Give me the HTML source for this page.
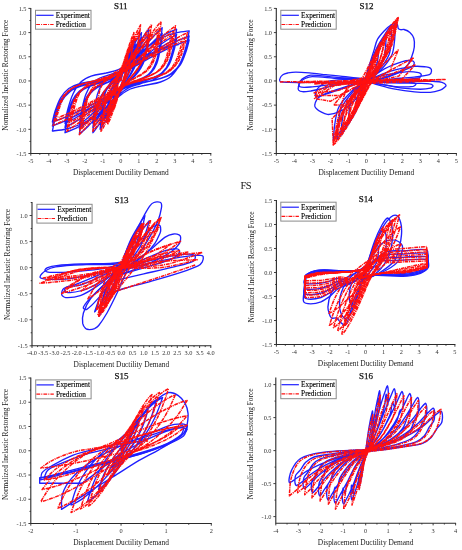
<!DOCTYPE html>
<html lang="en">
<head>
<meta charset="utf-8">
<title>Hysteresis loops: experiment vs prediction (S11-S16)</title>
<style>
html,body{margin:0;padding:0;background:#fff}
body{width:462px;height:550px;overflow:hidden}
svg{display:block;font-family:"Liberation Serif",serif}
.ax{fill:none;stroke:#2b2b2b;stroke-width:1.1}
.tk{fill:none;stroke:#2b2b2b;stroke-width:0.9}
.tl{font-size:6.3px;fill:#333}
.at{font-size:7.4px;fill:#222}
.ti{font-size:9px;fill:#111;stroke:#111;stroke-width:0.25}
.lt{font-size:7.3px;fill:#000;stroke:#000;stroke-width:0.12}
.fs{font-size:10.4px;fill:#111;letter-spacing:-0.4px}
.lg{fill:#fff;stroke:#8a8a8a;stroke-width:1}
.le{stroke-width:1.2 !important;stroke-linecap:butt !important}
.e{fill:none;stroke:#1f1fff;stroke-width:1.35;stroke-linejoin:round;stroke-linecap:round}
.p{fill:none;stroke:#ff1010;stroke-width:1.5;stroke-linejoin:round;stroke-dasharray:3.8 0.8 1.1 0.8}
.p.le{stroke-dasharray:3.8 1.1 1 1.1}
</style>
</head>
<body>
<svg width="462" height="550" viewBox="0 0 462 550">
<rect width="462" height="550" fill="#fff"/>
<g>
<path class="e" d="M120.8 81.0C121.5 78.3 123.3 70.2 124.8 65.0C126.0 61.4 128.2 56.1 128.9 54.3C128.8 55.2 128.6 57.9 128.4 59.7C128.2 61.6 127.9 63.6 127.6 65.5C127.3 67.3 126.9 69.1 126.5 70.8C126.0 72.6 125.4 74.4 124.8 76.2C124.4 77.6 123.8 79.0 123.2 80.4C122.7 81.8 122.1 83.1 121.6 84.4C121.0 85.9 120.5 87.4 120.0 88.9C119.3 90.7 118.7 92.5 118.0 94.3C117.3 96.2 116.7 98.2 115.9 100.1C115.3 101.7 114.7 103.3 114.0 104.9C113.6 105.8 112.9 107.1 112.7 107.6C112.8 106.7 113.0 104.2 113.2 102.5C113.4 100.6 113.7 98.8 114.0 96.9C114.3 95.2 114.7 93.5 115.1 91.9C115.6 90.2 116.2 88.5 116.8 86.8C117.2 85.5 117.8 84.1 118.4 82.8C118.9 81.5 119.5 80.3 120.0 79.0C120.6 77.6 121.1 76.1 121.6 74.7C122.3 73.0 122.9 71.3 123.6 69.6C124.3 67.8 124.9 65.9 125.7 64.1C126.3 62.6 126.9 61.0 127.6 59.5C128.0 58.7 128.7 57.4 128.9 57.0C128.8 57.8 128.6 60.2 128.4 61.8C128.2 63.6 127.9 65.3 127.6 67.1C127.3 68.7 126.9 70.3 126.5 71.9C126.0 73.5 125.4 75.1 124.8 76.6C124.4 77.9 123.8 79.2 123.2 80.5C122.7 81.7 122.1 82.9 121.6 84.1C121.0 85.4 120.5 86.8 120.0 88.1C119.3 89.7 118.7 91.3 118.0 92.9C117.3 94.7 116.7 96.4 115.9 98.2C115.3 99.6 114.7 101.1 114.0 102.5C113.6 103.3 112.9 104.5 112.7 104.9C112.8 104.1 113.0 101.8 113.2 100.3C113.4 98.6 113.7 96.9 114.0 95.3C114.3 93.7 114.7 92.2 115.1 90.7C115.6 89.2 116.2 87.6 116.8 86.1C117.2 84.9 117.8 83.7 118.4 82.5C118.9 81.3 119.5 80.2 120.0 79.0C120.6 77.8 121.1 76.4 121.6 75.2C122.3 73.6 122.9 72.1 123.6 70.6C124.3 68.9 124.9 67.2 125.7 65.5C126.3 64.2 126.9 62.8 127.6 61.4C128.0 60.6 128.7 59.5 128.9 59.1C128.8 59.9 128.6 62.1 128.4 63.5C128.2 65.1 127.9 66.7 127.6 68.3C127.3 69.8 126.9 71.2 126.5 72.7C126.0 74.1 125.4 75.6 124.8 77.0C124.4 78.2 123.8 79.4 123.2 80.5C122.7 81.6 122.1 82.7 121.6 83.8C121.0 85.0 120.5 86.3 120.0 87.5C119.3 89.0 118.7 90.4 118.0 91.9C117.3 93.5 116.7 95.1 115.9 96.7C115.3 98.0 114.7 99.3 114.0 100.6C113.6 101.3 112.9 102.4 112.7 102.8C112.8 101.7 113.1 98.6 113.4 96.5C113.7 94.2 114.0 91.8 114.5 89.5C114.9 87.4 115.4 85.3 116.1 83.3C116.7 81.1 117.5 79.0 118.3 77.0C119.0 75.3 119.8 73.6 120.6 71.9C121.3 70.3 122.1 68.8 122.8 67.2C123.6 65.4 124.3 63.6 125.1 61.9C126.0 59.8 126.9 57.7 127.8 55.6C128.8 53.3 129.7 50.9 130.7 48.6C131.6 46.7 132.4 44.8 133.4 43.0C133.9 41.9 134.9 40.4 135.2 39.8C135.1 41.2 134.7 45.3 134.3 48.1C133.9 51.1 133.5 54.1 132.9 57.1C132.3 59.9 131.7 62.6 130.9 65.3C130.1 68.1 129.1 70.8 128.0 73.5C127.1 75.8 126.1 77.9 125.1 80.1C124.2 82.2 123.1 84.2 122.2 86.3C121.2 88.6 120.3 91.0 119.4 93.3C118.2 96.0 117.0 98.8 115.9 101.5C114.6 104.5 113.5 107.6 112.2 110.6C111.1 113.0 109.9 115.5 108.7 118.0C108.0 119.4 106.8 121.4 106.4 122.1C106.5 120.8 106.9 116.8 107.3 114.3C107.7 111.4 108.1 108.5 108.7 105.7C109.3 103.0 109.9 100.4 110.7 97.8C111.5 95.2 112.5 92.6 113.6 90.0C114.5 87.9 115.5 85.9 116.5 83.8C117.4 81.8 118.4 79.9 119.4 77.9C120.4 75.7 121.3 73.5 122.2 71.3C123.4 68.7 124.6 66.1 125.7 63.5C127.0 60.6 128.1 57.7 129.4 54.9C130.5 52.5 131.7 50.2 132.9 47.9C133.6 46.5 134.8 44.6 135.2 43.9C135.1 45.2 134.7 48.9 134.3 51.3C133.9 54.1 133.5 56.8 132.9 59.5C132.3 62.0 131.7 64.5 130.9 66.9C130.0 69.4 129.0 71.9 128.0 74.3C127.1 76.3 126.1 78.2 125.1 80.2C124.2 82.1 123.2 83.9 122.2 85.8C121.2 87.8 120.3 90.0 119.4 92.1C118.2 94.5 117.0 97.0 115.9 99.5C114.6 102.2 113.5 104.9 112.2 107.6C111.1 109.8 109.9 112.1 108.7 114.3C108.0 115.5 106.8 117.3 106.4 118.0C106.5 116.8 106.9 113.2 107.3 110.9C107.7 108.3 108.1 105.7 108.7 103.1C109.3 100.7 109.9 98.3 110.7 96.0C111.6 93.6 112.6 91.3 113.6 89.0C114.5 87.0 115.5 85.2 116.5 83.3C117.4 81.5 118.4 79.8 119.4 78.0C120.4 76.0 121.3 74.0 122.2 72.0C123.4 69.6 124.6 67.3 125.7 64.9C127.0 62.3 128.1 59.7 129.4 57.1C130.5 55.0 131.7 52.9 132.9 50.8C133.6 49.6 134.8 47.8 135.2 47.2C135.1 48.4 134.7 51.7 134.3 54.0C133.9 56.5 133.5 59.0 132.9 61.4C132.3 63.7 131.7 65.9 130.9 68.1C130.0 70.4 129.0 72.7 128.0 74.9C127.1 76.7 126.1 78.5 125.1 80.3C124.2 82.0 123.2 83.6 122.2 85.3C121.2 87.2 120.3 89.2 119.4 91.1C118.2 93.3 117.0 95.6 115.9 97.8C114.6 100.3 113.5 102.8 112.2 105.2C111.1 107.3 109.9 109.3 108.7 111.3C108.0 112.5 106.8 114.1 106.4 114.7C106.6 113.3 107.0 109.2 107.5 106.5C107.9 103.4 108.5 100.4 109.2 97.4C109.9 94.7 110.7 91.9 111.7 89.2C112.7 86.4 113.9 83.7 115.2 81.0C116.2 78.8 117.5 76.6 118.7 74.4C119.8 72.4 121.1 70.4 122.2 68.3C123.4 66.0 124.5 63.6 125.7 61.3C127.1 58.6 128.5 55.8 129.9 53.1C131.4 50.1 132.9 47.0 134.5 44.1C135.8 41.6 137.2 39.1 138.7 36.7C139.6 35.3 141.0 33.3 141.5 32.6C141.3 34.2 140.8 39.0 140.3 42.3C139.7 45.8 139.0 49.4 138.2 52.9C137.4 56.2 136.4 59.4 135.3 62.6C134.1 65.9 132.7 69.1 131.2 72.2C129.9 74.9 128.4 77.4 127.0 80.0C125.7 82.4 124.2 84.8 122.9 87.2C121.4 89.9 120.1 92.7 118.7 95.5C117.1 98.7 115.4 101.9 113.8 105.1C112.0 108.7 110.3 112.3 108.4 115.8C106.8 118.7 105.2 121.6 103.4 124.5C102.4 126.1 100.7 128.5 100.1 129.3C100.3 127.8 100.8 123.2 101.3 120.1C101.9 116.7 102.6 113.3 103.4 110.0C104.2 106.9 105.2 103.8 106.3 100.8C107.5 97.7 108.9 94.6 110.4 91.6C111.7 89.1 113.2 86.7 114.6 84.3C115.9 82.0 117.4 79.7 118.7 77.4C120.2 74.8 121.5 72.2 122.9 69.6C124.5 66.5 126.2 63.5 127.8 60.4C129.6 57.0 131.3 53.6 133.2 50.3C134.8 47.5 136.4 44.7 138.2 42.0C139.2 40.4 140.9 38.2 141.5 37.4C141.3 38.9 140.8 43.2 140.3 46.1C139.7 49.3 139.0 52.6 138.2 55.7C137.4 58.6 136.4 61.6 135.3 64.4C134.1 67.4 132.6 70.3 131.2 73.1C129.9 75.5 128.4 77.8 127.0 80.1C125.7 82.3 124.2 84.4 122.9 86.6C121.4 89.0 120.1 91.5 118.7 94.0C117.1 96.9 115.4 99.8 113.8 102.7C112.0 105.9 110.3 109.1 108.4 112.3C106.8 114.9 105.1 117.6 103.4 120.1C102.4 121.6 100.7 123.8 100.1 124.5C100.3 123.1 100.8 118.9 101.3 116.2C101.9 113.1 102.6 110.0 103.4 107.0C104.2 104.2 105.2 101.4 106.3 98.7C107.5 95.8 109.0 93.1 110.4 90.4C111.7 88.1 113.2 85.9 114.6 83.7C115.9 81.6 117.4 79.6 118.7 77.5C120.2 75.2 121.5 72.8 122.9 70.4C124.5 67.6 126.2 64.9 127.8 62.1C129.6 59.0 131.4 55.9 133.2 52.9C134.8 50.4 136.5 47.9 138.2 45.4C139.2 44.0 140.9 42.0 141.5 41.3C141.3 42.6 140.8 46.6 140.3 49.2C139.7 52.2 139.0 55.1 138.2 57.9C137.4 60.6 136.4 63.3 135.3 65.9C134.1 68.6 132.6 71.2 131.2 73.8C129.9 76.0 128.4 78.1 127.0 80.2C125.7 82.2 124.2 84.1 122.9 86.1C121.4 88.3 120.1 90.6 118.7 92.8C117.1 95.5 115.4 98.1 113.8 100.8C112.0 103.7 110.2 106.6 108.4 109.5C106.8 111.9 105.1 114.3 103.4 116.6C102.4 118.0 100.7 119.9 100.1 120.6C100.3 119.0 100.8 114.0 101.3 110.7C102.0 106.4 102.6 102.0 103.7 97.8C104.5 94.7 105.6 91.6 107.0 88.7C108.2 86.1 109.7 83.6 111.4 81.3C113.0 79.2 114.9 77.2 116.7 75.2C118.3 73.4 120.0 71.7 121.5 69.8C123.1 67.9 124.4 65.8 125.8 63.8C127.8 60.8 129.8 57.7 131.8 54.7C134.0 51.3 136.1 47.8 138.2 44.4C140.3 41.2 142.3 38.1 144.4 35.0C145.7 33.0 148.0 30.2 148.7 29.2C148.5 31.1 147.9 36.7 147.3 40.5C146.5 45.3 145.8 50.3 144.6 55.0C143.7 58.6 142.4 62.1 140.8 65.4C139.4 68.3 137.6 71.1 135.7 73.7C133.9 76.1 131.7 78.3 129.7 80.6C127.8 82.7 125.8 84.6 124.1 86.8C122.3 88.9 120.8 91.2 119.2 93.5C116.9 97.0 114.6 100.4 112.3 103.9C109.8 107.7 107.4 111.6 104.9 115.5C102.6 119.1 100.3 122.7 97.9 126.2C96.3 128.4 93.7 131.6 92.9 132.7C93.1 130.9 93.7 125.6 94.3 122.0C95.1 117.4 95.8 112.7 97.0 108.2C97.9 104.8 99.2 101.5 100.8 98.3C102.2 95.6 104.0 92.9 105.9 90.5C107.7 88.1 109.9 86.1 111.9 83.9C113.8 81.9 115.8 80.1 117.5 78.0C119.3 76.0 120.8 73.8 122.4 71.6C124.7 68.3 127.0 65.1 129.3 61.8C131.8 58.1 134.2 54.4 136.7 50.7C139.0 47.3 141.3 43.9 143.7 40.6C145.3 38.4 147.9 35.4 148.7 34.4C148.5 36.1 147.9 41.1 147.3 44.5C146.5 48.9 145.8 53.3 144.6 57.6C143.7 60.8 142.4 64.0 140.8 66.9C139.4 69.6 137.6 72.1 135.7 74.4C133.9 76.6 131.7 78.6 129.7 80.6C127.8 82.5 125.8 84.2 124.1 86.2C122.4 88.1 120.8 90.2 119.2 92.3C116.9 95.3 114.6 98.5 112.3 101.6C109.8 105.0 107.4 108.6 104.9 112.0C102.6 115.3 100.3 118.5 97.9 121.6C96.3 123.7 93.7 126.5 92.9 127.5C93.1 125.9 93.7 121.1 94.3 117.8C95.1 113.7 95.8 109.4 97.0 105.3C97.9 102.3 99.2 99.2 100.8 96.4C102.2 93.9 104.0 91.5 105.9 89.3C107.7 87.1 109.9 85.3 111.9 83.3C113.8 81.5 115.8 79.9 117.5 78.0C119.2 76.2 120.8 74.2 122.4 72.2C124.7 69.3 127.0 66.3 129.3 63.3C131.8 60.0 134.2 56.6 136.7 53.3C139.0 50.2 141.3 47.1 143.7 44.1C145.3 42.2 147.9 39.4 148.7 38.5C148.5 40.1 147.9 44.7 147.3 47.7C146.5 51.7 145.8 55.8 144.6 59.7C143.7 62.6 142.4 65.5 140.8 68.2C139.4 70.6 137.6 72.9 135.7 75.0C133.9 77.0 131.7 78.8 129.7 80.7C127.8 82.4 125.8 83.9 124.1 85.7C122.4 87.5 120.8 89.4 119.2 91.3C116.9 94.1 114.6 96.9 112.3 99.8C109.8 102.9 107.4 106.1 104.9 109.3C102.6 112.2 100.3 115.2 97.9 118.0C96.3 119.9 93.7 122.5 92.9 123.4C93.1 121.4 93.7 115.5 94.3 111.6C95.2 105.8 95.8 100.0 97.4 94.4C98.4 90.9 99.9 87.4 101.9 84.3C103.3 82.2 105.4 80.5 107.5 79.0C110.0 77.2 113.0 76.0 115.8 74.5C118.1 73.2 120.5 72.2 122.7 70.7C124.5 69.5 126.1 68.1 127.5 66.6C130.7 63.3 133.6 59.7 136.6 56.2C139.7 52.5 142.8 48.7 145.9 45.0C149.0 41.5 152.0 37.9 155.3 34.4C157.5 32.1 161.0 28.9 162.2 27.7C161.9 29.9 161.3 36.5 160.5 40.9C159.5 47.3 158.7 53.8 156.8 60.0C155.6 64.0 153.8 67.9 151.4 71.2C149.8 73.6 147.3 75.5 144.8 77.1C141.7 79.2 138.2 80.5 134.9 82.2C132.1 83.6 129.2 84.7 126.6 86.4C124.5 87.7 122.6 89.3 120.8 91.0C117.0 94.6 113.6 98.6 110.0 102.5C106.3 106.6 102.6 110.8 98.9 114.9C95.2 118.9 91.5 122.9 87.7 126.7C85.0 129.3 80.8 132.9 79.4 134.2C79.7 132.1 80.3 126.0 81.1 121.9C82.1 115.8 82.9 109.6 84.8 103.7C85.9 100.1 87.9 96.5 90.2 93.5C91.9 91.2 94.4 89.4 96.8 87.9C99.9 85.9 103.4 84.5 106.7 82.9C109.5 81.5 112.4 80.4 115.0 78.9C117.1 77.7 119.0 76.3 120.8 74.7C124.5 71.5 128.1 67.9 131.6 64.4C135.4 60.6 139.0 56.6 142.7 52.7C146.5 48.8 150.1 44.7 153.9 40.9C156.6 38.2 160.8 34.4 162.2 33.1C161.9 35.0 161.3 40.8 160.5 44.7C159.5 50.4 158.7 56.4 156.8 61.9C155.6 65.4 153.7 68.8 151.4 71.6C149.7 73.8 147.2 75.5 144.8 76.9C141.7 78.8 138.2 80.1 134.9 81.6C132.1 82.9 129.2 84.0 126.6 85.4C124.6 86.5 122.6 87.9 120.8 89.4C117.1 92.4 113.6 95.8 110.0 99.2C106.2 102.8 102.6 106.5 98.9 110.2C95.1 114.0 91.5 117.8 87.7 121.5C85.0 124.0 80.8 127.6 79.4 128.8C79.7 127.0 80.3 121.4 81.1 117.8C82.1 112.2 82.9 106.5 84.8 101.3C86.0 98.0 87.9 94.7 90.2 92.0C91.9 89.9 94.4 88.3 96.8 86.9C99.9 85.1 103.4 83.9 106.7 82.4C109.5 81.2 112.3 80.2 115.0 78.8C117.0 77.7 119.0 76.5 120.8 75.0C124.5 72.1 128.0 68.9 131.6 65.7C135.4 62.2 139.0 58.6 142.7 55.1C146.5 51.5 150.1 47.9 153.9 44.4C156.6 41.9 160.8 38.5 162.2 37.3C161.9 39.1 161.3 44.4 160.5 47.9C159.5 53.1 158.7 58.6 156.8 63.6C155.6 66.8 153.7 69.9 151.4 72.4C149.7 74.5 147.2 76.0 144.8 77.3C141.7 79.0 138.2 80.1 134.9 81.6C132.1 82.7 129.3 83.7 126.6 85.0C124.6 86.0 122.6 87.2 120.8 88.6C117.1 91.4 113.6 94.5 110.0 97.5C106.2 100.8 102.6 104.3 98.9 107.6C95.1 111.0 91.5 114.5 87.7 117.9C85.0 120.2 80.8 123.5 79.4 124.6C79.7 122.5 80.5 116.1 81.3 112.0C82.6 106.2 83.7 100.3 85.7 94.8C87.2 90.8 89.3 86.7 92.0 83.5C94.0 81.1 97.0 79.3 99.8 78.0C103.5 76.2 107.6 75.4 111.5 74.1C114.7 72.9 118.2 72.1 121.2 70.6C123.7 69.3 125.9 67.4 128.0 65.6C132.4 61.6 136.3 57.2 140.6 53.1C144.9 49.2 149.1 45.1 153.8 41.6C157.9 38.5 162.4 35.8 166.9 33.3C170.0 31.7 175.0 29.9 176.6 29.2C176.2 31.5 175.4 38.4 174.4 42.9C173.0 49.2 171.7 55.6 169.3 61.5C167.6 65.9 165.2 70.3 162.1 73.8C159.8 76.4 156.4 78.3 153.2 79.8C149.0 81.7 144.2 82.5 139.8 84.0C136.0 85.2 132.1 86.1 128.6 87.8C125.8 89.2 123.2 91.2 120.8 93.2C115.8 97.5 111.2 102.4 106.3 106.7C101.4 111.1 96.5 115.5 91.2 119.3C86.5 122.7 81.3 125.6 76.2 128.2C72.6 130.0 66.9 132.0 65.0 132.7C65.4 130.7 66.3 124.5 67.2 120.5C68.7 114.6 69.8 108.4 72.3 102.8C73.9 99.0 76.6 95.4 79.5 92.5C82.0 90.1 85.3 88.4 88.4 87.0C92.7 85.0 97.4 83.9 101.8 82.3C105.5 81.0 109.4 80.0 113.0 78.5C115.7 77.3 118.3 75.8 120.8 74.2C125.8 70.8 130.5 67.1 135.3 63.5C140.4 59.7 145.3 55.7 150.4 52.0C155.3 48.3 160.3 44.6 165.4 41.2C169.1 38.7 174.7 35.5 176.6 34.4C176.2 36.3 175.3 42.1 174.4 45.9C172.9 51.5 171.8 57.4 169.3 62.7C167.7 66.3 165.0 69.8 162.1 72.5C159.6 74.8 156.3 76.3 153.2 77.7C148.9 79.5 144.2 80.6 139.8 82.1C136.1 83.3 132.2 84.3 128.6 85.7C125.9 86.8 123.3 88.2 120.8 89.8C115.8 93.0 111.1 96.6 106.3 100.0C101.2 103.6 96.3 107.3 91.2 110.9C86.3 114.3 81.3 117.8 76.2 121.1C72.5 123.4 66.9 126.5 65.0 127.5C65.4 125.7 66.3 120.1 67.2 116.5C68.7 111.1 69.9 105.5 72.3 100.5C73.9 97.0 76.6 93.7 79.5 91.1C82.0 88.9 85.3 87.4 88.4 86.1C92.7 84.4 97.4 83.3 101.8 81.9C105.5 80.8 109.4 79.8 113.0 78.4C115.7 77.4 118.3 76.1 120.8 74.6C125.8 71.5 130.5 68.1 135.3 64.8C140.4 61.4 145.3 57.8 150.4 54.4C155.3 51.1 160.3 47.8 165.4 44.7C169.1 42.5 174.7 39.5 176.6 38.5C176.2 40.3 175.3 45.6 174.4 49.0C172.9 54.2 171.7 59.6 169.3 64.3C167.6 67.7 165.0 70.8 162.1 73.2C159.6 75.4 156.3 76.8 153.2 78.0C148.8 79.7 144.2 80.7 139.8 82.0C136.1 83.1 132.2 84.0 128.6 85.3C125.9 86.3 123.3 87.6 120.8 89.0C115.8 91.9 111.1 95.2 106.3 98.3C101.2 101.6 96.3 105.0 91.2 108.2C86.2 111.4 81.3 114.6 76.2 117.5C72.5 119.6 66.9 122.4 65.0 123.4C65.4 121.2 66.3 114.7 67.5 110.4C69.0 104.8 70.6 99.0 73.1 93.8C75.1 89.5 77.8 85.0 81.1 81.8C83.8 79.2 87.5 77.5 91.1 76.2C95.8 74.5 101.0 74.1 106.0 73.0C110.1 72.0 114.5 71.4 118.4 69.7C121.5 68.4 124.4 66.3 127.1 64.2C132.7 59.8 137.6 54.6 143.2 50.3C148.6 46.2 154.1 41.9 160.0 38.8C165.2 36.0 171.1 34.3 176.8 32.7C180.8 31.7 187.1 31.2 189.2 30.9C188.7 33.2 187.7 40.3 186.5 44.9C184.8 51.0 183.1 57.3 180.3 62.9C178.0 67.6 175.1 72.4 171.4 75.9C168.5 78.7 164.4 80.6 160.5 82.0C155.2 83.8 149.5 84.2 144.1 85.5C139.5 86.5 134.7 87.2 130.4 89.0C126.9 90.4 123.8 92.7 120.8 95.0C114.7 99.7 109.2 105.3 103.0 110.0C97.1 114.5 91.1 119.1 84.5 122.5C78.8 125.5 72.4 127.3 66.1 129.0C61.6 130.2 54.7 130.7 52.4 131.0C52.9 129.0 53.9 122.9 55.1 119.0C56.9 113.2 58.4 107.1 61.3 101.9C63.4 98.0 66.7 94.3 70.2 91.5C73.3 89.1 77.3 87.5 81.1 86.2C86.4 84.3 92.1 83.3 97.5 81.8C102.1 80.6 106.8 79.7 111.2 78.2C114.5 77.0 117.7 75.5 120.8 73.8C126.9 70.4 132.6 66.5 138.6 62.9C144.7 59.1 150.8 55.2 157.1 51.6C163.1 48.2 169.3 44.9 175.5 41.8C180.0 39.6 186.9 36.9 189.2 35.9C188.7 37.8 187.7 43.6 186.5 47.2C184.7 52.7 183.2 58.5 180.3 63.5C178.1 67.2 174.9 70.7 171.4 73.3C168.3 75.7 164.3 77.1 160.5 78.4C155.1 80.2 149.5 81.1 144.1 82.5C139.5 83.6 134.8 84.5 130.4 86.0C127.1 87.0 123.9 88.5 120.8 90.1C114.7 93.3 109.0 97.0 103.0 100.5C96.9 104.0 90.8 107.7 84.5 111.1C78.5 114.4 72.3 117.5 66.1 120.4C61.6 122.5 54.7 125.1 52.4 126.0C52.9 124.2 53.9 118.7 55.1 115.2C56.9 109.9 58.5 104.3 61.3 99.7C63.5 96.0 66.8 92.7 70.2 90.3C73.4 88.0 77.3 86.6 81.1 85.4C86.5 83.7 92.1 82.8 97.5 81.5C102.1 80.4 106.8 79.6 111.2 78.2C114.5 77.1 117.7 75.8 120.8 74.2C126.8 71.2 132.6 67.6 138.6 64.3C144.7 60.9 150.8 57.4 157.1 54.2C163.1 51.0 169.3 48.0 175.5 45.2C180.0 43.3 186.9 40.8 189.2 39.9C188.7 41.6 187.7 46.9 186.5 50.2C184.7 55.3 183.1 60.6 180.3 65.0C178.1 68.5 174.8 71.6 171.4 74.0C168.2 76.2 164.2 77.5 160.5 78.6C155.1 80.2 149.5 81.1 144.1 82.3C139.5 83.4 134.8 84.2 130.4 85.5C127.1 86.5 123.9 87.8 120.8 89.3C114.8 92.2 109.0 95.6 103.0 98.7C96.9 102.0 90.8 105.3 84.5 108.4C78.5 111.4 72.3 114.3 66.1 116.9C61.6 118.8 54.7 121.2 52.4 122.0C52.8 120.3 53.8 115.0 54.9 111.7C56.5 107.0 58.1 102.0 60.6 97.8C62.7 94.3 65.6 90.9 68.8 88.5C71.7 86.3 75.4 85.0 78.9 84.0C83.8 82.5 88.9 82.0 94.0 80.9C98.2 80.0 102.5 79.4 106.6 78.1C109.6 77.1 112.6 75.5 115.4 73.9C121.0 70.7 126.2 66.9 131.8 63.6C137.4 60.3 142.9 56.9 148.8 54.2C154.3 51.7 160.0 49.6 165.8 47.8C169.9 46.4 176.3 45.2 178.4 44.7"/>
<path class="p" d="M120.8 81.0C121.4 78.0 123.0 69.3 124.4 63.5C125.4 59.6 127.4 53.9 128.0 51.9C127.9 52.9 127.8 55.8 127.6 57.7C127.4 59.9 127.1 62.0 126.8 64.1C126.6 66.1 126.2 68.0 125.8 69.9C125.4 71.9 124.9 73.8 124.4 75.7C124.0 77.3 123.5 78.8 123.0 80.4C122.5 81.8 122.0 83.3 121.5 84.7C121.0 86.4 120.6 88.0 120.1 89.7C119.5 91.6 118.9 93.5 118.4 95.5C117.7 97.6 117.1 99.7 116.5 101.8C115.9 103.6 115.4 105.3 114.8 107.1C114.4 108.0 113.8 109.5 113.6 110.0C113.7 109.1 113.8 106.3 114.0 104.5C114.2 102.4 114.4 100.4 114.7 98.4C115.0 96.5 115.3 94.7 115.7 92.9C116.1 91.0 116.6 89.2 117.1 87.4C117.6 85.9 118.1 84.4 118.5 83.0C119.0 81.6 119.5 80.2 120.0 78.8C120.4 77.3 120.9 75.7 121.4 74.1C121.9 72.3 122.5 70.5 123.1 68.6C123.7 66.6 124.2 64.6 124.9 62.6C125.4 60.9 126.0 59.2 126.6 57.6C126.9 56.7 127.5 55.3 127.7 54.8C127.6 55.7 127.5 58.3 127.3 60.1C127.1 62.0 126.9 63.9 126.6 65.8C126.3 67.6 126.0 69.3 125.6 71.0C125.2 72.8 124.8 74.5 124.3 76.2C123.8 77.7 123.3 79.0 122.9 80.4C122.4 81.7 121.9 83.0 121.5 84.3C121.0 85.8 120.6 87.3 120.1 88.8C119.6 90.5 119.0 92.3 118.4 94.0C117.8 95.9 117.3 97.8 116.7 99.8C116.1 101.3 115.6 102.9 115.0 104.5C114.7 105.3 114.1 106.6 113.9 107.1C114.0 106.2 114.1 103.7 114.3 102.1C114.5 100.2 114.7 98.4 115.0 96.6C115.2 94.9 115.5 93.2 115.9 91.6C116.3 89.9 116.8 88.3 117.3 86.6C117.7 85.3 118.2 83.9 118.6 82.6C119.1 81.4 119.6 80.1 120.0 78.9C120.5 77.5 120.9 76.0 121.3 74.6C121.9 73.0 122.4 71.3 123.0 69.6C123.5 67.8 124.1 66.0 124.7 64.1C125.2 62.6 125.8 61.1 126.3 59.6C126.7 58.8 127.2 57.6 127.4 57.2C127.4 57.9 127.2 60.3 127.0 61.9C126.8 63.7 126.6 65.4 126.4 67.1C126.1 68.7 125.8 70.3 125.4 71.9C125.1 73.5 124.6 75.1 124.1 76.7C123.7 77.9 123.2 79.2 122.8 80.5C122.4 81.7 121.9 82.8 121.5 84.0C121.0 85.4 120.6 86.7 120.1 88.1C119.6 89.7 119.1 91.3 118.5 92.8C118.0 94.6 117.4 96.3 116.8 98.1C116.3 99.5 115.8 101.0 115.2 102.4C114.9 103.2 114.4 104.3 114.2 104.7C114.3 103.5 114.5 99.9 114.8 97.5C115.0 94.9 115.3 92.2 115.8 89.6C116.1 87.2 116.6 84.8 117.1 82.4C117.7 79.9 118.4 77.5 119.1 75.2C119.7 73.2 120.4 71.3 121.1 69.4C121.7 67.6 122.4 65.8 123.1 64.0C123.8 61.9 124.4 59.9 125.0 57.8C125.8 55.4 126.6 53.0 127.4 50.6C128.3 48.0 129.1 45.3 130.0 42.7C130.7 40.5 131.5 38.3 132.4 36.2C132.8 35.0 133.7 33.2 133.9 32.6C133.8 34.1 133.5 38.7 133.2 41.8C132.8 45.2 132.4 48.5 131.8 51.9C131.3 55.0 130.7 58.0 130.0 61.1C129.2 64.2 128.3 67.2 127.4 70.3C126.6 72.7 125.6 75.2 124.7 77.6C123.9 79.9 122.9 82.2 122.1 84.5C121.2 87.1 120.4 89.7 119.5 92.3C118.4 95.4 117.4 98.4 116.3 101.5C115.2 104.9 114.1 108.3 112.9 111.6C111.9 114.4 110.9 117.2 109.8 119.9C109.1 121.4 108.0 123.7 107.7 124.5C107.8 123.0 108.1 118.7 108.4 115.8C108.8 112.6 109.2 109.4 109.7 106.2C110.2 103.3 110.8 100.4 111.5 97.5C112.3 94.6 113.2 91.7 114.1 88.8C114.9 86.4 115.8 84.1 116.7 81.8C117.5 79.6 118.4 77.5 119.2 75.3C120.2 72.8 121.0 70.4 121.8 67.9C122.8 65.0 123.9 62.1 124.9 59.2C126.0 56.0 127.1 52.8 128.3 49.6C129.2 47.0 130.3 44.4 131.4 41.8C132.0 40.3 133.1 38.1 133.4 37.4C133.3 38.8 133.0 42.9 132.7 45.7C132.3 48.7 131.9 51.8 131.4 54.8C130.9 57.6 130.3 60.3 129.6 63.1C128.9 65.8 128.0 68.6 127.1 71.3C126.3 73.6 125.4 75.8 124.6 77.9C123.8 80.0 122.9 82.1 122.1 84.1C121.2 86.5 120.4 88.8 119.5 91.2C118.5 93.9 117.5 96.7 116.5 99.5C115.4 102.5 114.4 105.5 113.2 108.5C112.3 111.1 111.3 113.5 110.2 116.0C109.6 117.4 108.5 119.4 108.2 120.1C108.3 118.8 108.6 114.9 108.9 112.2C109.3 109.3 109.6 106.4 110.2 103.6C110.6 100.9 111.2 98.3 111.9 95.7C112.6 93.0 113.5 90.4 114.4 87.8C115.1 85.7 116.0 83.6 116.8 81.5C117.6 79.5 118.5 77.6 119.3 75.6C120.2 73.4 120.9 71.1 121.8 68.9C122.8 66.3 123.8 63.6 124.7 61.0C125.8 58.1 126.8 55.2 127.9 52.3C128.9 49.9 129.9 47.6 130.9 45.2C131.5 43.9 132.6 41.9 132.9 41.3C132.8 42.5 132.5 46.3 132.2 48.8C131.8 51.6 131.5 54.4 131.0 57.1C130.5 59.6 129.9 62.2 129.3 64.6C128.6 67.2 127.7 69.7 126.8 72.2C126.1 74.2 125.3 76.2 124.4 78.2C123.6 80.1 122.8 82.0 122.0 83.9C121.2 86.0 120.4 88.1 119.6 90.3C118.6 92.8 117.7 95.3 116.7 97.8C115.6 100.6 114.6 103.4 113.5 106.1C112.6 108.4 111.7 110.6 110.6 112.9C110.1 114.2 109.0 116.0 108.7 116.6C108.9 115.1 109.3 110.5 109.7 107.5C110.1 104.1 110.6 100.7 111.3 97.4C111.9 94.3 112.6 91.2 113.5 88.2C114.4 85.1 115.5 82.0 116.7 79.0C117.6 76.5 118.8 74.1 119.9 71.7C120.9 69.4 122.1 67.1 123.1 64.8C124.2 62.2 125.2 59.6 126.3 57.0C127.5 53.9 128.8 50.9 130.1 47.8C131.5 44.4 132.8 41.0 134.2 37.7C135.4 34.9 136.7 32.2 138.0 29.4C138.8 27.9 140.2 25.6 140.6 24.8C140.4 26.6 139.9 32.0 139.4 35.5C138.9 39.4 138.3 43.3 137.4 47.2C136.7 50.8 135.8 54.3 134.7 57.8C133.5 61.4 132.1 65.0 130.7 68.5C129.5 71.4 128.1 74.2 126.7 77.0C125.5 79.7 124.0 82.3 122.8 85.0C121.4 87.9 120.2 91.0 118.8 94.0C117.2 97.6 115.6 101.1 114.1 104.6C112.3 108.5 110.7 112.5 108.9 116.4C107.4 119.6 105.8 122.8 104.2 125.9C103.2 127.8 101.5 130.4 101.0 131.3C101.2 129.6 101.7 124.5 102.2 121.2C102.7 117.5 103.3 113.7 104.1 110.1C104.9 106.7 105.7 103.3 106.8 100.0C107.9 96.6 109.3 93.2 110.7 89.9C111.9 87.2 113.3 84.5 114.6 81.9C115.8 79.3 117.2 76.9 118.5 74.3C119.8 71.5 121.0 68.6 122.3 65.7C123.9 62.4 125.5 59.0 127.0 55.7C128.7 52.0 130.3 48.2 132.0 44.6C133.5 41.5 135.1 38.5 136.7 35.5C137.7 33.8 139.3 31.3 139.8 30.5C139.6 32.1 139.1 36.9 138.7 40.0C138.1 43.6 137.6 47.1 136.8 50.6C136.0 53.8 135.2 57.0 134.1 60.1C133.0 63.4 131.7 66.6 130.3 69.7C129.2 72.3 127.8 74.8 126.5 77.4C125.3 79.8 123.9 82.1 122.7 84.6C121.4 87.2 120.2 90.0 118.9 92.7C117.4 95.9 115.8 99.1 114.3 102.3C112.7 105.8 111.1 109.3 109.4 112.8C108.0 115.7 106.4 118.6 104.8 121.4C103.9 123.1 102.3 125.4 101.8 126.2C102.0 124.7 102.4 120.1 102.9 117.1C103.4 113.7 104.0 110.4 104.8 107.1C105.5 104.0 106.3 100.9 107.4 97.9C108.5 94.8 109.7 91.8 111.1 88.8C112.2 86.3 113.5 83.9 114.8 81.5C116.0 79.2 117.4 77.0 118.5 74.6C119.8 72.1 121.0 69.5 122.3 66.9C123.7 63.8 125.3 60.8 126.7 57.8C128.4 54.4 129.9 51.0 131.6 47.7C133.0 44.9 134.5 42.2 136.0 39.5C137.0 37.9 138.5 35.7 139.0 34.9C138.8 36.4 138.4 40.8 137.9 43.7C137.4 46.9 136.9 50.1 136.1 53.3C135.4 56.2 134.6 59.1 133.6 62.0C132.5 65.0 131.2 67.9 129.9 70.7C128.8 73.1 127.5 75.4 126.3 77.7C125.1 79.9 123.8 82.0 122.6 84.2C121.3 86.7 120.2 89.2 119.0 91.7C117.5 94.6 116.1 97.5 114.6 100.4C113.0 103.6 111.5 106.8 109.9 110.0C108.5 112.6 107.0 115.3 105.5 117.8C104.6 119.3 103.1 121.5 102.6 122.2C102.8 120.4 103.3 115.1 103.8 111.6C104.5 107.0 105.1 102.4 106.2 97.9C107.0 94.6 108.1 91.3 109.5 88.1C110.7 85.4 112.3 82.7 114.0 80.2C115.6 77.9 117.5 75.8 119.3 73.6C120.9 71.7 122.7 69.8 124.2 67.7C125.8 65.7 127.1 63.5 128.5 61.3C130.6 58.1 132.6 54.8 134.6 51.5C136.8 47.9 138.9 44.2 141.1 40.5C143.1 37.2 145.1 33.8 147.2 30.5C148.6 28.4 150.9 25.4 151.6 24.4C151.3 26.2 150.6 31.9 150.0 35.6C149.1 40.1 148.4 44.7 147.1 49.2C146.1 52.8 144.7 56.4 143.1 59.8C141.5 63.2 139.5 66.3 137.5 69.4C135.6 72.1 133.4 74.6 131.3 77.1C129.4 79.5 127.3 81.8 125.5 84.2C123.5 86.8 121.8 89.5 120.0 92.1C117.6 95.7 115.2 99.3 112.8 102.8C110.2 106.8 107.8 110.8 105.1 114.7C102.8 118.2 100.4 121.7 97.9 125.1C96.3 127.2 93.7 130.2 92.9 131.3C93.2 129.4 93.8 124.0 94.4 120.4C95.2 115.9 95.9 111.3 97.2 106.8C98.2 103.4 99.5 99.9 101.1 96.7C102.6 93.7 104.5 90.9 106.5 88.2C108.3 85.7 110.5 83.5 112.6 81.1C114.5 79.0 116.6 77.0 118.4 74.8C120.2 72.5 121.8 70.1 123.5 67.7C125.9 64.4 128.3 61.0 130.6 57.6C133.2 53.9 135.6 50.0 138.2 46.3C140.5 42.9 142.9 39.5 145.4 36.1C146.9 34.0 149.5 31.0 150.3 30.0C150.1 31.7 149.4 36.7 148.8 40.0C148.0 43.9 147.2 47.9 146.0 51.7C145.0 55.0 143.6 58.3 142.1 61.3C140.5 64.4 138.6 67.4 136.7 70.2C134.9 72.7 132.8 75.0 130.8 77.4C129.0 79.6 127.0 81.8 125.2 84.0C123.3 86.4 121.6 89.0 119.9 91.5C117.6 94.7 115.3 97.9 113.0 101.1C110.5 104.6 108.2 108.2 105.6 111.7C103.4 114.9 101.1 117.9 98.7 120.9C97.2 122.8 94.8 125.3 94.0 126.2C94.3 124.6 94.9 119.8 95.5 116.6C96.3 112.6 97.0 108.6 98.2 104.7C99.2 101.6 100.5 98.5 102.0 95.6C103.5 92.8 105.3 90.1 107.2 87.5C109.0 85.2 111.0 83.1 113.0 80.9C114.8 78.9 116.8 77.0 118.5 74.9C120.3 72.8 121.9 70.5 123.6 68.2C125.8 65.2 128.1 62.2 130.3 59.1C132.8 55.7 135.1 52.2 137.6 48.9C139.8 45.8 142.1 42.8 144.4 39.9C145.9 38.0 148.3 35.4 149.1 34.5C148.9 36.0 148.2 40.5 147.6 43.5C146.8 46.9 146.0 50.4 144.9 53.8C143.9 56.8 142.6 59.7 141.1 62.5C139.6 65.4 137.8 68.2 135.8 70.9C134.2 73.3 132.2 75.4 130.3 77.6C128.6 79.7 126.7 81.7 124.9 83.9C123.1 86.2 121.5 88.6 119.7 90.9C117.5 93.8 115.3 96.8 113.2 99.7C110.8 102.9 108.5 106.2 106.1 109.4C104.0 112.2 101.8 114.9 99.6 117.5C98.2 119.2 95.9 121.4 95.1 122.2C95.4 120.2 95.9 114.1 96.5 110.1C97.3 104.0 97.9 97.9 99.4 92.0C100.3 88.5 101.8 85.0 103.7 81.9C105.0 79.7 107.0 77.9 109.0 76.3C111.4 74.4 114.3 73.0 116.9 71.3C119.1 69.9 121.4 68.8 123.5 67.3C125.2 66.1 126.7 64.7 128.1 63.3C131.1 60.0 133.9 56.6 136.7 53.2C139.8 49.4 142.7 45.5 145.6 41.6C148.6 37.6 151.5 33.5 154.5 29.5C156.6 26.8 160.0 22.8 161.1 21.5C160.8 23.7 160.2 30.6 159.5 35.1C158.4 41.9 157.7 48.9 155.8 55.4C154.7 59.4 152.8 63.4 150.5 66.8C148.8 69.3 146.4 71.3 144.0 73.0C140.9 75.2 137.4 76.8 134.2 78.7C131.4 80.2 128.6 81.5 126.0 83.2C123.9 84.5 122.0 86.0 120.3 87.7C116.6 91.4 113.1 95.2 109.6 99.1C105.9 103.4 102.2 107.8 98.6 112.2C94.9 116.6 91.3 121.2 87.6 125.7C84.9 128.7 80.8 133.1 79.4 134.6C79.7 132.5 80.4 126.1 81.1 121.9C82.1 115.7 82.9 109.3 84.7 103.2C85.8 99.5 87.7 95.7 89.9 92.5C91.6 90.1 94.1 88.0 96.5 86.2C99.4 84.1 102.8 82.5 106.0 80.6C108.6 79.1 111.4 77.7 114.0 76.0C116.0 74.6 118.0 73.1 119.8 71.3C123.4 67.9 126.8 64.3 130.1 60.6C133.8 56.6 137.3 52.5 140.9 48.3C144.5 44.2 148.0 39.8 151.6 35.7C154.2 32.9 158.2 28.8 159.5 27.4C159.2 29.4 158.6 35.6 157.9 39.6C156.9 45.7 156.2 52.0 154.4 57.8C153.3 61.4 151.5 65.0 149.3 68.0C147.7 70.3 145.3 72.1 143.0 73.7C140.1 75.7 136.7 77.1 133.6 78.8C131.0 80.2 128.3 81.4 125.7 83.0C123.8 84.2 121.9 85.6 120.2 87.1C116.7 90.3 113.3 93.8 110.0 97.3C106.4 101.1 102.9 105.1 99.4 109.0C95.9 113.0 92.5 117.2 88.9 121.2C86.4 123.9 82.4 127.9 81.1 129.3C81.3 127.4 82.0 121.7 82.7 118.0C83.8 112.5 84.5 106.9 86.3 101.7C87.4 98.3 89.2 94.9 91.3 92.0C93.0 89.6 95.4 87.6 97.8 85.9C100.5 83.8 103.7 82.3 106.7 80.5C109.2 79.0 111.9 77.7 114.4 76.0C116.4 74.6 118.3 73.0 120.2 71.3C123.6 68.2 126.8 64.9 130.0 61.6C133.5 58.0 136.9 54.2 140.3 50.5C143.7 46.8 147.0 43.0 150.5 39.4C152.9 36.9 156.7 33.4 157.9 32.2C157.6 34.0 157.0 39.5 156.3 43.1C155.3 48.4 154.6 53.9 152.9 59.0C151.8 62.3 150.0 65.5 147.9 68.3C146.3 70.5 144.0 72.3 141.7 73.9C139.0 75.8 135.9 77.2 132.9 78.9C130.4 80.3 127.8 81.4 125.4 83.0C123.4 84.2 121.6 85.6 119.9 87.2C116.5 90.1 113.3 93.3 110.2 96.5C106.7 99.9 103.4 103.5 100.1 107.1C96.7 110.7 93.5 114.4 90.1 117.9C87.7 120.3 83.9 123.8 82.7 125.0C83.0 122.9 83.8 116.8 84.6 112.8C85.8 106.8 86.7 100.7 88.7 95.0C90.1 91.3 92.3 87.7 94.8 84.7C96.7 82.4 99.5 80.7 102.2 79.2C105.7 77.2 109.6 76.0 113.3 74.4C116.4 73.1 119.6 72.0 122.6 70.5C124.9 69.3 127.1 67.9 129.1 66.3C133.3 63.0 137.2 59.3 141.2 55.8C145.4 52.0 149.5 48.1 153.7 44.2C157.9 40.5 162.0 36.6 166.2 33.0C169.2 30.5 174.0 27.0 175.5 25.8C175.2 28.0 174.3 34.5 173.3 38.7C171.9 45.1 170.8 51.7 168.5 57.7C166.9 61.7 164.3 65.5 161.4 68.6C159.0 71.1 155.8 72.9 152.7 74.5C148.5 76.6 144.0 77.9 139.6 79.6C136.0 80.9 132.3 82.1 128.8 83.7C126.1 84.9 123.5 86.5 121.2 88.2C116.3 91.7 111.7 95.5 107.0 99.3C102.1 103.3 97.3 107.5 92.3 111.6C87.5 115.6 82.7 119.7 77.7 123.6C74.2 126.3 68.6 130.0 66.8 131.3C67.2 129.2 68.0 123.1 68.9 119.1C70.3 113.0 71.4 106.7 73.7 101.1C75.3 97.3 77.8 93.7 80.6 90.8C83.0 88.4 86.1 86.7 89.2 85.2C93.2 83.2 97.7 82.0 102.0 80.4C105.5 79.0 109.2 78.0 112.6 76.4C115.2 75.3 117.7 73.8 120.1 72.2C124.8 68.9 129.4 65.3 133.9 61.7C138.8 57.9 143.5 54.0 148.3 50.1C153.1 46.3 157.8 42.4 162.7 38.7C166.1 36.1 171.6 32.6 173.3 31.3C173.0 33.3 172.1 39.1 171.2 42.9C169.9 48.6 168.8 54.6 166.5 60.0C165.0 63.6 162.5 67.0 159.8 69.8C157.5 72.0 154.4 73.6 151.4 75.0C147.4 76.9 143.1 78.1 138.9 79.6C135.4 80.9 131.8 81.9 128.5 83.4C125.9 84.5 123.4 85.8 121.1 87.4C116.5 90.5 112.0 93.9 107.6 97.3C102.8 100.9 98.2 104.7 93.5 108.3C88.8 112.0 84.2 115.7 79.4 119.2C76.0 121.7 70.7 125.0 69.0 126.2C69.3 124.4 70.1 118.8 71.0 115.2C72.3 109.7 73.4 104.0 75.6 98.9C77.1 95.5 79.6 92.2 82.2 89.6C84.5 87.5 87.5 86.0 90.4 84.6C94.3 82.8 98.6 81.7 102.7 80.2C106.1 79.0 109.6 78.0 112.9 76.6C115.4 75.6 117.8 74.3 120.1 72.9C124.6 69.9 129.0 66.6 133.3 63.4C138.0 60.0 142.5 56.4 147.1 52.9C151.7 49.5 156.2 45.9 160.9 42.5C164.2 40.1 169.4 36.9 171.1 35.7C170.8 37.5 170.0 42.8 169.1 46.3C167.8 51.5 166.8 57.0 164.6 61.8C163.2 65.1 160.8 68.2 158.1 70.7C155.9 72.8 153.0 74.2 150.1 75.5C146.3 77.2 142.1 78.3 138.1 79.7C134.8 80.8 131.4 81.8 128.1 83.1C125.7 84.1 123.3 85.3 121.1 86.7C116.7 89.5 112.4 92.6 108.1 95.7C103.6 99.0 99.1 102.4 94.6 105.7C90.1 109.0 85.7 112.5 81.1 115.7C77.9 118.0 72.8 121.1 71.1 122.2C71.5 120.3 72.4 114.7 73.4 111.0C75.0 105.6 76.2 99.9 78.7 94.9C80.5 91.3 83.2 88.0 86.2 85.4C88.8 83.1 92.3 81.6 95.5 80.3C100.0 78.6 104.8 77.5 109.5 76.1C113.4 75.0 117.3 74.1 121.1 72.7C123.9 71.6 126.7 70.2 129.3 68.7C134.4 65.6 139.4 62.1 144.4 58.7C149.6 55.2 154.8 51.6 160.1 48.2C165.2 44.9 170.4 41.6 175.8 38.6C179.6 36.4 185.5 33.6 187.4 32.6C187.0 34.5 185.9 40.4 184.7 44.2C183.0 49.8 181.5 55.8 178.7 60.9C176.6 64.7 173.4 68.1 169.9 70.8C166.9 73.2 162.9 74.7 159.2 76.0C154.0 77.9 148.5 78.9 143.1 80.3C138.6 81.5 134.0 82.5 129.7 83.9C126.4 85.0 123.3 86.5 120.3 88.1C114.3 91.3 108.6 95.0 102.8 98.4C96.8 102.1 90.8 105.8 84.7 109.3C78.7 112.8 72.7 116.2 66.5 119.3C62.2 121.5 55.4 124.4 53.1 125.4C53.6 123.6 54.6 118.1 55.8 114.5C57.5 109.2 58.9 103.5 61.7 98.7C63.7 95.1 66.9 91.8 70.2 89.4C73.3 87.1 77.1 85.7 80.8 84.4C85.9 82.7 91.3 81.7 96.6 80.3C100.9 79.1 105.4 78.3 109.7 76.9C112.9 75.8 116.0 74.5 118.9 73.0C124.7 70.0 130.4 66.6 136.0 63.3C142.0 59.9 147.8 56.4 153.8 53.0C159.7 49.7 165.6 46.4 171.6 43.4C175.9 41.2 182.5 38.4 184.7 37.4C184.3 39.1 183.3 44.4 182.2 47.8C180.5 52.9 179.0 58.3 176.4 62.8C174.3 66.3 171.2 69.4 168.0 71.7C165.0 73.9 161.2 75.2 157.7 76.4C152.6 78.1 147.4 79.0 142.2 80.3C137.9 81.4 133.5 82.2 129.3 83.6C126.2 84.6 123.2 85.8 120.3 87.3C114.6 90.1 109.1 93.4 103.5 96.5C97.7 99.7 92.0 103.1 86.1 106.3C80.4 109.4 74.6 112.5 68.7 115.4C64.5 117.4 58.0 120.1 55.8 121.0C56.2 119.4 57.3 114.4 58.4 111.2C60.0 106.3 61.4 101.1 64.0 96.8C66.0 93.5 69.1 90.6 72.2 88.4C75.2 86.3 78.9 85.1 82.3 84.0C87.3 82.3 92.4 81.4 97.5 80.2C101.7 79.1 106.0 78.3 110.1 77.1C113.1 76.1 116.1 75.0 118.9 73.6C124.5 70.9 129.9 67.8 135.4 64.9C141.1 61.8 146.7 58.6 152.4 55.6C158.0 52.6 163.7 49.6 169.4 46.8C173.6 44.8 180.0 42.2 182.1 41.3C181.7 42.9 180.7 47.6 179.6 50.7C178.0 55.4 176.6 60.3 174.0 64.4C172.1 67.6 169.1 70.3 166.0 72.5C163.1 74.4 159.5 75.6 156.1 76.7C151.3 78.2 146.2 79.1 141.3 80.3C137.2 81.3 133.0 82.1 129.0 83.3C126.0 84.2 123.1 85.3 120.3 86.6C114.9 89.2 109.6 92.1 104.2 94.9C98.7 97.9 93.2 100.9 87.6 103.8C82.0 106.7 76.5 109.6 70.9 112.2C66.8 114.1 60.6 116.6 58.5 117.4"/>
<path class="ax" d="M30.8 7.9V153.5H211.3"/>
<path class="tk" d="M30.8 153.5v2.2M39.8 153.5v1.3M48.8 153.5v2.2M57.8 153.5v1.3M66.8 153.5v2.2M75.8 153.5v1.3M84.8 153.5v2.2M93.8 153.5v1.3M102.8 153.5v2.2M111.8 153.5v1.3M120.8 153.5v2.2M129.8 153.5v1.3M138.8 153.5v2.2M147.8 153.5v1.3M156.8 153.5v2.2M165.8 153.5v1.3M174.8 153.5v2.2M183.8 153.5v1.3M192.8 153.5v2.2M201.8 153.5v1.3M210.8 153.5v2.2M30.8 153.5h-2.4M30.8 141.41h-1.3M30.8 129.32h-2.4M30.8 117.22h-1.3M30.8 105.13h-2.4M30.8 93.04h-1.3M30.8 80.95h-2.4M30.8 68.86h-1.3M30.8 56.77h-2.4M30.8 44.67h-1.3M30.8 32.58h-2.4M30.8 20.49h-1.3M30.8 8.4h-2.4"/>
<text class="tl" x="30.8" y="162.8" text-anchor="middle">-5</text>
<text class="tl" x="48.8" y="162.8" text-anchor="middle">-4</text>
<text class="tl" x="66.8" y="162.8" text-anchor="middle">-3</text>
<text class="tl" x="84.8" y="162.8" text-anchor="middle">-2</text>
<text class="tl" x="102.8" y="162.8" text-anchor="middle">-1</text>
<text class="tl" x="120.8" y="162.8" text-anchor="middle">0</text>
<text class="tl" x="138.8" y="162.8" text-anchor="middle">1</text>
<text class="tl" x="156.8" y="162.8" text-anchor="middle">2</text>
<text class="tl" x="174.8" y="162.8" text-anchor="middle">3</text>
<text class="tl" x="192.8" y="162.8" text-anchor="middle">4</text>
<text class="tl" x="210.8" y="162.8" text-anchor="middle">5</text>
<text class="tl" x="26.5" y="155.7" text-anchor="end">-1.5</text>
<text class="tl" x="26.5" y="131.52" text-anchor="end">-1.0</text>
<text class="tl" x="26.5" y="107.33" text-anchor="end">-0.5</text>
<text class="tl" x="26.5" y="83.15" text-anchor="end">0.0</text>
<text class="tl" x="26.5" y="58.97" text-anchor="end">0.5</text>
<text class="tl" x="26.5" y="34.78" text-anchor="end">1.0</text>
<text class="tl" x="26.5" y="10.6" text-anchor="end">1.5</text>
<text class="at" x="120.8" y="175.1" text-anchor="middle">Displacement Ductility Demand</text>
<text class="at" transform="translate(8.2 75.3) rotate(-90)" text-anchor="middle">Normalized Inelastic Restoring Force</text>
<text class="ti" x="120.8" y="9.4" text-anchor="middle">S11</text>
<rect class="lg" x="35.5" y="10.3" width="55.5" height="18.9"/>
<path class="e le" d="M36.2 15.3h17.4"/>
<path class="p le" d="M36.2 24.5h17.4"/>
<text class="lt" x="55.8" y="17.8">Experiment</text>
<text class="lt" x="55.8" y="27">Prediction</text>
</g>
<g>
<path class="e" d="M371.8 80.0C367.4 79.4 354.4 77.7 345.6 76.6C339.1 75.9 332.5 75.3 326.0 74.7C320.4 74.1 314.9 73.4 309.3 72.9C304.8 72.5 300.2 72.1 295.8 72.1C293.2 72.1 290.6 72.4 288.1 72.9C286.3 73.3 284.2 73.7 282.8 74.8C281.5 75.7 280.3 77.4 279.8 78.9C279.5 79.7 279.7 81.3 280.4 81.6C282.7 82.5 286.1 82.3 288.9 82.4C296.7 82.6 304.5 82.5 312.3 82.4C324.3 82.3 336.3 82.4 348.3 81.9C356.2 81.6 367.9 80.3 371.8 80.0"/>
<path class="e" d="M370.0 78.5C364.8 78.4 349.5 78.1 339.3 77.6C329.8 77.0 320.3 75.2 310.9 75.1C308.7 75.1 306.6 76.3 304.8 77.4C303.1 78.3 301.3 79.6 300.3 81.1C299.1 82.9 298.6 85.2 298.3 87.2C298.1 88.2 298.1 89.5 298.6 90.1C299.4 91.0 301.1 91.6 302.4 91.7C305.2 91.9 308.1 91.4 310.9 91.0C314.4 90.4 318.0 89.5 321.5 88.7C326.6 87.5 331.5 86.0 336.6 85.0C346.5 83.1 361.4 80.8 366.4 80.0"/>
<path class="e" d="M370.0 78.5C364.8 78.5 349.5 78.9 339.3 78.5C330.3 78.2 321.3 76.6 312.3 76.6C309.9 76.6 307.3 77.5 305.1 78.5C303.2 79.4 301.4 80.9 300.1 82.4C299.4 83.1 298.8 84.5 299.0 85.3C299.2 86.1 300.5 87.1 301.5 87.2C304.9 87.6 308.7 87.1 312.3 86.8C320.4 86.0 328.5 84.7 336.6 83.9C346.5 82.8 361.4 81.4 366.4 81.0"/>
<path class="e" d="M368.2 78.5C364.2 78.7 352.5 79.0 344.7 79.5C339.5 79.8 334.1 80.0 329.1 81.1C326.4 81.8 323.8 83.4 321.5 85.0C319.8 86.2 318.1 87.7 316.9 89.5C316.0 90.8 315.6 92.5 315.4 94.0C315.3 94.8 315.2 96.1 315.7 96.3C316.8 96.7 318.7 96.3 320.1 95.9C322.6 95.3 325.0 94.3 327.4 93.5C331.5 92.2 335.5 90.8 339.6 89.5C345.5 87.6 351.4 85.6 357.3 83.9C360.9 82.8 366.4 81.4 368.2 81.0"/>
<path class="e" d="M366.4 83.4C364.5 86.0 359.6 94.4 355.5 99.3C352.7 102.8 349.2 105.7 345.7 108.4C343.9 109.8 341.7 110.5 339.6 111.4C337.6 112.3 335.6 113.2 333.6 113.7C331.6 114.2 329.4 114.7 327.4 114.4C325.4 114.2 323.3 113.2 321.5 112.2C319.6 111.2 317.7 109.9 316.2 108.4C315.4 107.7 314.6 106.5 314.7 105.4C314.8 103.4 315.8 101.1 316.9 99.3C317.6 98.1 318.8 97.0 320.1 96.3C323.2 94.6 326.6 93.2 330.0 91.9C336.0 89.7 342.2 87.9 348.3 85.8C355.0 83.5 364.8 79.7 368.2 78.5"/>
<path class="e" d="M367.3 78.5C366.2 81.6 363.4 91.0 361.0 97.1C358.6 103.1 356.1 109.1 353.0 114.7C350.4 119.3 346.9 123.5 343.7 127.6C340.4 131.9 335.0 137.9 333.3 140.0C333.6 137.1 334.0 128.5 335.0 122.8C335.9 117.5 336.5 111.7 338.9 107.0C341.9 101.3 346.6 96.3 351.2 91.7C356.0 86.8 364.6 80.7 367.3 78.5"/>
<path class="e" d="M367.3 78.5C366.3 81.5 363.7 90.5 361.5 96.4C359.3 102.2 357.1 108.1 354.3 113.6C352.0 118.1 349.0 122.3 346.2 126.5C343.3 130.7 338.7 136.9 337.2 139.0C337.4 136.3 337.6 128.0 338.4 122.6C339.1 117.5 339.6 112.0 341.7 107.3C344.4 101.8 348.6 96.7 352.7 92.0C357.1 87.1 364.8 80.8 367.3 78.5"/>
<path class="e" d="M367.3 78.5C366.4 81.3 364.1 89.8 362.2 95.3C360.3 100.7 358.3 106.2 355.9 111.4C353.8 115.7 351.2 119.7 348.7 123.7C346.2 127.7 342.1 133.6 340.8 135.6C341.0 133.1 341.4 125.6 342.2 120.7C343.0 115.9 343.5 110.9 345.4 106.6C347.7 101.3 351.3 96.5 354.9 91.9C358.6 87.1 365.2 80.8 367.3 78.5"/>
<path class="e" d="M367.3 78.5C366.7 80.7 365.3 87.1 364.0 91.3C362.7 95.5 361.4 99.7 359.6 103.7C358.1 106.9 356.2 110.0 354.3 113.0C352.4 116.1 349.3 120.6 348.3 122.1C348.5 120.2 348.7 114.5 349.2 110.8C349.7 107.2 350.0 103.4 351.3 100.1C353.0 96.1 355.6 92.4 358.2 88.8C360.9 85.2 365.7 80.2 367.3 78.5"/>
<path class="e" d="M367.3 78.5C366.9 80.1 366.1 84.7 365.3 87.7C364.6 90.6 363.8 93.7 362.7 96.5C361.8 98.9 360.5 101.1 359.3 103.3C358.1 105.6 356.2 108.9 355.5 110.0C355.7 108.7 356.0 104.8 356.4 102.2C356.8 99.7 357.2 97.2 358.0 94.8C359.0 91.9 360.5 89.1 362.1 86.4C363.6 83.7 366.4 79.9 367.3 78.5"/>
<path class="e" d="M365.4 83.4C366.3 80.4 368.5 71.2 370.5 65.3C372.4 59.5 374.5 53.6 377.3 48.2C379.6 43.7 382.7 39.6 385.7 35.5C388.7 31.4 393.6 25.4 395.2 23.4C395.1 26.1 395.2 34.5 394.6 39.9C394.0 45.1 393.8 50.6 391.7 55.3C389.1 60.8 384.8 65.8 380.5 70.3C376.0 75.1 368.0 81.2 365.4 83.4"/>
<path class="e" d="M365.4 83.4C366.2 80.5 368.2 71.8 370.0 66.1C371.8 60.5 373.6 54.8 376.1 49.4C378.0 45.0 380.7 40.9 383.3 36.8C385.8 32.7 390.0 26.6 391.4 24.6C391.4 27.2 391.7 35.1 391.2 40.3C390.8 45.3 390.7 50.6 388.9 55.1C386.6 60.5 382.8 65.5 379.0 70.0C375.0 74.9 367.7 81.1 365.4 83.4"/>
<path class="e" d="M365.4 83.4C366.1 81.0 367.8 73.9 369.2 69.2C370.6 64.6 372.1 60.0 374.1 55.6C375.7 52.0 377.8 48.6 379.8 45.2C381.8 41.7 385.1 36.7 386.2 35.0C386.0 37.1 386.0 43.4 385.5 47.6C385.0 51.6 384.8 55.8 383.3 59.5C381.5 64.0 378.6 68.1 375.7 72.0C372.6 76.1 367.2 81.5 365.4 83.4"/>
<path class="e" d="M365.4 83.4C365.8 81.6 366.9 76.4 367.9 72.9C368.8 69.5 369.7 66.0 371.0 62.7C372.0 60.0 373.4 57.4 374.8 54.8C376.1 52.2 378.3 48.4 379.0 47.1C378.8 48.6 378.6 53.1 378.2 56.1C377.9 59.0 377.6 62.1 376.6 64.8C375.5 68.1 373.6 71.3 371.8 74.4C369.9 77.5 366.5 81.9 365.4 83.4"/>
<path class="e" d="M360.9 93.0C362.1 89.0 365.7 76.9 368.2 68.9C370.1 62.4 372.2 56.0 374.2 49.6C375.3 46.1 375.8 42.3 377.6 39.2C379.6 35.7 382.6 32.7 385.4 29.7C387.0 28.0 388.8 26.5 390.7 25.3C392.0 24.5 393.7 23.6 395.2 23.4C395.9 23.3 397.0 23.7 397.3 24.4C398.0 25.5 397.7 27.6 398.4 28.7C398.8 29.3 399.8 29.6 400.6 29.7C401.7 29.8 402.9 29.2 404.0 29.5C406.0 30.1 408.3 31.0 409.9 32.4C411.6 33.9 413.1 36.1 413.8 38.3C414.6 41.0 414.6 44.1 414.3 47.0C413.9 50.3 412.9 53.6 411.7 56.8C410.8 59.5 409.7 62.3 407.9 64.6C405.5 67.5 402.5 70.5 399.1 72.3C394.1 75.1 388.2 76.9 382.6 78.5C377.3 80.1 369.1 81.4 366.4 81.9"/>
<path class="e" d="M366.4 81.0C370.3 79.3 381.7 73.7 389.8 71.3C397.8 68.9 406.3 67.4 414.6 66.4C418.3 66.0 422.1 66.5 425.8 66.9C427.3 67.1 429.2 67.3 430.3 68.1C431.1 68.7 431.7 70.3 431.5 71.3C431.4 72.5 430.6 74.3 429.4 74.7C424.8 76.2 419.2 76.5 414.1 77.1C405.4 78.1 396.6 78.5 388.0 79.5C380.7 80.3 370.0 81.9 366.4 82.4"/>
<path class="e" d="M366.4 81.0C369.4 78.9 378.0 72.3 384.4 68.9C390.0 65.8 396.2 63.5 402.4 61.6C405.2 60.7 408.5 60.4 411.4 60.6C412.5 60.7 414.1 61.7 414.3 62.6C414.4 63.6 413.5 65.7 412.3 66.4C408.3 68.9 403.3 70.5 398.8 72.2C392.8 74.5 386.8 76.6 380.8 78.5C376.0 80.0 368.8 81.8 366.4 82.4"/>
<path class="e" d="M366.4 81.0C369.4 80.0 378.2 76.6 384.4 75.1C391.4 73.5 398.7 72.3 406.0 71.8C410.1 71.5 414.6 71.9 418.6 72.7C419.7 73.0 421.3 74.3 421.3 75.1C421.3 76.1 419.8 77.8 418.6 78.0C412.3 79.4 405.4 79.4 398.8 80.0C388.0 80.9 371.8 82.0 366.4 82.4"/>
<path class="e" d="M362.7 80.0C367.9 80.1 383.2 80.7 393.4 81.0C402.4 81.2 411.4 81.3 420.4 81.4C424.6 81.5 428.8 81.2 433.0 81.4C436.0 81.6 439.2 81.6 442.0 82.4C443.5 82.8 445.4 83.9 446.0 85.0C446.3 85.5 445.3 86.7 444.7 87.2C443.4 88.4 441.9 89.6 440.2 90.1C437.0 91.2 433.6 92.1 430.3 92.3C425.1 92.7 419.8 92.3 414.6 91.8C408.1 91.2 401.6 90.4 395.2 89.2C389.4 88.1 383.7 86.4 378.1 84.8C372.9 83.4 365.3 80.8 362.7 80.0"/>
<path class="e" d="M362.7 81.0C367.9 81.3 383.2 82.5 393.4 82.9C402.4 83.3 411.4 83.1 420.4 83.4C423.4 83.4 426.5 83.3 429.4 83.9C430.7 84.1 432.8 85.0 433.0 85.8C433.1 86.5 431.4 87.9 430.3 88.2C427.2 89.0 423.7 89.2 420.4 89.2C414.4 89.2 408.3 88.9 402.4 88.2C396.3 87.5 390.4 85.9 384.4 84.8C377.2 83.5 366.4 81.6 362.7 81.0"/>
<path class="e" d="M362.7 81.0C367.0 81.1 379.6 81.7 388.0 81.9C395.2 82.1 402.4 81.9 409.6 82.4C411.7 82.5 415.1 83.0 415.9 83.9C416.3 84.3 414.3 86.1 413.2 86.3C408.6 87.0 403.5 87.0 398.8 86.8C392.7 86.4 386.7 85.3 380.8 84.3C374.7 83.4 365.7 81.5 362.7 81.0"/>
<path class="p" d="M279.9 81.9L445.1 79.5L366.4 82.4L297.9 82.4L366.4 80.0L431.2 81.0L366.4 83.4L314.1 83.9L366.4 81.0L420.4 79.0L366.4 81.0"/>
<path class="p" d="M366.4 81.0C367.5 77.9 370.8 68.6 373.2 62.6C375.7 56.6 378.2 50.5 381.2 44.8C383.6 40.0 386.6 35.5 389.4 31.0C392.2 26.5 396.8 19.8 398.2 17.6C397.7 20.3 396.3 28.5 394.9 33.8C393.6 39.0 392.5 44.4 390.1 49.2C387.3 55.1 383.4 60.5 379.5 65.7C375.5 71.1 368.5 78.4 366.4 81.0"/>
<path class="p" d="M366.4 81.0C367.5 78.1 370.8 69.5 373.2 63.9C375.6 58.3 378.1 52.7 381.0 47.3C383.3 42.9 386.0 38.7 388.7 34.5C391.4 30.3 395.6 24.0 397.0 21.9C396.4 24.4 394.8 32.0 393.4 36.9C392.0 41.8 390.8 46.8 388.5 51.3C385.8 56.7 382.2 61.8 378.5 66.7C374.8 71.7 368.4 78.6 366.4 81.0"/>
<path class="p" d="M366.4 81.0C367.4 78.2 370.3 70.0 372.5 64.7C374.7 59.4 377.0 54.0 379.7 49.0C382.0 44.8 384.7 40.9 387.3 37.0C390.0 33.0 394.2 27.3 395.5 25.3C394.9 27.7 393.2 34.7 391.7 39.3C390.3 43.8 389.0 48.5 386.8 52.7C384.2 57.8 380.9 62.6 377.5 67.3C374.0 72.0 368.2 78.7 366.4 81.0"/>
<path class="p" d="M366.4 81.0C367.2 78.5 369.5 70.9 371.4 66.1C373.3 61.2 375.2 56.3 377.5 51.7C379.5 47.9 381.9 44.3 384.2 40.8C386.6 37.2 390.3 31.9 391.6 30.2C391.1 32.3 389.8 38.8 388.7 43.0C387.5 47.1 386.5 51.4 384.7 55.2C382.5 59.9 379.4 64.3 376.4 68.5C373.3 72.9 368.0 78.9 366.4 81.0"/>
<path class="p" d="M366.4 81.0C367.0 79.0 368.7 73.0 370.0 69.1C371.4 65.2 372.7 61.3 374.4 57.5C375.8 54.5 377.5 51.5 379.2 48.6C380.8 45.6 383.5 41.3 384.4 39.8C384.1 41.5 383.3 46.7 382.6 50.1C381.8 53.4 381.2 56.8 379.9 59.9C378.3 63.7 376.1 67.3 373.9 70.8C371.6 74.3 367.6 79.3 366.4 81.0"/>
<path class="p" d="M366.4 81.0C366.7 79.6 367.8 75.4 368.7 72.7C369.5 70.0 370.4 67.3 371.4 64.6C372.2 62.5 373.2 60.4 374.1 58.2C375.1 56.1 376.7 53.0 377.2 51.9C376.9 53.1 376.4 56.6 375.9 58.9C375.4 61.2 375.0 63.5 374.2 65.7C373.2 68.4 371.9 70.9 370.6 73.5C369.3 76.0 367.1 79.7 366.4 81.0"/>
<path class="p" d="M366.4 81.0C365.1 84.0 361.7 93.4 359.1 99.5C356.5 105.5 353.9 111.6 350.8 117.4C348.3 122.2 345.3 126.7 342.4 131.3C339.5 135.9 334.8 142.5 333.3 144.8C333.9 142.1 335.4 133.8 336.9 128.4C338.3 123.2 339.5 117.7 342.0 112.9C344.9 107.0 348.9 101.5 352.9 96.3C357.0 90.9 364.1 83.5 366.4 81.0"/>
<path class="p" d="M366.4 81.0C365.2 83.7 361.7 92.2 359.2 97.7C356.7 103.3 354.1 108.8 351.2 114.1C348.8 118.4 346.0 122.5 343.3 126.7C340.6 130.8 336.2 136.9 334.8 139.0C335.5 136.5 337.2 129.0 338.7 124.2C340.1 119.4 341.4 114.4 343.7 110.0C346.5 104.7 350.3 99.7 354.0 94.9C357.8 90.0 364.3 83.3 366.4 81.0"/>
<path class="p" d="M366.4 81.0C365.3 83.6 362.1 91.7 359.8 96.9C357.4 102.1 355.0 107.3 352.1 112.2C349.8 116.3 347.0 120.0 344.2 123.8C341.5 127.7 337.2 133.2 335.7 135.1C336.4 132.8 338.3 125.9 339.9 121.4C341.5 117.0 342.9 112.4 345.2 108.3C347.9 103.3 351.4 98.6 354.9 94.1C358.4 89.5 364.4 83.1 366.4 81.0"/>
<path class="p" d="M366.4 81.0C365.5 83.3 363.3 90.5 361.5 95.2C359.8 99.8 357.9 104.5 355.7 108.9C353.8 112.5 351.4 115.9 349.2 119.3C346.9 122.7 343.2 127.6 342.0 129.3C342.5 127.3 343.6 121.1 344.7 117.0C345.8 113.1 346.7 109.0 348.5 105.3C350.7 100.9 353.6 96.7 356.5 92.7C359.5 88.6 364.7 82.9 366.4 81.0"/>
<path class="p" d="M366.4 81.0C365.7 82.8 364.0 88.5 362.7 92.2C361.3 95.9 359.9 99.5 358.3 103.1C356.9 106.0 355.2 108.7 353.5 111.5C351.9 114.2 349.2 118.3 348.3 119.6C348.6 118.0 349.4 113.1 350.1 109.9C350.9 106.7 351.5 103.5 352.8 100.5C354.4 97.0 356.6 93.6 358.9 90.4C361.1 87.1 365.1 82.5 366.4 81.0"/>
<path class="p" d="M366.4 81.0C366.0 82.2 364.9 86.0 364.0 88.5C363.2 91.0 362.3 93.5 361.3 96.0C360.5 97.9 359.5 99.9 358.6 101.8C357.6 103.7 356.0 106.6 355.5 107.6C355.8 106.5 356.3 103.2 356.8 101.1C357.3 99.0 357.8 96.8 358.6 94.8C359.5 92.4 360.8 90.0 362.1 87.7C363.4 85.4 365.6 82.1 366.4 81.0"/>
<path class="p" d="M366.4 81.0C366.8 79.3 368.0 74.4 369.1 71.1C369.8 68.7 371.3 65.2 371.8 64.0C371.7 64.2 371.6 64.8 371.5 65.2C371.4 65.8 371.3 66.3 371.2 66.9C371.1 67.6 370.9 68.3 370.8 68.9C370.6 69.7 370.4 70.4 370.2 71.1C370.0 71.9 369.8 72.7 369.6 73.5C369.4 74.3 369.1 75.1 368.8 75.9C368.5 76.8 368.2 77.7 367.9 78.6C367.5 79.6 367.1 80.7 366.8 81.8C366.4 83.0 366.0 84.3 365.6 85.5C365.2 86.8 364.8 88.0 364.4 89.2C364.0 90.4 363.6 91.5 363.2 92.6C362.9 93.6 362.5 94.6 362.1 95.5C361.9 96.1 361.7 96.7 361.4 97.2C361.3 97.4 361.0 97.8 360.9 97.9C361.0 97.7 361.1 97.0 361.3 96.6C361.4 96.0 361.5 95.4 361.7 94.8C361.9 94.1 362.1 93.4 362.3 92.7C362.6 91.9 362.8 91.1 363.1 90.4C363.4 89.6 363.7 88.7 364.0 87.9C364.3 87.1 364.7 86.3 365.1 85.5C365.5 84.6 366.0 83.7 366.5 82.7C367.0 81.4 367.6 80.1 368.0 78.8C368.6 76.7 369.1 74.6 369.7 72.5C370.2 70.4 370.8 68.3 371.4 66.2C371.9 64.3 372.5 62.4 373.0 60.5C373.5 59.0 374.0 57.4 374.6 55.8C374.9 54.9 375.3 53.9 375.6 53.0C375.8 52.7 376.2 52.1 376.3 51.9C376.2 52.3 376.0 53.4 375.9 54.1C375.7 55.1 375.5 56.2 375.3 57.2C375.0 58.4 374.8 59.7 374.5 60.9C374.2 62.2 373.8 63.5 373.5 64.8C373.1 66.2 372.7 67.6 372.3 69.0C371.9 70.4 371.4 71.7 370.9 73.1C370.3 74.7 369.7 76.2 369.1 77.7C368.5 79.5 367.8 81.2 367.1 82.9C366.4 84.9 365.7 86.8 365.0 88.7C364.2 90.6 363.5 92.6 362.8 94.5C362.1 96.2 361.4 97.9 360.6 99.7C360.0 101.1 359.3 102.6 358.6 104.0C358.2 104.9 357.7 105.7 357.2 106.5C357.0 106.9 356.6 107.4 356.4 107.6C356.5 107.2 356.8 106.1 356.9 105.4C357.2 104.4 357.4 103.4 357.7 102.4C358.0 101.2 358.3 100.0 358.6 98.9C359.0 97.6 359.4 96.4 359.8 95.1C360.3 93.8 360.8 92.5 361.3 91.2C361.8 89.9 362.4 88.6 363.0 87.3C363.7 85.8 364.5 84.4 365.2 82.9C366.1 81.0 366.9 79.1 367.6 77.1C368.6 74.4 369.4 71.6 370.3 68.8C371.2 66.1 372.0 63.3 373.0 60.6C373.8 58.1 374.7 55.7 375.7 53.2C376.4 51.2 377.2 49.2 378.1 47.2C378.6 46.0 379.2 44.8 379.8 43.7C380.1 43.2 380.6 42.5 380.8 42.3C380.7 42.8 380.4 44.3 380.2 45.4C379.9 46.8 379.6 48.3 379.3 49.7C379.0 51.5 378.6 53.2 378.2 54.9C377.7 56.7 377.2 58.5 376.7 60.3C376.2 62.2 375.6 64.1 375.0 66.0C374.4 67.9 373.7 69.8 373.0 71.7C372.2 73.7 371.3 75.8 370.4 77.8C369.4 80.1 368.4 82.3 367.5 84.6C366.4 87.1 365.4 89.7 364.3 92.3C363.3 94.9 362.3 97.5 361.2 100.1C360.2 102.4 359.1 104.7 358.0 106.9C357.1 108.9 356.1 110.8 355.1 112.6C354.5 113.8 353.8 114.8 353.1 115.9C352.8 116.4 352.1 117.0 351.9 117.2C352.1 116.7 352.4 115.2 352.6 114.3C353.0 112.8 353.3 111.4 353.7 110.0C354.1 108.4 354.5 106.7 355.0 105.1C355.5 103.4 356.1 101.7 356.7 100.0C357.4 98.2 358.1 96.4 358.8 94.6C359.5 92.8 360.3 91.0 361.2 89.2C362.2 87.2 363.3 85.3 364.3 83.3C365.4 80.8 366.6 78.4 367.7 75.9C369.0 72.7 370.2 69.4 371.4 66.2C372.7 62.9 373.9 59.6 375.2 56.4C376.4 53.5 377.7 50.6 379.0 47.8C380.1 45.4 381.2 43.0 382.4 40.7C383.1 39.3 383.9 38.0 384.8 36.7C385.2 36.1 385.9 35.3 386.2 35.0C386.0 35.6 385.6 37.5 385.4 38.8C385.0 40.5 384.6 42.3 384.2 44.1C383.7 46.2 383.2 48.3 382.6 50.3C382.0 52.5 381.3 54.7 380.6 56.9C379.9 59.2 379.1 61.4 378.2 63.7C377.4 66.0 376.5 68.2 375.5 70.5C374.4 72.9 373.1 75.4 371.9 77.8C370.6 80.4 369.2 83.1 367.9 85.7C366.5 88.8 365.0 91.9 363.6 95.0C362.1 98.0 360.7 101.2 359.2 104.2C357.8 107.0 356.4 109.7 354.9 112.4C353.6 114.6 352.3 116.9 350.9 119.1C350.0 120.4 349.1 121.7 348.1 122.9C347.7 123.5 346.8 124.2 346.5 124.5C346.7 123.9 347.1 122.1 347.4 120.9C347.9 119.2 348.3 117.5 348.8 115.9C349.4 113.9 349.9 111.9 350.6 109.9C351.3 107.9 352.0 105.8 352.8 103.8C353.7 101.6 354.6 99.4 355.5 97.3C356.5 95.1 357.6 93.0 358.7 90.9C360.0 88.5 361.4 86.2 362.7 83.8C364.3 80.9 365.9 78.0 367.3 75.1C369.0 71.4 370.6 67.6 372.2 63.8C373.9 60.1 375.4 56.3 377.2 52.5C378.7 49.2 380.4 45.8 382.1 42.5C383.5 39.8 385.0 37.0 386.6 34.3C387.6 32.7 388.6 31.2 389.8 29.7C390.3 29.0 391.3 28.1 391.6 27.7C391.4 28.5 390.9 30.7 390.6 32.1C390.1 34.2 389.6 36.2 389.0 38.3C388.4 40.7 387.8 43.1 387.0 45.5C386.2 48.1 385.4 50.6 384.5 53.1C383.6 55.7 382.6 58.4 381.5 60.9C380.4 63.6 379.2 66.2 377.9 68.8C376.5 71.7 374.9 74.5 373.4 77.3C371.7 80.4 370.0 83.4 368.4 86.5C366.5 90.1 364.7 93.7 362.8 97.3C361.0 100.9 359.2 104.5 357.3 108.1C355.5 111.3 353.6 114.5 351.7 117.6C350.1 120.3 348.5 122.9 346.7 125.4C345.6 127.0 344.4 128.5 343.2 129.9C342.6 130.6 341.5 131.4 341.1 131.7C341.3 131.0 341.9 129.0 342.2 127.6C342.8 125.6 343.3 123.6 343.9 121.7C344.6 119.4 345.3 117.1 346.1 114.8C346.9 112.3 347.9 109.9 348.8 107.6C349.9 105.0 350.9 102.5 352.1 100.0C353.3 97.5 354.6 95.0 356.0 92.5C357.5 89.7 359.3 87.0 360.9 84.2C362.8 81.0 364.7 77.7 366.4 74.3C368.5 70.1 370.4 65.8 372.4 61.5C374.5 57.2 376.4 52.9 378.5 48.7C380.4 44.8 382.4 41.0 384.5 37.3C386.3 34.2 388.1 31.0 390.0 28.0C391.2 26.1 392.5 24.4 393.9 22.7C394.5 21.9 395.7 20.9 396.1 20.5C395.9 21.3 395.3 23.8 394.9 25.4C394.3 27.8 393.7 30.1 393.0 32.5C392.3 35.2 391.5 38.0 390.6 40.7C389.7 43.6 388.7 46.4 387.6 49.3C386.5 52.3 385.3 55.3 384.0 58.2C382.7 61.2 381.3 64.2 379.8 67.2C378.1 70.4 376.2 73.6 374.3 76.8C372.3 80.3 370.3 83.8 368.3 87.3C366.1 91.4 363.9 95.5 361.7 99.6C359.5 103.7 357.4 107.9 355.0 111.9C352.9 115.6 350.7 119.3 348.4 122.9C346.5 125.9 344.5 128.9 342.4 131.8C341.1 133.6 339.6 135.3 338.1 136.9C337.4 137.7 336.1 138.6 335.7 139.0C335.9 138.2 336.6 135.8 337.0 134.2C337.6 132.0 338.2 129.7 338.9 127.5C339.6 124.9 340.4 122.2 341.4 119.6C342.3 116.8 343.4 114.1 344.5 111.4C345.7 108.5 346.9 105.6 348.2 102.8C349.6 99.9 351.0 97.0 352.6 94.2C354.4 91.0 356.4 88.0 358.2 84.8C360.3 81.2 362.5 77.6 364.5 74.0C366.9 69.6 369.1 65.0 371.4 60.5C373.6 56.1 375.8 51.5 378.2 47.1C380.4 43.1 382.7 39.1 385.1 35.2C387.1 31.9 389.2 28.6 391.4 25.4C392.7 23.5 394.2 21.6 395.7 19.9C396.5 19.0 397.8 18.0 398.2 17.6C398.0 18.5 397.4 21.1 396.9 22.8C396.3 25.2 395.7 27.7 395.0 30.1C394.2 33.0 393.3 35.9 392.4 38.8C391.4 41.8 390.3 44.8 389.1 47.7C387.9 50.9 386.6 54.0 385.2 57.1C383.8 60.3 382.3 63.4 380.7 66.5C378.9 69.9 376.8 73.3 374.9 76.6C372.7 80.4 370.5 84.2 368.4 88.0C365.9 92.4 363.6 97.0 361.2 101.5C358.8 106.0 356.6 110.6 354.1 115.0C351.8 119.1 349.4 123.1 346.9 127.0C344.9 130.4 342.7 133.7 340.4 136.9C339.0 138.8 337.5 140.7 335.9 142.5C335.1 143.4 333.7 144.4 333.3 144.8C333.4 143.9 333.8 141.3 334.1 139.6C334.5 137.1 334.9 134.6 335.3 132.2C335.8 129.3 336.3 126.4 336.9 123.5C337.5 120.4 338.2 117.4 338.9 114.4C339.7 111.2 340.5 108.1 341.4 105.0C342.2 101.8 343.1 98.6 344.2 95.5C345.2 92.4 346.3 89.2 347.8 86.2C348.9 84.1 350.1 81.8 351.8 80.4C352.9 79.5 354.8 79.7 356.2 79.4C357.7 79.1 359.2 78.7 360.7 78.4C362.1 78.0 363.6 77.7 365.1 77.5C366.4 77.2 367.8 76.9 369.1 76.7C370.1 76.6 371.0 76.4 371.9 76.3C372.5 76.2 373.3 76.1 373.6 76.1"/>
<path class="p" d="M366.4 81.0L398.2 50.0L389.8 71.3L366.4 83.4L413.7 57.7L398.8 76.1L366.4 83.4L415.0 65.0L402.4 78.5L366.4 82.4"/>
<path class="p" d="M366.4 81.0L332.1 118.7L333.3 143.8"/>
<path class="p" d="M366.4 81.0L342.9 105.1L333.6 105.1L350.1 85.8L366.4 80.0"/>
<path class="p" d="M366.4 81.0L339.3 95.5L315.0 95.5L330.3 85.8L366.4 81.0L337.5 90.6L314.1 93.0L330.3 83.9L366.4 80.0"/>
<path class="p" d="M366.4 81.0L330.3 101.3L314.5 98.4L333.9 85.8L366.4 81.0"/>
<path class="ax" d="M276.3 7.9V153.5H456.9"/>
<path class="tk" d="M276.3 153.5v2.2M285.31 153.5v1.3M294.31 153.5v2.2M303.31 153.5v1.3M312.32 153.5v2.2M321.32 153.5v1.3M330.33 153.5v2.2M339.34 153.5v1.3M348.34 153.5v2.2M357.35 153.5v1.3M366.35 153.5v2.2M375.36 153.5v1.3M384.36 153.5v2.2M393.37 153.5v1.3M402.37 153.5v2.2M411.38 153.5v1.3M420.38 153.5v2.2M429.38 153.5v1.3M438.39 153.5v2.2M447.39 153.5v1.3M456.4 153.5v2.2M276.3 153.5h-2.4M276.3 141.41h-1.3M276.3 129.32h-2.4M276.3 117.22h-1.3M276.3 105.13h-2.4M276.3 93.04h-1.3M276.3 80.95h-2.4M276.3 68.86h-1.3M276.3 56.77h-2.4M276.3 44.67h-1.3M276.3 32.58h-2.4M276.3 20.49h-1.3M276.3 8.4h-2.4"/>
<text class="tl" x="276.3" y="162.8" text-anchor="middle">-5</text>
<text class="tl" x="294.31" y="162.8" text-anchor="middle">-4</text>
<text class="tl" x="312.32" y="162.8" text-anchor="middle">-3</text>
<text class="tl" x="330.33" y="162.8" text-anchor="middle">-2</text>
<text class="tl" x="348.34" y="162.8" text-anchor="middle">-1</text>
<text class="tl" x="366.35" y="162.8" text-anchor="middle">0</text>
<text class="tl" x="384.36" y="162.8" text-anchor="middle">1</text>
<text class="tl" x="402.37" y="162.8" text-anchor="middle">2</text>
<text class="tl" x="420.38" y="162.8" text-anchor="middle">3</text>
<text class="tl" x="438.39" y="162.8" text-anchor="middle">4</text>
<text class="tl" x="456.4" y="162.8" text-anchor="middle">5</text>
<text class="tl" x="272" y="155.7" text-anchor="end">-1.5</text>
<text class="tl" x="272" y="131.52" text-anchor="end">-1.0</text>
<text class="tl" x="272" y="107.33" text-anchor="end">-0.5</text>
<text class="tl" x="272" y="83.15" text-anchor="end">0.0</text>
<text class="tl" x="272" y="58.97" text-anchor="end">0.5</text>
<text class="tl" x="272" y="34.78" text-anchor="end">1.0</text>
<text class="tl" x="272" y="10.6" text-anchor="end">1.5</text>
<text class="at" x="366.35" y="175.1" text-anchor="middle">Displacement Ductility Demand</text>
<text class="at" transform="translate(253.2 75) rotate(-90)" text-anchor="middle">Normalized Inelastic Restoring Force</text>
<text class="ti" x="366.4" y="9.4" text-anchor="middle">S12</text>
<rect class="lg" x="280.8" y="10.3" width="55.4" height="18.9"/>
<path class="e le" d="M281.5 15.3h17.4"/>
<path class="p le" d="M281.5 24.5h17.4"/>
<text class="lt" x="301.1" y="17.8">Experiment</text>
<text class="lt" x="301.1" y="27">Prediction</text>
</g>
<g>
<path class="e" d="M119.2 275.5C121.0 270.4 126.4 255.2 130.3 245.2C132.8 239.0 135.7 232.8 138.5 226.7C140.4 222.6 142.4 218.5 144.6 214.5C146.4 211.3 148.2 208.0 150.5 205.1C151.3 204.0 152.6 203.1 153.9 202.5C155.0 202.0 156.4 201.8 157.6 201.9C158.8 202.0 160.6 202.1 161.1 203.0C161.8 204.3 161.7 206.5 161.4 208.2C160.7 212.4 159.6 216.7 158.1 220.7C156.1 225.7 153.4 230.4 150.8 235.1C147.6 240.7 144.3 246.2 140.6 251.5C136.7 257.1 132.6 262.6 128.1 267.6C124.7 271.4 118.8 276.3 116.9 278.1"/>
<path class="e" d="M119.2 272.8C121.4 269.4 127.7 258.6 132.6 252.0C135.5 248.1 139.6 245.0 142.6 241.2C145.7 237.3 147.6 232.5 150.8 228.9C152.4 227.0 155.0 225.6 157.2 224.9C158.1 224.6 159.6 225.2 160.1 225.9C160.8 227.0 160.7 228.7 160.7 230.1C160.7 231.1 160.5 232.1 160.1 233.0C158.5 236.5 157.1 240.2 154.9 243.3C152.0 247.4 148.4 251.2 144.6 254.6C139.5 259.3 133.8 263.6 128.1 267.6C124.6 270.1 118.8 272.8 116.9 273.9"/>
<path class="e" d="M119.2 272.8C121.8 270.9 129.6 265.2 134.8 261.4C140.2 257.4 145.6 253.6 150.8 249.5C155.7 245.5 160.0 240.6 165.2 237.1C167.6 235.5 170.7 234.4 173.5 234.0C175.3 233.7 177.5 234.1 179.1 234.8C179.8 235.2 180.6 236.2 180.6 237.1C180.7 239.1 180.6 241.6 179.5 243.3C177.5 246.4 174.5 249.3 171.5 251.5C167.0 254.7 161.9 257.2 156.9 259.7C150.4 263.0 143.8 266.0 137.0 268.7C130.5 271.3 120.3 274.3 116.9 275.5"/>
<path class="e" d="M114.7 272.8C119.5 271.5 134.0 267.0 143.8 264.5C152.6 262.3 161.6 260.4 170.6 258.8C177.7 257.5 184.9 256.5 192.0 255.7C194.9 255.3 197.9 255.1 200.7 255.4C201.6 255.5 203.0 255.9 203.2 256.7C203.5 258.1 203.1 260.4 202.3 261.9C201.4 263.5 199.8 265.1 198.1 265.9C192.9 268.5 187.3 270.3 181.7 272.1C171.5 275.5 161.1 278.4 150.8 281.3C141.9 283.9 132.9 285.9 124.1 288.5C118.7 290.0 110.7 292.8 108.0 293.7"/>
<path class="e" d="M114.7 271.8C119.5 270.2 134.0 265.2 143.8 262.4C152.6 260.0 161.6 257.9 170.6 256.2C176.5 255.1 182.6 254.1 188.5 254.1C190.7 254.1 194.3 254.8 195.2 256.2C195.8 257.3 194.5 260.6 192.9 261.4C187.8 264.0 181.1 265.1 175.0 266.6C164.7 269.2 154.2 271.5 143.8 273.9C134.1 276.1 119.5 279.5 114.7 280.7"/>
<path class="e" d="M116.9 270.2C121.4 268.4 134.8 262.9 143.8 259.3C151.2 256.3 158.5 252.8 166.1 250.4C169.7 249.3 173.9 248.5 177.3 248.9C178.4 249.0 180.0 251.1 179.5 252.0C178.5 254.2 175.5 257.0 172.8 258.3C165.1 261.9 156.5 264.0 148.2 266.6C137.9 269.8 122.1 274.0 116.9 275.5"/>
<path class="e" d="M119.2 272.8C120.0 270.1 122.4 261.7 124.3 256.2C126.2 250.8 128.2 245.3 130.6 240.1C132.5 235.8 135.0 231.7 137.4 227.7C139.8 223.6 143.6 217.5 144.9 215.5C144.4 217.9 143.1 225.0 141.9 229.7C140.8 234.3 139.7 239.0 137.9 243.4C135.6 248.6 132.5 253.6 129.4 258.5C126.3 263.5 120.9 270.5 119.2 272.8"/>
<path class="e" d="M119.2 272.8C119.9 270.5 122.0 263.2 123.7 258.5C125.4 253.8 127.1 249.1 129.2 244.6C130.9 240.9 133.0 237.4 135.1 233.8C137.1 230.3 140.4 225.1 141.5 223.3C141.1 225.4 139.8 231.5 138.7 235.5C137.7 239.5 136.7 243.5 135.1 247.3C133.1 251.8 130.5 256.2 127.9 260.4C125.2 264.7 120.6 270.8 119.2 272.8"/>
<path class="e" d="M119.2 272.8C119.7 271.1 121.0 265.7 122.2 262.3C123.3 258.8 124.5 255.3 125.9 252.0C127.1 249.3 128.7 246.7 130.2 244.1C131.6 241.5 134.0 237.7 134.8 236.4C134.5 237.9 133.7 242.4 133.0 245.3C132.3 248.2 131.7 251.2 130.5 254.0C129.1 257.3 127.3 260.5 125.4 263.6C123.5 266.8 120.2 271.3 119.2 272.8"/>
<path class="e" d="M119.2 272.8C120.2 270.3 123.3 262.5 125.6 257.5C128.0 252.4 130.4 247.4 133.2 242.7C135.5 238.8 138.3 235.2 140.9 231.5C143.6 227.9 147.9 222.5 149.3 220.7C148.7 223.0 146.8 229.7 145.2 234.0C143.7 238.3 142.3 242.8 140.1 246.7C137.4 251.5 133.9 256.0 130.5 260.3C127.0 264.7 121.1 270.8 119.2 272.8"/>
<path class="e" d="M128.1 262.4C125.1 262.8 116.2 264.2 110.2 264.5C102.3 264.9 94.3 264.3 86.3 264.6C76.1 265.0 65.7 265.2 55.7 266.8C52.1 267.3 48.4 268.8 45.4 270.8C43.2 272.2 40.0 275.4 40.0 277.0C40.0 278.2 43.5 278.9 45.4 279.1C52.1 279.6 59.0 279.8 65.7 279.1C75.4 278.1 85.1 276.1 94.6 273.9C105.1 271.4 120.7 266.5 125.9 265.0"/>
<path class="e" d="M128.1 261.4C125.1 261.7 116.2 263.1 110.2 263.5C100.6 264.0 90.8 263.6 81.2 264.0C73.0 264.3 64.7 264.7 56.6 265.6C53.6 265.9 50.4 266.5 47.6 267.6C46.5 268.1 44.7 269.6 45.0 270.2C45.4 271.2 48.1 272.2 49.9 272.3C57.2 272.7 64.8 272.3 72.2 271.8C81.2 271.2 90.2 270.6 99.1 269.2C108.1 267.8 121.4 264.4 125.9 263.5"/>
<path class="e" d="M125.9 262.4C122.1 264.2 111.0 269.5 103.5 272.8C94.4 276.8 85.3 280.7 76.0 284.3C72.0 285.9 66.9 286.2 63.7 288.5C62.2 289.6 61.3 292.9 61.7 294.6C62.0 295.9 64.2 297.5 65.7 297.6C70.4 297.8 75.8 297.2 80.3 295.6C86.1 293.5 91.6 289.9 96.8 286.4C103.0 282.3 108.8 277.4 114.7 272.8C119.2 269.4 125.9 264.2 128.1 262.4"/>
<path class="e" d="M125.9 262.4C122.5 264.3 112.6 270.4 105.8 273.9C97.7 277.9 89.6 281.9 81.2 284.8C76.6 286.4 71.0 285.8 66.6 287.4C65.4 287.9 63.9 290.3 64.4 291.1C65.1 292.1 68.1 292.9 70.0 292.6C75.9 292.0 82.3 290.9 87.9 288.5C95.7 285.1 103.0 280.1 110.2 275.5C116.4 271.4 125.1 264.6 128.1 262.4"/>
<path class="e" d="M125.9 262.4C122.5 265.9 112.5 276.4 105.8 283.3C101.4 287.7 96.7 291.9 92.3 296.3C89.9 298.8 87.3 301.3 85.2 304.1C84.3 305.3 83.1 307.3 83.4 308.3C83.6 309.0 85.8 309.9 86.8 309.3C90.3 307.1 93.8 303.3 96.8 299.9C102.3 293.8 107.2 287.0 112.5 280.7C117.6 274.5 125.5 265.5 128.1 262.4"/>
<path class="e" d="M128.1 259.8C124.8 263.3 114.7 273.7 108.0 280.7C102.2 286.7 95.6 292.1 90.6 298.7C87.4 302.9 85.0 308.0 83.4 313.0C82.4 316.2 82.3 320.1 82.7 323.4C83.0 325.3 84.3 327.3 85.6 328.6C86.5 329.4 88.2 329.6 89.4 329.6C91.1 329.6 93.0 329.3 94.6 328.6C96.1 327.9 97.7 326.8 98.7 325.5C101.8 321.6 104.5 317.3 107.0 313.0C110.7 306.3 114.0 299.4 117.3 292.5C121.1 284.3 126.3 271.8 128.1 267.6"/>
<path class="e" d="M123.6 262.4C122.8 265.0 120.6 272.9 118.8 278.1C117.0 283.2 115.1 288.3 112.8 293.2C111.0 297.2 108.6 301.0 106.3 304.8C104.0 308.6 100.3 314.2 99.1 316.1C99.5 313.9 100.7 307.1 101.8 302.7C102.8 298.4 103.8 293.9 105.6 289.9C107.7 284.9 110.7 280.3 113.7 275.7C116.7 271.1 122.0 264.6 123.6 262.4"/>
<path class="e" d="M123.6 262.4C122.6 264.8 119.5 272.2 117.2 276.9C114.9 281.7 112.5 286.4 109.8 290.9C107.6 294.6 105.0 298.1 102.5 301.6C99.9 305.1 95.9 310.2 94.6 311.9C95.3 309.9 97.4 303.6 99.0 299.5C100.6 295.5 102.1 291.4 104.2 287.6C106.8 283.1 110.0 278.8 113.2 274.6C116.5 270.4 121.9 264.5 123.6 262.4"/>
<path class="e" d="M123.6 262.4C123.0 264.2 121.3 269.6 120.0 273.1C118.6 276.6 117.3 280.0 115.6 283.4C114.2 286.1 112.5 288.7 110.9 291.2C109.2 293.8 106.6 297.6 105.8 298.9C106.1 297.4 107.2 292.8 108.1 289.9C109.0 286.9 109.8 283.9 111.1 281.2C112.7 277.8 114.8 274.6 116.8 271.5C118.9 268.4 122.5 263.9 123.6 262.4"/>
<path class="e" d="M123.6 262.4C122.8 264.6 120.5 271.0 118.7 275.2C117.0 279.4 115.2 283.6 113.1 287.7C111.4 291.0 109.4 294.1 107.4 297.3C105.4 300.5 102.3 305.2 101.3 306.7C101.8 304.9 103.0 299.3 104.1 295.6C105.2 292.0 106.1 288.3 107.8 285.0C109.8 280.9 112.4 277.1 115.0 273.3C117.7 269.5 122.2 264.2 123.6 262.4"/>
<path class="p" d="M121.4 267.6C123.0 265.2 127.6 257.6 130.9 252.8C134.3 248.0 137.6 243.1 141.3 238.6C144.3 234.8 147.7 231.4 150.9 227.9C154.3 224.4 159.4 219.3 161.1 217.6C160.1 219.9 157.3 226.8 155.1 231.2C152.9 235.5 150.9 240.1 147.9 243.9C144.4 248.5 140.0 252.6 135.6 256.5C131.1 260.5 123.8 265.8 121.4 267.6"/>
<path class="p" d="M121.4 267.6C122.9 265.6 127.3 259.2 130.5 255.2C133.7 251.2 136.9 247.2 140.3 243.4C143.2 240.4 146.4 237.7 149.5 234.9C152.7 232.1 157.6 228.1 159.2 226.7C158.1 228.6 155.2 234.4 152.9 238.0C150.7 241.6 148.6 245.4 145.8 248.5C142.4 252.3 138.4 255.6 134.4 258.8C130.2 262.0 123.6 266.2 121.4 267.6"/>
<path class="p" d="M121.4 267.6C122.2 265.5 124.5 259.0 126.3 254.8C128.0 250.6 129.8 246.4 131.9 242.4C133.6 239.1 135.6 235.9 137.6 232.7C139.6 229.6 142.7 224.9 143.8 223.3C143.3 225.2 142.0 230.8 140.9 234.4C139.9 238.0 138.9 241.7 137.3 245.1C135.3 249.2 132.7 253.0 130.0 256.7C127.4 260.5 122.8 265.8 121.4 267.6"/>
<path class="p" d="M121.4 267.6C122.2 265.8 124.6 260.1 126.3 256.4C128.0 252.7 129.8 249.0 131.8 245.4C133.4 242.5 135.2 239.7 137.0 236.9C138.9 234.1 141.7 229.9 142.6 228.6C142.2 230.2 140.8 235.2 139.8 238.4C138.7 241.6 137.7 244.9 136.2 247.8C134.3 251.4 131.8 254.8 129.4 258.1C126.9 261.4 122.7 266.0 121.4 267.6"/>
<path class="p" d="M121.4 267.6C122.0 266.2 123.8 261.7 125.1 258.7C126.4 255.8 127.7 252.8 129.1 250.0C130.3 247.7 131.6 245.4 133.0 243.1C134.3 240.9 136.4 237.5 137.0 236.4C136.7 237.7 135.7 241.6 134.9 244.1C134.1 246.6 133.4 249.2 132.2 251.6C130.8 254.4 129.1 257.2 127.3 259.8C125.4 262.5 122.4 266.3 121.4 267.6"/>
<path class="p" d="M121.4 267.6C122.6 265.6 126.3 259.4 128.9 255.3C131.5 251.3 134.1 247.3 137.0 243.5C139.4 240.4 142.1 237.5 144.7 234.6C147.3 231.7 151.4 227.4 152.7 225.9C151.9 227.8 149.8 233.5 148.1 237.2C146.5 240.8 144.9 244.5 142.6 247.7C139.8 251.6 136.3 255.0 132.8 258.3C129.2 261.6 123.3 266.1 121.4 267.6"/>
<path class="p" d="M121.4 267.6C124.0 266.2 131.7 261.6 137.0 258.8C142.2 256.0 147.5 253.2 153.0 250.8C157.4 248.8 162.1 247.3 166.7 245.7C171.3 244.1 178.3 241.9 180.6 241.2C178.6 242.6 172.7 247.2 168.6 250.0C164.5 252.7 160.4 255.6 156.0 257.7C150.6 260.1 144.8 261.9 139.1 263.6C133.3 265.2 124.4 267.0 121.4 267.6"/>
<path class="p" d="M121.4 267.6C124.0 266.6 131.7 263.5 137.0 261.6C142.2 259.7 147.5 257.8 152.8 256.3C157.2 255.0 161.6 254.1 166.1 253.1C170.5 252.1 177.3 250.9 179.5 250.4C177.4 251.5 171.3 254.8 167.1 256.7C163.0 258.6 158.8 260.7 154.5 262.0C149.2 263.7 143.7 264.7 138.2 265.6C132.6 266.5 124.2 267.3 121.4 267.6"/>
<path class="p" d="M121.4 267.6C125.1 266.7 136.0 263.6 143.3 261.8C150.7 260.0 158.0 258.2 165.4 256.9C171.5 255.8 177.7 255.1 183.8 254.4C190.0 253.7 199.2 252.8 202.3 252.5C199.4 253.6 190.6 257.0 184.7 259.0C178.8 260.9 172.9 263.1 166.8 264.3C159.4 265.7 151.8 266.4 144.3 266.9C136.7 267.5 125.2 267.5 121.4 267.6"/>
<path class="p" d="M121.4 267.6C124.8 267.0 135.2 265.1 142.1 264.1C149.0 263.0 155.9 262.0 162.9 261.3C168.6 260.7 174.3 260.5 180.0 260.3C185.7 260.0 194.3 259.8 197.2 259.7C194.4 260.4 186.0 262.7 180.4 264.0C174.8 265.2 169.2 266.6 163.5 267.3C156.6 268.1 149.5 268.2 142.5 268.2C135.5 268.3 124.9 267.7 121.4 267.6"/>
<path class="p" d="M121.4 267.6C123.6 266.4 129.9 262.4 134.3 259.9C138.7 257.5 143.1 255.1 147.6 252.9C151.3 251.2 155.1 249.8 159.0 248.3C162.8 246.9 168.6 244.9 170.6 244.2C168.9 245.4 164.0 249.3 160.6 251.7C157.2 254.1 153.8 256.6 150.2 258.4C145.7 260.6 140.9 262.2 136.1 263.7C131.3 265.3 123.9 267.0 121.4 267.6"/>
<path class="p" d="M121.4 267.6C124.4 266.7 133.4 263.7 139.5 262.0C145.6 260.2 151.7 258.5 157.8 257.1C162.9 255.9 168.0 255.2 173.1 254.3C178.2 253.5 185.9 252.4 188.5 252.0C186.0 253.0 178.8 256.1 173.9 257.9C169.1 259.8 164.2 261.7 159.2 262.9C153.1 264.4 146.7 265.3 140.5 266.1C134.1 266.9 124.6 267.4 121.4 267.6"/>
<path class="p" d="M121.4 267.6C117.7 268.7 106.8 272.1 99.4 274.0C92.1 275.9 84.7 277.8 77.2 279.2C71.1 280.3 64.9 280.9 58.7 281.6C52.5 282.3 43.2 283.0 40.0 283.3C43.0 282.1 51.7 278.3 57.7 276.1C63.5 273.9 69.4 271.6 75.5 270.3C83.0 268.8 90.6 268.2 98.2 267.8C105.9 267.3 117.5 267.7 121.4 267.6"/>
<path class="p" d="M121.4 267.6C118.0 268.5 107.7 271.2 100.8 272.8C93.9 274.4 87.0 275.9 80.0 277.0C74.3 277.9 68.5 278.3 62.8 278.9C57.0 279.4 48.3 279.9 45.4 280.1C48.2 279.2 56.4 276.0 62.0 274.3C67.5 272.5 73.1 270.6 78.8 269.6C85.7 268.4 92.9 267.9 99.9 267.6C107.1 267.3 117.8 267.6 121.4 267.6"/>
<path class="p" d="M121.4 267.6C118.4 268.4 109.3 270.8 103.2 272.2C97.1 273.6 91.0 274.9 84.9 275.9C79.8 276.8 74.7 277.2 69.6 277.7C64.6 278.3 56.9 278.9 54.4 279.1C56.8 278.3 64.1 275.6 69.0 274.1C73.9 272.6 78.8 270.9 83.8 270.0C90.0 268.9 96.3 268.4 102.5 268.0C108.8 267.6 118.2 267.7 121.4 267.6"/>
<path class="p" d="M121.4 267.6C118.8 269.1 111.0 273.6 105.7 276.4C100.4 279.1 95.1 281.8 89.6 284.2C85.1 286.1 80.4 287.5 75.8 289.1C71.1 290.7 64.1 292.8 61.7 293.5C63.7 291.9 69.6 287.1 73.7 284.2C77.7 281.4 81.7 278.3 86.2 276.3C91.6 273.9 97.5 272.3 103.3 270.9C109.3 269.4 118.4 268.2 121.4 267.6"/>
<path class="p" d="M121.4 267.6C118.9 268.8 111.5 272.5 106.5 274.7C101.5 276.9 96.5 279.1 91.4 281.0C87.2 282.5 82.8 283.7 78.5 285.0C74.2 286.2 67.7 287.9 65.5 288.5C67.4 287.2 73.1 283.2 77.0 280.9C80.9 278.6 84.7 276.0 88.9 274.4C94.0 272.4 99.4 271.2 104.8 270.1C110.3 268.9 118.6 268.0 121.4 267.6"/>
<path class="p" d="M121.4 267.6C117.8 268.3 107.2 270.6 100.1 271.9C93.0 273.2 85.8 274.4 78.6 275.4C72.8 276.1 66.8 276.5 60.9 276.9C55.0 277.4 46.1 277.9 43.2 278.1C46.1 277.4 54.7 275.1 60.5 273.9C66.3 272.6 72.1 271.2 78.0 270.4C85.1 269.4 92.4 268.9 99.6 268.4C106.9 268.0 117.8 267.8 121.4 267.6"/>
<path class="p" d="M121.4 267.6C120.6 270.0 118.5 277.1 116.7 281.7C115.0 286.3 113.3 290.9 111.2 295.4C109.5 299.0 107.3 302.4 105.2 305.9C103.1 309.3 99.8 314.4 98.7 316.1C99.0 314.0 99.6 307.7 100.5 303.6C101.2 299.6 101.8 295.4 103.5 291.7C105.5 287.3 108.4 283.1 111.4 279.2C114.4 275.1 119.7 269.6 121.4 267.6"/>
<path class="p" d="M121.4 267.6C120.5 269.7 118.0 275.9 116.1 280.0C114.3 284.0 112.3 288.0 110.0 291.8C108.2 295.0 105.9 297.8 103.7 300.7C101.5 303.7 98.0 307.9 96.8 309.3C97.3 307.5 98.5 302.0 99.7 298.4C100.8 294.9 101.8 291.2 103.6 288.0C105.8 284.2 108.7 280.7 111.6 277.3C114.6 273.9 119.8 269.2 121.4 267.6"/>
<path class="p" d="M121.4 267.6C120.1 269.3 116.2 274.3 113.4 277.5C110.6 280.7 107.8 283.8 104.7 286.7C102.1 289.0 99.3 291.0 96.5 293.0C93.7 295.1 89.3 297.9 87.9 298.9C88.8 297.4 91.3 292.6 93.3 289.6C95.2 286.7 97.1 283.6 99.6 281.2C102.6 278.3 106.2 275.9 109.8 273.7C113.5 271.4 119.5 268.6 121.4 267.6"/>
<path class="p" d="M121.4 267.6C120.7 269.4 118.8 274.7 117.4 278.1C116.0 281.6 114.6 285.0 112.9 288.4C111.6 291.1 109.9 293.7 108.4 296.3C106.8 298.9 104.3 302.8 103.5 304.1C103.8 302.6 104.6 297.9 105.3 294.8C106.1 291.8 106.7 288.7 108.0 285.9C109.6 282.6 111.8 279.4 114.0 276.4C116.2 273.3 120.2 269.1 121.4 267.6"/>
<path class="p" d="M121.4 267.6C119.7 268.9 114.6 272.9 111.0 275.3C107.5 277.7 104.0 280.1 100.3 282.3C97.2 284.0 94.0 285.4 90.8 286.9C87.7 288.4 82.8 290.4 81.2 291.1C82.5 289.8 86.3 286.0 89.0 283.7C91.6 281.3 94.3 278.9 97.3 277.1C100.9 274.9 104.9 273.2 108.9 271.7C113.0 270.1 119.3 268.3 121.4 267.6"/>
<path class="p" d="M121.4 267.6C120.6 269.8 118.5 276.2 116.8 280.4C115.2 284.6 113.5 288.8 111.5 292.9C109.9 296.2 108.0 299.3 106.1 302.5C104.2 305.7 101.2 310.4 100.2 311.9C100.3 310.0 100.5 304.0 101.0 300.1C101.6 296.3 101.9 292.3 103.4 289.0C105.3 284.9 108.2 281.2 111.1 277.7C114.2 274.0 119.7 269.3 121.4 267.6"/>
<path class="p" d="M195.2 265.0L166.1 274.9L121.4 289.5L108.0 293.7"/>
<path class="p" d="M121.4 267.6C122.0 265.9 123.5 260.5 124.8 257.1C125.7 254.4 127.5 250.7 128.1 249.4C128.1 249.6 127.9 250.2 127.8 250.7C127.7 251.3 127.6 251.9 127.4 252.5C127.3 253.2 127.1 254.0 126.9 254.7C126.7 255.5 126.5 256.3 126.2 257.1C126.0 257.9 125.7 258.8 125.4 259.6C125.1 260.5 124.8 261.3 124.5 262.2C124.1 263.1 123.7 264.1 123.3 265.1C122.8 266.2 122.4 267.4 121.9 268.5C121.4 269.9 121.0 271.2 120.5 272.6C120.0 273.9 119.5 275.2 119.0 276.6C118.5 277.8 118.0 279.0 117.5 280.2C117.1 281.3 116.6 282.3 116.2 283.3C115.9 283.9 115.6 284.6 115.2 285.1C115.1 285.4 114.8 285.8 114.7 285.9C114.8 285.6 114.9 285.0 115.1 284.5C115.2 283.9 115.4 283.2 115.6 282.6C115.8 281.8 116.0 281.0 116.3 280.3C116.6 279.5 116.9 278.6 117.2 277.8C117.5 277.0 117.9 276.1 118.3 275.2C118.7 274.3 119.1 273.5 119.5 272.6C120.0 271.6 120.6 270.7 121.1 269.6C121.8 268.3 122.4 267.0 122.9 265.6C123.7 263.5 124.2 261.4 124.9 259.3C125.5 257.3 126.2 255.2 126.9 253.1C127.5 251.2 128.1 249.4 128.8 247.5C129.4 245.9 130.0 244.4 130.6 242.8C131.0 241.9 131.4 241.0 131.9 240.1C132.1 239.7 132.5 239.2 132.6 239.0C132.5 239.3 132.3 240.4 132.1 241.1C131.9 242.1 131.7 243.1 131.5 244.1C131.2 245.4 130.9 246.6 130.6 247.8C130.2 249.1 129.8 250.3 129.4 251.6C129.0 253.0 128.6 254.4 128.1 255.7C127.6 257.1 127.1 258.5 126.5 259.8C125.9 261.4 125.2 262.9 124.5 264.4C123.8 266.1 123.0 267.8 122.3 269.5C121.5 271.4 120.7 273.3 119.8 275.2C119.0 277.1 118.2 279.0 117.4 280.8C116.6 282.5 115.8 284.2 114.9 285.9C114.2 287.4 113.5 288.8 112.7 290.2C112.2 291.1 111.7 291.9 111.1 292.7C110.9 293.1 110.4 293.5 110.2 293.7C110.3 293.3 110.6 292.3 110.8 291.6C111.0 290.7 111.3 289.7 111.6 288.7C111.9 287.6 112.3 286.4 112.6 285.3C113.1 284.1 113.5 282.8 114.0 281.7C114.5 280.4 115.0 279.1 115.6 277.8C116.2 276.6 116.8 275.3 117.5 274.0C118.2 272.6 119.1 271.2 119.9 269.8C120.8 267.9 121.8 266.1 122.6 264.2C123.6 261.6 124.5 259.0 125.5 256.4C126.5 253.8 127.4 251.1 128.5 248.6C129.4 246.2 130.4 243.9 131.4 241.6C132.3 239.7 133.1 237.7 134.1 235.8C134.7 234.7 135.3 233.6 136.0 232.5C136.3 232.0 136.9 231.4 137.0 231.2C136.9 231.6 136.6 233.1 136.4 234.0C136.1 235.4 135.8 236.8 135.5 238.1C135.1 239.7 134.7 241.3 134.2 242.9C133.7 244.6 133.2 246.3 132.7 248.0C132.1 249.8 131.5 251.6 130.8 253.3C130.1 255.1 129.4 256.9 128.6 258.7C127.7 260.6 126.7 262.5 125.8 264.5C124.7 266.6 123.7 268.7 122.7 270.9C121.5 273.3 120.4 275.7 119.2 278.1C118.1 280.5 117.0 283.0 115.8 285.4C114.7 287.5 113.5 289.7 112.3 291.8C111.3 293.6 110.3 295.4 109.2 297.2C108.5 298.2 107.8 299.3 107.0 300.3C106.6 300.7 106.0 301.3 105.8 301.5C105.9 301.0 106.2 299.6 106.5 298.7C106.9 297.3 107.2 296.0 107.6 294.7C108.1 293.1 108.5 291.6 109.1 290.0C109.6 288.4 110.3 286.8 110.9 285.1C111.6 283.4 112.3 281.8 113.1 280.1C113.9 278.4 114.8 276.7 115.7 275.1C116.8 273.2 118.0 271.3 119.0 269.4C120.3 267.1 121.6 264.8 122.7 262.4C124.2 259.4 125.4 256.2 126.8 253.1C128.1 250.0 129.4 246.8 130.8 243.7C132.1 241.0 133.5 238.2 134.9 235.5C136.1 233.2 137.3 230.9 138.6 228.7C139.4 227.4 140.2 226.1 141.2 224.9C141.6 224.3 142.4 223.6 142.6 223.3C142.5 224.0 142.1 225.8 141.8 227.0C141.4 228.8 141.0 230.5 140.6 232.3C140.0 234.3 139.5 236.4 138.9 238.4C138.3 240.5 137.6 242.6 136.8 244.7C136.1 247.0 135.2 249.2 134.4 251.3C133.5 253.6 132.5 255.8 131.5 257.9C130.3 260.3 129.0 262.6 127.7 265.0C126.4 267.5 125.0 270.0 123.6 272.5C122.1 275.4 120.6 278.4 119.1 281.3C117.5 284.3 116.1 287.2 114.5 290.1C113.1 292.8 111.5 295.3 110.0 297.9C108.6 300.0 107.3 302.2 105.8 304.2C104.9 305.5 104.0 306.7 102.9 307.8C102.4 308.4 101.6 309.1 101.3 309.3C101.4 308.7 101.8 307.0 102.1 305.8C102.5 304.2 103.0 302.6 103.4 300.9C103.9 299.0 104.5 297.1 105.1 295.2C105.8 293.2 106.5 291.2 107.2 289.2C108.0 287.1 108.9 285.0 109.8 283.0C110.7 280.9 111.7 278.8 112.8 276.8C113.9 274.5 115.3 272.3 116.6 270.0C118.0 267.5 119.5 265.0 120.8 262.4C122.4 259.4 123.9 256.2 125.5 253.1C127.0 250.0 128.5 246.8 130.2 243.7C131.6 240.9 133.2 238.2 134.8 235.5C136.2 233.2 137.6 230.9 139.1 228.7C140.0 227.4 141.0 226.1 142.1 224.9C142.6 224.3 143.5 223.6 143.8 223.3C143.6 224.0 143.2 225.8 142.9 227.0C142.4 228.8 142.0 230.5 141.5 232.3C141.0 234.3 140.4 236.4 139.7 238.4C139.0 240.5 138.3 242.6 137.5 244.7C136.6 247.0 135.8 249.2 134.8 251.3C133.8 253.6 132.8 255.8 131.7 257.9C130.4 260.4 129.0 262.7 127.7 265.1C126.1 267.8 124.6 270.5 123.2 273.3C121.5 276.7 119.9 280.1 118.3 283.6C116.6 287.0 115.1 290.4 113.4 293.8C111.8 296.8 110.1 299.8 108.4 302.8C107.0 305.3 105.5 307.8 104.0 310.2C103.0 311.6 101.9 313.0 100.8 314.4C100.3 315.0 99.3 315.8 99.1 316.1C99.2 315.4 99.7 313.4 100.1 312.1C100.6 310.1 101.1 308.2 101.6 306.3C102.3 304.1 102.9 301.9 103.7 299.6C104.5 297.3 105.3 295.0 106.2 292.7C107.2 290.3 108.2 287.8 109.3 285.5C110.5 283.0 111.6 280.6 112.9 278.2C114.4 275.6 116.0 273.1 117.6 270.5C119.3 267.7 121.0 265.0 122.7 262.1C124.6 258.9 126.5 255.5 128.4 252.2C130.2 248.9 132.0 245.6 134.0 242.3C135.8 239.4 137.7 236.5 139.7 233.6C141.3 231.2 143.0 228.8 144.8 226.5C145.9 225.0 147.1 223.7 148.4 222.4C149.0 221.8 150.1 221.0 150.5 220.7C150.3 221.4 149.8 223.4 149.4 224.7C148.9 226.5 148.4 228.4 147.8 230.2C147.2 232.4 146.5 234.5 145.7 236.7C144.9 238.9 144.0 241.2 143.1 243.4C142.1 245.7 141.1 248.1 140.0 250.4C138.8 252.7 137.6 255.1 136.3 257.4C134.8 259.9 133.1 262.4 131.5 264.9C129.8 267.6 128.0 270.4 126.3 273.1C124.3 276.4 122.4 279.7 120.5 283.0C118.6 286.3 116.8 289.7 114.7 292.9C112.9 295.9 111.0 298.8 109.0 301.7C107.3 304.1 105.5 306.5 103.7 308.8C102.6 310.2 101.3 311.6 100.0 312.9C99.4 313.5 98.3 314.3 97.9 314.5C98.1 313.9 98.8 311.9 99.2 310.6C99.8 308.8 100.4 306.9 101.1 305.1C101.9 302.9 102.7 300.7 103.6 298.6C104.5 296.3 105.6 294.1 106.7 291.9C107.9 289.5 109.1 287.2 110.4 284.9C111.8 282.5 113.3 280.2 114.8 277.9C116.6 275.3 118.6 272.9 120.5 270.4C122.6 267.5 124.7 264.7 126.7 261.8C129.1 258.4 131.3 254.9 133.6 251.4C135.9 247.9 138.1 244.3 140.5 240.9C142.7 237.8 145.0 234.7 147.4 231.7C149.4 229.1 151.4 226.6 153.6 224.2C155.0 222.7 156.5 221.2 158.0 219.9C158.8 219.2 160.1 218.4 160.5 218.1C160.3 218.8 159.7 220.9 159.2 222.3C158.6 224.2 158.0 226.2 157.3 228.1C156.5 230.4 155.7 232.7 154.8 234.9C153.8 237.3 152.7 239.7 151.6 242.0C150.4 244.5 149.1 247.0 147.8 249.4C146.4 251.9 144.9 254.4 143.3 256.8C141.5 259.5 139.5 262.0 137.6 264.6C135.5 267.3 133.3 269.9 131.2 272.5C128.9 275.5 126.5 278.4 124.2 281.3C121.9 284.3 119.6 287.3 117.2 290.1C114.9 292.8 112.6 295.4 110.2 297.9C108.1 300.1 106.0 302.2 103.8 304.2C102.4 305.5 100.9 306.7 99.4 307.8C98.6 308.4 97.2 309.1 96.8 309.3C96.9 308.7 97.3 307.0 97.5 305.8C97.9 304.2 98.2 302.6 98.6 300.9C99.1 299.0 99.5 297.1 100.0 295.2C100.6 293.2 101.2 291.2 101.8 289.2C102.5 287.1 103.2 285.0 104.0 283.0C104.7 280.9 105.5 278.8 106.5 276.8C107.4 274.7 108.4 272.6 109.7 270.7C110.7 269.1 111.9 267.6 113.3 266.4C114.4 265.4 115.9 264.9 117.2 264.2C118.5 263.5 119.8 262.7 121.1 262.0C122.4 261.3 123.7 260.7 125.1 260.1C126.2 259.5 127.4 259.0 128.6 258.5C129.5 258.2 130.3 257.9 131.1 257.6C131.6 257.4 132.3 257.3 132.6 257.2"/>
<path class="ax" d="M32 202V345.8H211.3"/>
<path class="tk" d="M32 345.8v2.2M37.59 345.8v1.3M43.17 345.8v2.2M48.76 345.8v1.3M54.35 345.8v2.2M59.94 345.8v1.3M65.53 345.8v2.2M71.11 345.8v1.3M76.7 345.8v2.2M82.29 345.8v1.3M87.88 345.8v2.2M93.46 345.8v1.3M99.05 345.8v2.2M104.64 345.8v1.3M110.23 345.8v2.2M115.81 345.8v1.3M121.4 345.8v2.2M126.99 345.8v1.3M132.57 345.8v2.2M138.16 345.8v1.3M143.75 345.8v2.2M149.34 345.8v1.3M154.93 345.8v2.2M160.51 345.8v1.3M166.1 345.8v2.2M171.69 345.8v1.3M177.28 345.8v2.2M182.86 345.8v1.3M188.45 345.8v2.2M194.04 345.8v1.3M199.62 345.8v2.2M205.21 345.8v1.3M210.8 345.8v2.2M32 345.8h-2.4M32 332.77h-1.3M32 319.75h-2.4M32 306.72h-1.3M32 293.69h-2.4M32 280.66h-1.3M32 267.64h-2.4M32 254.61h-1.3M32 241.58h-2.4M32 228.55h-1.3M32 215.53h-2.4M32 202.5h-1.3"/>
<text class="tl" x="32" y="355.1" text-anchor="middle">-4.0</text>
<text class="tl" x="43.17" y="355.1" text-anchor="middle">-3.5</text>
<text class="tl" x="54.35" y="355.1" text-anchor="middle">-3.0</text>
<text class="tl" x="65.53" y="355.1" text-anchor="middle">-2.5</text>
<text class="tl" x="76.7" y="355.1" text-anchor="middle">-2.0</text>
<text class="tl" x="87.88" y="355.1" text-anchor="middle">-1.5</text>
<text class="tl" x="99.05" y="355.1" text-anchor="middle">-1.0</text>
<text class="tl" x="110.23" y="355.1" text-anchor="middle">-0.5</text>
<text class="tl" x="121.4" y="355.1" text-anchor="middle">0.0</text>
<text class="tl" x="132.57" y="355.1" text-anchor="middle">0.5</text>
<text class="tl" x="143.75" y="355.1" text-anchor="middle">1.0</text>
<text class="tl" x="154.93" y="355.1" text-anchor="middle">1.5</text>
<text class="tl" x="166.1" y="355.1" text-anchor="middle">2.0</text>
<text class="tl" x="177.28" y="355.1" text-anchor="middle">2.5</text>
<text class="tl" x="188.45" y="355.1" text-anchor="middle">3.0</text>
<text class="tl" x="199.62" y="355.1" text-anchor="middle">3.5</text>
<text class="tl" x="210.8" y="355.1" text-anchor="middle">4.0</text>
<text class="tl" x="27.7" y="348" text-anchor="end">-1.5</text>
<text class="tl" x="27.7" y="321.95" text-anchor="end">-1.0</text>
<text class="tl" x="27.7" y="295.89" text-anchor="end">-0.5</text>
<text class="tl" x="27.7" y="269.84" text-anchor="end">0.0</text>
<text class="tl" x="27.7" y="243.78" text-anchor="end">0.5</text>
<text class="tl" x="27.7" y="217.73" text-anchor="end">1.0</text>
<text class="at" x="121.4" y="367.4" text-anchor="middle">Displacement Ductility Demand</text>
<text class="at" transform="translate(10 264.5) rotate(-90)" text-anchor="middle">Normalized Inelastic Restoring Force</text>
<text class="ti" x="121.5" y="203.4" text-anchor="middle">S13</text>
<rect class="lg" x="36.9" y="204.3" width="55.2" height="18.8"/>
<path class="e le" d="M37.6 209.3h17.4"/>
<path class="p le" d="M37.6 218.5h17.4"/>
<text class="lt" x="57.2" y="211.8">Experiment</text>
<text class="lt" x="57.2" y="221">Prediction</text>
</g>
<g>
<path class="e" d="M362.1 282.1C363.3 277.9 366.8 265.4 369.6 257.1C371.4 251.8 373.4 246.5 375.6 241.3C377.7 236.6 379.8 231.7 382.5 227.4C384.8 223.7 387.5 220.0 390.6 217.3C392.1 216.0 394.9 214.7 396.4 215.4C398.3 216.3 399.9 219.7 400.6 222.3C401.7 226.1 401.8 230.5 401.5 234.6C401.2 239.2 400.2 244.0 399.0 248.5C397.9 252.6 397.1 257.3 394.6 260.5C390.8 265.3 385.2 269.2 379.9 272.5C373.8 276.4 363.6 280.5 360.3 282.1"/>
<path class="e" d="M362.1 282.1C363.3 278.1 366.8 266.1 369.2 258.1C370.9 252.5 372.5 246.8 374.6 241.3C376.6 235.9 378.9 230.5 381.7 225.5C383.3 222.7 385.9 218.2 387.7 218.0C389.1 217.9 391.0 222.1 391.5 224.5C392.6 229.1 392.8 234.2 392.4 238.9C391.9 244.6 391.1 250.6 388.9 255.7C386.3 261.4 382.7 267.3 378.1 271.5C373.2 276.1 363.3 280.3 360.3 282.1"/>
<path class="e" d="M362.1 282.1C363.3 278.5 366.7 267.7 369.2 260.5C370.9 255.7 372.7 250.8 374.6 246.1C376.2 242.0 377.9 237.9 379.9 234.1C380.9 232.3 382.6 228.9 383.5 229.3C384.7 229.7 386.0 234.0 386.2 236.5C386.6 241.2 386.5 246.3 385.3 250.9C383.8 256.7 381.7 262.9 378.1 267.7C374.0 273.3 364.8 279.7 362.1 282.1"/>
<path class="e" d="M363.0 279.7C363.9 276.9 366.4 268.5 368.3 262.9C369.7 258.9 371.1 254.8 372.8 250.9C373.8 248.4 375.2 244.2 376.4 243.7C377.1 243.4 378.5 246.8 378.5 248.5C378.5 253.2 378.5 258.7 376.4 262.9C373.3 269.1 365.2 276.9 363.0 279.7"/>
<path class="e" d="M362.1 279.7C363.9 275.7 368.6 263.3 372.8 255.7C375.2 251.3 378.0 246.7 381.7 243.7C384.5 241.4 388.9 239.8 392.4 239.9C395.5 239.9 399.6 242.0 401.5 244.2C402.8 245.7 402.7 248.8 402.2 250.9C401.4 254.7 400.4 259.2 397.8 261.9C393.6 266.4 387.5 269.8 381.7 272.5C375.0 275.7 363.9 278.5 360.3 279.7"/>
<path class="e" d="M360.3 278.3C362.7 275.3 369.2 265.8 374.6 260.5C378.2 257.0 382.4 253.3 387.1 251.7C392.0 250.1 397.8 251.1 403.1 250.8C411.0 250.5 420.6 248.2 426.7 249.9C428.8 250.5 427.4 255.2 427.6 257.8C427.7 260.4 429.0 263.8 427.6 265.6C425.5 268.3 420.8 270.2 417.1 271.3C412.7 272.7 407.8 272.8 403.1 273.3C393.6 274.2 384.1 274.4 374.6 275.4C368.6 276.0 359.7 277.8 356.7 278.3"/>
<path class="e" d="M360.3 278.3C362.7 275.3 369.0 265.4 374.6 260.5C377.9 257.6 382.7 255.8 387.1 254.8C392.2 253.7 397.8 254.3 403.1 254.1C411.2 253.8 420.7 251.8 427.2 253.3C429.1 253.7 428.0 257.8 428.1 260.0C428.3 262.6 429.5 266.0 428.1 267.7C425.8 270.5 421.0 272.3 417.1 273.5C412.6 274.8 407.8 275.2 403.1 275.4C393.6 275.8 384.0 274.8 374.6 275.4C368.6 275.8 359.7 277.8 356.7 278.3"/>
<path class="e" d="M360.3 278.3C362.7 275.3 368.9 264.8 374.6 260.5C377.8 258.1 382.9 258.4 387.1 257.9C392.4 257.3 397.8 257.5 403.1 257.3C410.9 257.0 419.9 255.3 426.3 256.7C427.9 257.0 427.1 260.3 427.2 262.2C427.4 264.3 428.4 267.2 427.2 268.7C425.0 271.3 420.7 273.3 417.1 274.4C412.7 275.8 407.8 276.2 403.1 276.3C393.6 276.6 384.0 275.0 374.6 275.4C368.6 275.6 359.7 277.8 356.7 278.3"/>
<path class="e" d="M360.3 278.3C362.7 275.3 368.8 264.3 374.6 260.5C377.7 258.4 382.9 260.6 387.1 260.6C392.4 260.5 397.8 260.2 403.1 260.1C411.2 259.9 420.2 258.4 427.2 259.5C428.6 259.8 427.9 262.6 428.1 264.1C428.2 265.0 428.8 266.2 428.1 266.7C425.1 269.1 421.0 271.3 417.1 272.5C412.6 273.9 407.8 274.1 403.1 274.4C393.6 275.1 384.0 274.6 374.6 275.4C368.6 275.9 359.7 277.8 356.7 278.3"/>
<path class="e" d="M369.2 262.9C367.7 266.5 363.3 277.3 360.3 284.5C357.9 290.1 355.1 295.6 353.2 301.3C351.3 306.8 350.5 312.6 348.7 318.1C347.8 320.6 346.8 324.7 345.1 325.3C343.8 325.8 341.4 322.9 339.8 321.5C338.6 320.5 337.9 318.6 336.6 318.1C335.2 317.5 333.0 318.7 331.7 318.1C330.7 317.6 330.0 316.0 329.6 314.7C328.7 312.3 327.7 309.6 327.9 307.1C328.2 302.7 329.1 298.1 330.8 294.1C332.7 289.8 335.3 285.1 338.9 282.1C343.9 277.9 350.9 276.0 356.7 272.5C361.6 269.6 368.6 264.5 371.0 262.9"/>
<path class="e" d="M369.2 262.9C367.9 266.5 363.9 277.3 361.2 284.5C359.1 290.1 357.0 295.7 354.9 301.3C353.2 306.1 352.2 311.6 349.6 315.7C348.6 317.2 345.4 319.0 344.2 318.1C342.1 316.6 340.1 311.9 339.8 308.5C339.2 303.1 339.7 296.9 341.6 291.7C343.6 286.1 347.1 280.5 351.4 276.3C356.9 270.9 367.7 265.1 371.0 262.9"/>
<path class="e" d="M369.2 262.9C368.0 266.1 364.3 275.6 362.1 282.1C360.4 286.8 359.4 291.8 357.6 296.5C356.4 299.8 354.9 305.1 353.2 306.1C352.2 306.7 349.8 303.2 349.6 301.3C349.0 296.8 349.1 291.4 350.5 286.9C352.1 281.8 355.2 276.8 358.5 272.5C361.4 268.8 367.4 264.5 369.2 262.9"/>
<path class="e" d="M371.0 266.7C368.0 269.3 359.6 277.8 353.2 282.1C348.7 285.1 342.9 285.8 338.3 288.6C335.0 290.6 332.7 294.1 329.6 296.5C326.9 298.5 324.1 300.6 321.0 301.8C317.8 303.0 314.1 303.8 310.7 303.8C308.3 303.8 304.5 303.6 303.7 301.8C302.4 298.8 304.1 293.6 304.4 289.5C304.7 285.5 303.5 280.3 305.5 277.5C307.3 274.9 312.2 273.9 315.8 273.2C320.3 272.3 325.0 273.0 329.6 272.7C337.5 272.2 345.4 272.1 353.2 271.1C359.8 270.1 369.5 267.5 372.8 266.7"/>
<path class="e" d="M371.0 266.7C368.0 269.3 359.7 278.2 353.2 282.1C348.9 284.7 342.9 284.1 338.3 286.2C335.1 287.7 332.7 291.0 329.6 293.0C326.9 294.7 324.0 296.5 321.0 297.5C317.7 298.5 314.1 299.2 310.7 299.2C308.6 299.2 305.3 299.0 304.6 297.5C303.5 294.9 305.0 290.5 305.3 287.0C305.6 283.4 304.6 278.9 306.4 276.3C308.1 273.9 312.5 272.7 315.8 272.0C320.3 271.1 325.0 271.7 329.6 271.5C337.4 271.3 345.4 271.9 353.2 271.1C359.8 270.3 369.5 267.5 372.8 266.7"/>
<path class="e" d="M371.0 266.7C368.0 269.3 359.8 278.6 353.2 282.1C348.9 284.3 343.0 282.4 338.3 283.9C335.1 284.9 332.6 287.8 329.6 289.4C326.9 290.9 324.0 292.3 321.0 293.1C317.7 294.0 314.1 294.6 310.7 294.6C308.5 294.6 304.9 294.6 304.1 293.1C303.0 291.2 304.5 287.4 304.8 284.5C305.1 281.4 304.2 277.4 305.9 275.4C307.9 273.0 312.4 271.8 315.8 271.1C320.3 270.2 325.0 270.6 329.6 270.6C337.4 270.6 345.4 271.8 353.2 271.1C359.8 270.5 369.5 267.5 372.8 266.7"/>
<path class="e" d="M371.0 266.7C368.0 269.3 359.8 279.1 353.2 282.1C348.9 284.0 343.1 280.5 338.3 281.2C335.2 281.7 332.6 284.3 329.6 285.5C326.8 286.6 324.0 287.7 321.0 288.3C317.6 289.0 314.1 289.4 310.7 289.4C308.8 289.4 305.7 289.5 305.0 288.3C304.1 287.0 305.4 283.9 305.7 281.7C306.0 279.4 305.4 276.4 306.7 274.9C308.8 272.7 312.6 271.3 315.8 270.6C320.2 269.7 325.0 270.0 329.6 270.1C337.4 270.2 345.4 271.7 353.2 271.1C359.8 270.5 369.5 267.5 372.8 266.7"/>
<path class="e" d="M371.0 266.7C368.0 269.3 359.8 279.8 353.2 282.1C348.9 283.6 343.2 278.5 338.3 278.3C335.4 278.2 332.5 280.3 329.6 281.2C326.8 281.9 323.9 282.7 321.0 283.1C317.6 283.5 314.1 283.8 310.7 283.8C308.5 283.8 305.2 284.1 304.1 283.1C303.3 282.4 304.5 280.1 304.8 278.6C305.1 277.4 304.9 275.6 305.9 274.9C308.6 272.9 312.4 271.3 315.8 270.6C320.3 269.7 325.0 270.0 329.6 270.1C337.4 270.2 345.4 271.7 353.2 271.1C359.8 270.5 369.5 267.5 372.8 266.7"/>
<path class="p" d="M365.6 272.5C366.2 270.4 367.9 264.1 369.2 260.0C370.2 256.9 372.2 252.4 372.8 250.9C372.7 251.2 372.6 251.9 372.5 252.5C372.4 253.2 372.2 254.0 372.1 254.7C371.9 255.6 371.7 256.5 371.5 257.4C371.3 258.3 371.0 259.3 370.8 260.2C370.5 261.3 370.2 262.3 369.9 263.3C369.6 264.3 369.3 265.4 368.9 266.4C368.5 267.5 368.1 268.7 367.6 269.8C367.2 271.2 366.7 272.5 366.2 273.9C365.7 275.4 365.2 277.0 364.7 278.6C364.1 280.2 363.6 281.7 363.1 283.3C362.6 284.7 362.0 286.1 361.5 287.6C361.0 288.8 360.6 290.0 360.1 291.2C359.8 291.9 359.4 292.6 359.1 293.3C358.9 293.6 358.6 294.0 358.5 294.1C358.6 293.8 358.8 292.9 358.9 292.4C359.1 291.5 359.3 290.7 359.5 289.9C359.7 288.9 360.0 287.9 360.3 287.0C360.6 285.9 360.9 284.9 361.3 283.9C361.6 282.9 362.0 281.8 362.4 280.7C362.9 279.7 363.3 278.6 363.8 277.6C364.4 276.3 365.1 275.1 365.6 273.9C366.3 272.2 367.0 270.5 367.5 268.7C368.4 266.2 369.0 263.6 369.7 261.1C370.4 258.5 371.1 255.9 371.9 253.4C372.5 251.1 373.3 248.9 374.0 246.6C374.6 244.7 375.3 242.9 376.0 241.0C376.4 239.9 376.9 238.9 377.4 237.8C377.6 237.4 378.0 236.7 378.1 236.5C378.1 237.0 377.8 238.4 377.6 239.4C377.4 240.8 377.2 242.2 376.9 243.5C376.6 245.2 376.3 246.8 375.9 248.4C375.5 250.1 375.1 251.8 374.6 253.5C374.2 255.2 373.7 257.0 373.1 258.8C372.6 260.6 372.0 262.3 371.4 264.1C370.7 266.0 369.9 267.9 369.1 269.8C368.3 271.9 367.5 274.0 366.6 276.1C365.7 278.6 364.8 281.0 363.9 283.5C363.0 285.9 362.1 288.4 361.2 290.8C360.3 293.0 359.4 295.2 358.4 297.4C357.6 299.2 356.8 301.0 355.9 302.7C355.4 303.8 354.8 304.8 354.2 305.8C353.9 306.3 353.3 306.9 353.2 307.1C353.3 306.6 353.6 305.1 353.8 304.1C354.1 302.7 354.3 301.3 354.7 299.9C355.1 298.2 355.4 296.6 355.9 294.9C356.4 293.2 356.9 291.6 357.4 289.9C358.0 288.1 358.6 286.4 359.2 284.7C359.9 282.9 360.6 281.2 361.3 279.4C362.2 277.5 363.2 275.6 364.1 273.7C365.1 271.3 366.2 268.9 367.1 266.5C368.3 263.3 369.3 260.1 370.5 256.9C371.6 253.8 372.6 250.6 373.8 247.4C374.8 244.6 376.0 241.8 377.1 239.0C378.1 236.8 379.1 234.5 380.2 232.3C380.8 231.0 381.5 229.7 382.3 228.5C382.6 227.9 383.3 227.2 383.5 226.9C383.4 227.6 383.0 229.5 382.8 230.8C382.4 232.7 382.1 234.6 381.7 236.4C381.3 238.6 380.8 240.7 380.3 242.9C379.7 245.1 379.1 247.3 378.5 249.6C377.8 251.9 377.1 254.2 376.4 256.4C375.6 258.8 374.8 261.1 373.9 263.3C372.9 265.8 371.7 268.2 370.6 270.6C369.5 273.3 368.2 275.9 367.1 278.5C365.7 281.7 364.5 284.9 363.2 288.1C361.8 291.2 360.6 294.5 359.2 297.6C358.0 300.4 356.7 303.2 355.3 306.0C354.2 308.2 353.0 310.5 351.7 312.7C351.0 314.0 350.1 315.3 349.2 316.5C348.8 317.1 348.0 317.8 347.8 318.1C347.9 317.4 348.3 315.5 348.6 314.2C349.0 312.3 349.4 310.4 349.9 308.6C350.4 306.4 351.0 304.3 351.6 302.1C352.2 299.9 352.9 297.6 353.7 295.4C354.5 293.1 355.3 290.8 356.2 288.6C357.1 286.2 358.1 283.9 359.1 281.7C360.3 279.2 361.7 276.7 362.9 274.3C364.3 271.5 365.8 268.7 367.1 265.8C368.7 262.3 370.2 258.8 371.7 255.3C373.2 251.8 374.7 248.2 376.3 244.8C377.8 241.6 379.3 238.6 380.9 235.5C382.3 233.0 383.6 230.5 385.1 228.0C386.0 226.6 387.0 225.2 388.1 223.8C388.6 223.2 389.5 222.4 389.7 222.1C389.6 222.8 389.2 225.0 388.9 226.5C388.4 228.5 388.0 230.6 387.5 232.6C387.0 235.0 386.4 237.4 385.7 239.8C385.0 242.2 384.3 244.7 383.5 247.1C382.7 249.7 381.8 252.2 380.8 254.8C379.8 257.3 378.8 259.9 377.7 262.4C376.5 265.1 375.0 267.8 373.7 270.5C372.2 273.5 370.6 276.5 369.2 279.5C367.5 283.1 365.9 286.9 364.3 290.5C362.7 294.2 361.1 297.9 359.4 301.6C357.9 304.8 356.2 308.1 354.5 311.3C353.1 313.9 351.6 316.5 350.0 319.1C349.1 320.6 348.0 322.1 346.9 323.5C346.4 324.1 345.4 325.0 345.1 325.3C345.3 324.5 345.7 322.3 346.1 320.7C346.5 318.6 347.0 316.4 347.5 314.3C348.1 311.8 348.7 309.3 349.4 306.8C350.2 304.2 351.0 301.6 351.8 299.1C352.7 296.4 353.7 293.7 354.7 291.1C355.7 288.4 356.8 285.7 358.0 283.1C359.4 280.3 360.9 277.5 362.3 274.7C363.9 271.6 365.6 268.6 367.1 265.5C368.9 261.9 370.6 258.1 372.4 254.5C374.1 250.8 375.8 247.1 377.7 243.4C379.3 240.2 381.1 236.9 382.9 233.7C384.4 231.1 386.0 228.5 387.7 225.9C388.7 224.4 389.9 222.9 391.0 221.5C391.6 220.9 392.6 220.0 393.0 219.7C392.8 220.5 392.3 222.7 391.9 224.3C391.4 226.4 390.9 228.6 390.4 230.7C389.8 233.2 389.1 235.7 388.3 238.2C387.6 240.8 386.7 243.4 385.8 245.9C384.8 248.6 383.8 251.3 382.7 253.9C381.6 256.6 380.4 259.3 379.1 261.9C377.7 264.8 376.0 267.6 374.5 270.5C372.8 273.9 371.0 277.3 369.4 280.7C367.4 285.0 365.6 289.4 363.8 293.7C361.9 298.1 360.1 302.4 358.1 306.7C356.3 310.6 354.5 314.4 352.5 318.1C350.9 321.2 349.2 324.3 347.4 327.3C346.3 329.1 345.1 330.9 343.8 332.5C343.2 333.3 342.1 334.3 341.7 334.7C341.9 333.8 342.4 331.1 342.8 329.3C343.4 326.8 343.9 324.2 344.5 321.7C345.1 318.7 345.8 315.8 346.6 312.9C347.5 309.8 348.4 306.8 349.4 303.8C350.4 300.6 351.5 297.5 352.6 294.4C353.8 291.2 355.0 288.1 356.4 285.0C357.9 281.7 359.6 278.4 361.3 275.2C363.1 271.8 365.0 268.5 366.8 265.2C368.8 261.4 370.8 257.5 372.8 253.6C374.8 249.8 376.7 245.9 378.8 242.1C380.6 238.7 382.7 235.3 384.7 232.0C386.5 229.2 388.3 226.5 390.2 223.8C391.4 222.2 392.7 220.7 394.0 219.2C394.6 218.5 395.8 217.6 396.2 217.3C396.0 218.1 395.4 220.5 395.0 222.1C394.4 224.3 393.9 226.6 393.2 228.8C392.5 231.4 391.8 234.1 390.9 236.6C390.0 239.4 389.0 242.1 388.0 244.7C386.9 247.5 385.7 250.3 384.5 253.1C383.2 255.9 381.8 258.7 380.4 261.4C378.7 264.4 376.8 267.3 375.1 270.3C373.1 273.6 371.1 276.9 369.2 280.3C367.0 284.3 364.9 288.4 362.8 292.5C360.7 296.6 358.6 300.7 356.4 304.7C354.3 308.4 352.2 312.0 349.9 315.5C348.1 318.4 346.1 321.3 344.1 324.1C342.8 325.9 341.4 327.5 340.0 329.0C339.3 329.8 338.0 330.7 337.6 331.1C337.8 330.2 338.4 327.7 338.9 326.0C339.5 323.6 340.1 321.2 340.7 318.9C341.5 316.1 342.3 313.3 343.2 310.5C344.2 307.6 345.2 304.8 346.3 302.0C347.5 299.0 348.7 296.0 350.0 293.1C351.4 290.1 352.8 287.2 354.3 284.3C356.1 281.1 358.0 278.0 359.9 274.9C362.0 271.6 364.1 268.3 366.1 264.9C368.5 260.9 370.7 256.8 372.9 252.8C375.2 248.8 377.4 244.7 379.7 240.8C381.9 237.2 384.2 233.7 386.6 230.2C388.5 227.3 390.6 224.4 392.8 221.7C394.1 220.0 395.6 218.4 397.1 216.9C397.8 216.1 399.2 215.2 399.6 214.9C399.3 215.7 398.7 218.2 398.2 219.9C397.6 222.2 397.0 224.6 396.3 226.9C395.4 229.7 394.6 232.4 393.6 235.1C392.6 237.9 391.5 240.7 390.3 243.5C389.1 246.5 387.8 249.4 386.4 252.2C384.9 255.2 383.4 258.1 381.7 260.9C379.9 264.1 377.8 267.1 375.8 270.1C373.6 273.4 371.3 276.5 369.2 279.8C366.7 283.6 364.3 287.5 361.9 291.4C359.5 295.2 357.2 299.1 354.7 302.9C352.3 306.3 349.9 309.7 347.4 313.0C345.3 315.8 343.1 318.6 340.8 321.2C339.4 322.8 337.8 324.3 336.2 325.8C335.4 326.5 334.0 327.4 333.5 327.7C333.7 326.9 334.4 324.5 334.9 322.9C335.5 320.7 336.1 318.4 336.9 316.2C337.7 313.6 338.6 310.9 339.5 308.4C340.6 305.6 341.7 302.9 342.9 300.3C344.2 297.5 345.5 294.7 346.9 291.9C348.4 289.1 349.9 286.3 351.6 283.6C353.5 280.6 355.5 277.8 357.6 275.0C359.8 272.1 362.1 269.3 364.3 266.5C366.8 263.3 369.2 260.1 371.7 256.9C374.1 253.8 376.5 250.5 379.0 247.4C381.4 244.5 383.9 241.7 386.4 239.0C388.6 236.7 390.8 234.4 393.1 232.3C394.6 230.9 396.2 229.7 397.8 228.5C398.6 227.9 400.0 227.2 400.5 226.9C400.2 227.6 399.5 229.5 399.0 230.8C398.3 232.7 397.7 234.6 396.9 236.4C396.0 238.6 395.1 240.8 394.1 242.9C393.0 245.1 391.8 247.4 390.5 249.6C389.2 251.9 387.8 254.2 386.2 256.4C384.7 258.8 383.0 261.1 381.3 263.3C379.2 265.9 377.0 268.3 374.9 270.8C372.5 273.7 370.0 276.5 367.8 279.5C365.1 283.1 362.6 286.9 360.0 290.5C357.4 294.2 354.9 298.0 352.1 301.6C349.7 304.9 347.0 308.1 344.3 311.3C342.1 313.9 339.7 316.6 337.2 319.1C335.7 320.6 334.0 322.1 332.3 323.5C331.4 324.2 329.9 325.0 329.4 325.3C329.7 324.5 330.4 322.2 330.9 320.7C331.6 318.6 332.2 316.4 333.0 314.3C333.9 311.8 334.8 309.3 335.9 306.8C337.0 304.2 338.2 301.6 339.5 299.1C340.8 296.4 342.3 293.7 343.8 291.1C345.4 288.4 347.0 285.7 348.8 283.1C350.8 280.4 353.0 277.7 355.3 275.2C357.5 272.9 360.0 270.7 362.5 268.7C365.1 266.6 367.8 264.7 370.4 262.7C373.1 260.7 375.6 258.6 378.3 256.6C380.9 254.8 383.6 253.1 386.2 251.4C388.6 249.9 391.0 248.4 393.4 247.1C395.1 246.2 396.8 245.4 398.5 244.7C399.4 244.3 400.9 243.9 401.4 243.7C401.1 244.1 400.4 245.4 399.9 246.2C399.2 247.4 398.5 248.6 397.7 249.7C396.8 251.1 395.9 252.5 394.8 253.8C393.7 255.3 392.5 256.7 391.2 258.0C389.8 259.5 388.4 261.0 386.9 262.4C385.3 263.9 383.6 265.3 381.8 266.7C379.7 268.4 377.4 269.9 375.3 271.6C372.8 273.6 370.4 275.7 368.1 277.9C365.3 280.6 362.8 283.6 360.1 286.4C357.5 289.3 354.9 292.2 352.2 295.0C349.6 297.5 347.0 300.0 344.2 302.4C341.9 304.5 339.5 306.6 337.0 308.5C335.4 309.7 333.7 310.8 331.9 311.9C331.0 312.4 329.5 313.1 329.1 313.3C329.3 312.7 329.8 310.9 330.3 309.8C330.8 308.1 331.4 306.4 332.0 304.8C332.8 302.8 333.6 300.9 334.4 299.0C335.4 297.0 336.4 295.0 337.4 293.0C338.6 290.9 339.7 288.9 341.0 286.9C342.3 284.8 343.7 282.7 345.2 280.7C346.9 278.6 348.7 276.5 350.6 274.5C352.5 272.7 354.5 271.0 356.6 269.3C358.7 267.6 360.9 266.0 363.1 264.3C365.3 262.6 367.5 260.9 369.7 259.3C371.9 257.8 374.1 256.3 376.3 254.9C378.3 253.6 380.2 252.4 382.3 251.3C383.6 250.6 385.0 249.9 386.5 249.3C387.2 249.0 388.5 248.6 388.9 248.5"/>
<path class="p" d="M360.3 277.3C363.0 274.5 370.7 265.8 376.4 260.5C380.2 256.9 384.1 252.5 388.9 250.5C393.6 248.4 399.6 248.9 404.9 248.4C412.2 247.7 423.1 246.9 426.7 246.6C426.9 252.0 427.1 257.5 427.2 262.9C423.5 263.7 412.3 266.0 404.9 267.7C396.6 269.6 388.3 271.6 379.9 273.5C372.8 275.1 362.1 277.5 358.5 278.3"/>
<path class="p" d="M360.3 277.3C363.0 274.5 370.5 265.5 376.4 260.5C380.0 257.4 384.3 254.4 388.9 252.9C393.9 251.3 399.6 251.6 404.9 251.1C412.2 250.4 423.1 249.7 426.7 249.5C426.9 254.4 427.1 259.4 427.2 264.3C423.5 265.1 412.4 267.7 404.9 269.1C396.6 270.7 388.2 271.8 379.9 273.5C372.8 274.9 362.1 277.5 358.5 278.3"/>
<path class="p" d="M360.3 277.3C363.0 274.5 370.4 265.2 376.4 260.5C379.9 257.7 384.5 256.1 388.9 255.0C394.0 253.7 399.6 253.7 404.9 253.3C412.2 252.7 423.1 252.1 426.7 251.9C426.9 256.5 427.1 261.1 427.2 265.8C423.5 266.6 412.4 269.4 404.9 270.6C396.7 271.9 388.2 272.1 379.9 273.5C372.7 274.7 362.1 277.5 358.5 278.3"/>
<path class="p" d="M360.3 277.3C363.0 274.5 370.3 264.8 376.4 260.5C379.8 258.1 384.6 257.7 388.9 257.0C394.1 256.1 399.6 255.9 404.9 255.5C412.2 255.0 423.1 254.5 426.7 254.3C426.9 258.4 427.1 262.6 427.2 266.7C423.5 267.5 412.4 270.5 404.9 271.5C396.7 272.7 388.2 272.3 379.9 273.5C372.7 274.5 362.1 277.5 358.5 278.3"/>
<path class="p" d="M360.3 277.3C363.0 274.5 370.2 264.5 376.4 260.5C379.7 258.4 384.7 259.4 388.9 259.0C394.2 258.5 399.6 258.1 404.9 257.8C412.2 257.3 423.1 256.8 426.7 256.7C426.9 260.0 427.1 263.4 427.2 266.7C423.5 267.5 412.4 270.5 404.9 271.5C396.7 272.7 388.2 272.3 379.9 273.5C372.7 274.5 362.1 277.5 358.5 278.3"/>
<path class="p" d="M360.3 277.3C363.0 274.5 370.2 264.0 376.4 260.5C379.7 258.6 384.7 261.1 388.9 261.1C394.2 261.0 399.6 260.3 404.9 260.0C412.2 259.6 423.1 259.2 426.7 259.1C426.9 261.9 427.1 264.8 427.2 267.7C423.5 268.5 412.4 271.6 404.9 272.5C396.7 273.5 388.2 272.4 379.9 273.5C372.7 274.4 362.1 277.5 358.5 278.3"/>
<path class="p" d="M360.3 277.3C363.0 274.5 370.2 263.6 376.4 260.5C379.7 258.8 384.7 262.5 388.9 262.7C394.2 262.9 399.6 262.0 404.9 261.8C412.2 261.5 423.1 261.1 426.7 261.0C426.9 263.2 427.1 265.5 427.2 267.7C423.5 268.5 412.4 271.6 404.9 272.5C396.7 273.5 388.2 272.4 379.9 273.5C372.7 274.4 362.1 277.5 358.5 278.3"/>
<path class="p" d="M371.0 267.7C368.0 269.7 359.3 276.2 353.2 280.0C349.2 282.4 344.8 284.0 340.7 286.2C337.0 288.2 333.7 290.7 329.9 292.5C326.5 294.2 323.0 296.0 319.2 296.7C314.7 297.6 307.6 297.3 305.3 297.5C305.2 290.7 305.1 284.0 305.0 277.3C307.3 276.7 314.4 274.7 319.2 273.9C325.1 273.1 331.1 273.0 337.1 272.5C343.0 272.0 349.1 272.0 354.9 271.1C361.0 270.1 369.8 267.5 372.8 266.7"/>
<path class="p" d="M371.0 267.7C368.0 269.6 359.3 275.8 353.2 279.3C349.2 281.5 344.8 282.9 340.7 284.9C337.0 286.7 333.6 288.9 329.9 290.5C326.5 292.1 322.9 293.7 319.2 294.4C314.7 295.2 307.6 294.9 305.3 295.1C305.2 289.5 305.1 283.9 305.0 278.3C307.3 277.7 314.4 275.8 319.2 274.9C325.1 273.8 331.1 273.1 337.1 272.5C343.0 271.9 349.1 272.0 354.9 271.1C361.0 270.1 369.8 267.5 372.8 266.7"/>
<path class="p" d="M371.0 267.7C368.0 269.5 359.3 275.3 353.2 278.5C349.2 280.6 344.8 281.8 340.7 283.6C337.0 285.2 333.6 287.2 329.9 288.6C326.5 290.0 322.9 291.5 319.2 292.1C314.7 292.8 307.6 292.6 305.3 292.7C305.2 287.5 305.1 282.4 305.0 277.3C307.3 276.7 314.4 274.7 319.2 273.9C325.1 273.1 331.1 273.0 337.1 272.5C343.0 272.0 349.1 272.0 354.9 271.1C361.0 270.1 369.8 267.5 372.8 266.7"/>
<path class="p" d="M371.0 267.7C368.0 269.5 359.4 275.3 353.2 278.3C349.2 280.1 344.8 280.8 340.7 282.3C337.0 283.6 333.6 285.4 329.9 286.7C326.5 287.9 322.9 289.2 319.2 289.7C314.7 290.4 307.6 290.2 305.3 290.3C305.2 285.9 305.1 281.6 305.0 277.3C307.3 276.7 314.4 274.7 319.2 273.9C325.1 273.1 331.1 273.0 337.1 272.5C343.0 272.0 349.1 272.0 354.9 271.1C361.0 270.1 369.8 267.5 372.8 266.7"/>
<path class="p" d="M371.0 267.7C368.0 269.5 359.4 275.5 353.2 278.3C349.3 279.9 344.8 279.8 340.7 280.9C337.0 282.0 333.6 283.7 329.9 284.8C326.4 285.8 322.9 286.9 319.2 287.4C314.7 288.0 307.6 287.8 305.3 287.9C305.2 284.3 305.1 280.8 305.0 277.3C307.3 276.7 314.4 274.7 319.2 273.9C325.1 273.1 331.1 273.0 337.1 272.5C343.0 272.0 349.1 272.0 354.9 271.1C361.0 270.1 369.8 267.5 372.8 266.7"/>
<path class="p" d="M371.0 267.7C368.0 269.5 359.5 275.8 353.2 278.3C349.3 279.8 344.8 278.8 340.7 279.6C337.0 280.4 333.6 282.0 329.9 282.9C326.4 283.8 322.9 284.7 319.2 285.1C314.6 285.6 307.6 285.4 305.3 285.5C305.2 282.4 305.1 279.4 305.0 276.3C307.3 275.8 314.4 273.6 319.2 273.0C325.1 272.3 331.1 272.8 337.1 272.5C343.0 272.2 349.1 272.0 354.9 271.1C361.0 270.1 369.8 267.5 372.8 266.7"/>
<path class="p" d="M371.0 267.7C368.0 269.5 359.5 276.1 353.2 278.3C349.4 279.6 344.8 277.8 340.7 278.3C337.0 278.7 333.5 280.2 329.9 280.9C326.4 281.7 322.8 282.4 319.2 282.7C314.6 283.1 307.6 283.0 305.3 283.1C305.2 280.8 305.1 278.6 305.0 276.3C307.3 275.8 314.4 273.6 319.2 273.0C325.1 272.3 331.1 272.8 337.1 272.5C343.0 272.2 349.1 272.0 354.9 271.1C361.0 270.1 369.8 267.5 372.8 266.7"/>
<path class="p" d="M371.0 267.7C368.0 269.5 359.5 276.3 353.2 278.3C349.3 279.4 344.8 276.9 340.7 277.0C337.1 277.1 333.5 278.5 329.9 279.0C326.4 279.6 322.8 280.2 319.2 280.4C314.6 280.7 307.6 280.6 305.3 280.7C305.2 279.1 305.1 277.5 305.0 275.9C307.3 275.3 314.4 273.0 319.2 272.5C325.1 271.9 331.1 272.7 337.1 272.5C343.0 272.3 349.1 272.0 354.9 271.1C361.0 270.1 369.8 267.5 372.8 266.7"/>
<path class="ax" d="M276.4 200V344.5H455.4"/>
<path class="tk" d="M276.4 344.5v2.2M285.32 344.5v1.3M294.25 344.5v2.2M303.17 344.5v1.3M312.1 344.5v2.2M321.02 344.5v1.3M329.95 344.5v2.2M338.88 344.5v1.3M347.8 344.5v2.2M356.72 344.5v1.3M365.65 344.5v2.2M374.57 344.5v1.3M383.5 344.5v2.2M392.42 344.5v1.3M401.35 344.5v2.2M410.27 344.5v1.3M419.2 344.5v2.2M428.12 344.5v1.3M437.05 344.5v2.2M445.98 344.5v1.3M454.9 344.5v2.2M276.4 344.5h-2.4M276.4 332.5h-1.3M276.4 320.5h-2.4M276.4 308.5h-1.3M276.4 296.5h-2.4M276.4 284.5h-1.3M276.4 272.5h-2.4M276.4 260.5h-1.3M276.4 248.5h-2.4M276.4 236.5h-1.3M276.4 224.5h-2.4M276.4 212.5h-1.3M276.4 200.5h-2.4"/>
<text class="tl" x="276.4" y="353.8" text-anchor="middle">-5</text>
<text class="tl" x="294.25" y="353.8" text-anchor="middle">-4</text>
<text class="tl" x="312.1" y="353.8" text-anchor="middle">-3</text>
<text class="tl" x="329.95" y="353.8" text-anchor="middle">-2</text>
<text class="tl" x="347.8" y="353.8" text-anchor="middle">-1</text>
<text class="tl" x="365.65" y="353.8" text-anchor="middle">0</text>
<text class="tl" x="383.5" y="353.8" text-anchor="middle">1</text>
<text class="tl" x="401.35" y="353.8" text-anchor="middle">2</text>
<text class="tl" x="419.2" y="353.8" text-anchor="middle">3</text>
<text class="tl" x="437.05" y="353.8" text-anchor="middle">4</text>
<text class="tl" x="454.9" y="353.8" text-anchor="middle">5</text>
<text class="tl" x="272.1" y="346.7" text-anchor="end">-1.5</text>
<text class="tl" x="272.1" y="322.7" text-anchor="end">-1.0</text>
<text class="tl" x="272.1" y="298.7" text-anchor="end">-0.5</text>
<text class="tl" x="272.1" y="274.7" text-anchor="end">0.0</text>
<text class="tl" x="272.1" y="250.7" text-anchor="end">0.5</text>
<text class="tl" x="272.1" y="226.7" text-anchor="end">1.0</text>
<text class="tl" x="272.1" y="202.7" text-anchor="end">1.5</text>
<text class="at" x="365.65" y="366.1" text-anchor="middle">Displacement Ductility Demand</text>
<text class="at" transform="translate(253.5 267) rotate(-90)" text-anchor="middle">Normalized Inelastic Restoring Force</text>
<text class="ti" x="365.8" y="201.7" text-anchor="middle">S14</text>
<rect class="lg" x="280.8" y="202.2" width="55.3" height="18.9"/>
<path class="e le" d="M281.5 207.2h17.4"/>
<path class="p le" d="M281.5 216.4h17.4"/>
<text class="lt" x="301.1" y="209.7">Experiment</text>
<text class="lt" x="301.1" y="218.9">Prediction</text>
</g>
<g>
<path class="e" d="M121.0 450.8C122.0 448.9 124.6 443.1 126.7 439.5C128.3 436.6 131.4 432.7 132.3 431.4C132.3 431.6 132.1 432.3 131.9 432.7C131.7 433.4 131.5 434.0 131.3 434.6C131.1 435.4 130.8 436.2 130.5 437.0C130.2 437.8 129.8 438.7 129.5 439.5C129.1 440.4 128.7 441.3 128.3 442.2C127.8 443.1 127.3 444.0 126.8 444.9C126.3 446.0 125.6 447.0 125.0 448.0C124.3 449.2 123.7 450.4 123.0 451.6C122.3 452.9 121.5 454.1 120.8 455.3C120.0 456.6 119.3 457.8 118.5 459.1C117.8 460.2 117.1 461.3 116.3 462.5C115.6 463.4 115.0 464.4 114.3 465.3C113.8 465.9 113.3 466.5 112.8 467.0C112.6 467.3 112.2 467.6 112.0 467.7C112.1 467.5 112.4 466.9 112.6 466.5C112.8 465.8 113.1 465.2 113.4 464.6C113.7 463.9 114.1 463.2 114.5 462.5C114.9 461.7 115.3 460.9 115.8 460.2C116.3 459.4 116.9 458.6 117.4 457.8C118.0 456.9 118.7 456.1 119.3 455.3C120.1 454.4 121.0 453.5 121.8 452.5C122.7 451.3 123.7 450.0 124.5 448.6C125.6 446.5 126.5 444.4 127.5 442.3C128.5 440.2 129.4 438.0 130.4 436.0C131.4 434.0 132.4 432.2 133.4 430.3C134.3 428.7 135.2 427.1 136.1 425.5C136.7 424.6 137.3 423.6 138.0 422.8C138.3 422.4 138.9 421.8 139.1 421.6C139.0 422.0 138.7 423.1 138.5 423.8C138.2 424.9 137.9 425.9 137.5 426.9C137.1 428.2 136.7 429.4 136.3 430.6C135.8 431.9 135.2 433.3 134.7 434.6C134.1 436.0 133.5 437.4 132.8 438.7C132.1 440.1 131.4 441.5 130.6 442.9C129.7 444.5 128.7 446.0 127.7 447.5C126.7 449.2 125.6 450.9 124.6 452.6C123.4 454.3 122.3 456.1 121.1 457.8C119.9 459.6 118.8 461.4 117.6 463.1C116.5 464.7 115.3 466.3 114.1 467.8C113.1 469.1 112.1 470.5 111.0 471.8C110.3 472.6 109.6 473.3 108.8 474.1C108.4 474.4 107.7 474.8 107.5 475.0C107.6 474.7 108.0 473.6 108.3 472.9C108.7 472.0 109.1 471.0 109.5 470.0C110.1 468.9 110.6 467.7 111.2 466.6C111.8 465.4 112.5 464.3 113.2 463.1C114.0 461.9 114.8 460.7 115.6 459.5C116.5 458.2 117.5 457.0 118.5 455.8C119.7 454.4 121.0 453.1 122.1 451.6C123.6 449.7 125.0 447.7 126.2 445.6C127.8 442.8 129.2 439.8 130.7 436.9C132.2 434.1 133.6 431.1 135.1 428.3C136.5 425.7 138.0 423.2 139.6 420.7C140.9 418.6 142.2 416.5 143.7 414.5C144.5 413.2 145.5 412.1 146.5 411.0C147.0 410.4 147.9 409.8 148.1 409.5C148.0 410.1 147.5 411.9 147.1 413.0C146.6 414.7 146.2 416.3 145.6 418.0C145.0 419.9 144.4 421.8 143.7 423.7C142.9 425.8 142.1 427.8 141.2 429.7C140.2 431.8 139.3 433.9 138.2 435.9C137.1 438.0 136.0 440.1 134.7 442.1C133.3 444.3 131.8 446.5 130.3 448.6C128.6 451.0 126.9 453.3 125.3 455.6C123.4 458.3 121.7 461.0 119.8 463.7C118.0 466.5 116.3 469.2 114.4 471.9C112.6 474.3 110.8 476.7 108.9 479.1C107.3 481.1 105.7 483.0 103.9 484.9C102.9 486.1 101.7 487.2 100.5 488.2C99.9 488.7 98.8 489.3 98.5 489.6C98.7 488.9 99.2 487.1 99.7 485.9C100.2 484.2 100.8 482.4 101.4 480.7C102.1 478.7 102.9 476.8 103.7 474.8C104.6 472.8 105.6 470.8 106.6 468.8C107.7 466.8 108.9 464.7 110.1 462.8C111.4 460.7 112.8 458.6 114.2 456.7C115.9 454.4 117.8 452.3 119.4 450.1C121.4 447.4 123.4 444.7 125.3 441.9C127.5 438.5 129.5 434.9 131.7 431.5C133.8 428.0 135.8 424.4 138.1 421.0C140.1 418.0 142.2 415.0 144.5 412.0C146.3 409.6 148.3 407.2 150.3 405.0C151.6 403.6 153.0 402.3 154.4 401.1C155.1 400.5 156.3 399.8 156.7 399.5C156.5 400.3 155.8 402.7 155.3 404.3C154.6 406.6 154.0 408.9 153.2 411.1C152.4 413.8 151.5 416.4 150.5 419.0C149.4 421.6 148.2 424.3 147.0 426.9C145.7 429.6 144.3 432.3 142.8 434.9C141.3 437.6 139.8 440.3 138.0 442.9C136.1 445.7 133.9 448.4 131.8 451.1C129.5 454.0 127.1 456.7 124.8 459.5C122.2 462.9 119.8 466.4 117.2 469.9C114.7 473.4 112.3 476.9 109.6 480.3C107.2 483.3 104.6 486.3 102.0 489.2C99.8 491.6 97.5 494.0 95.1 496.2C93.5 497.6 91.9 498.9 90.2 500.1C89.3 500.7 87.9 501.4 87.4 501.7C87.7 500.8 88.4 498.3 88.9 496.6C89.7 494.2 90.4 491.8 91.2 489.5C92.1 486.7 93.1 484.0 94.2 481.3C95.3 478.5 96.6 475.8 98.0 473.2C99.4 470.4 100.9 467.7 102.5 465.0C104.1 462.2 105.8 459.5 107.7 456.9C109.8 454.0 112.2 451.3 114.5 448.6C116.9 445.7 119.6 443.0 122.0 440.1C124.8 436.6 127.5 433.0 130.3 429.5C133.0 425.9 135.6 422.3 138.5 418.8C141.1 415.7 143.9 412.7 146.8 409.8C149.2 407.4 151.7 405.0 154.3 402.9C155.9 401.5 157.8 400.3 159.6 399.1C160.5 398.5 162.1 397.8 162.6 397.5C162.3 398.4 161.4 401.1 160.7 402.9C159.8 405.4 159.0 407.9 158.0 410.3C156.8 413.2 155.7 416.0 154.3 418.8C152.9 421.7 151.4 424.6 149.8 427.3C148.1 430.2 146.2 433.1 144.3 435.9C142.2 438.8 140.2 441.7 137.9 444.4C135.3 447.4 132.5 450.1 129.7 452.9C126.7 455.9 123.5 458.6 120.5 461.6C117.1 465.1 113.8 468.8 110.5 472.4C107.1 476.1 103.9 479.8 100.4 483.3C97.2 486.5 93.8 489.6 90.3 492.5C87.4 495.0 84.3 497.4 81.2 499.6C79.2 501.0 77.0 502.2 74.8 503.3C73.6 504.0 71.8 504.7 71.1 505.0C71.9 502.4 73.8 494.5 75.9 489.6C78.4 483.7 81.4 477.8 85.0 472.6C88.9 466.8 93.5 461.5 98.5 456.6C103.3 451.8 109.0 447.9 114.3 443.5C118.1 440.3 122.1 437.3 125.6 433.8C130.4 428.8 134.6 423.0 139.3 417.8C144.4 412.2 149.2 406.2 154.9 401.3C158.9 397.8 163.7 393.9 168.5 392.7C171.5 392.0 175.5 393.8 178.3 395.6C181.1 397.4 183.5 400.5 185.1 403.4C186.7 406.3 187.7 409.8 188.0 413.1C188.4 416.9 187.8 421.0 187.1 424.8C186.5 427.5 185.8 430.5 184.1 432.6C181.5 435.7 177.7 438.0 174.3 440.4C169.3 443.8 164.0 446.8 158.8 449.8C152.3 453.5 145.5 456.7 139.1 460.4C129.9 465.9 121.1 471.8 112.0 477.4C103.0 483.1 93.9 488.7 85.0 494.4C77.1 499.4 65.4 506.9 61.5 509.4C61.7 506.9 61.0 498.9 62.5 494.1C64.2 488.7 67.4 483.2 71.1 478.9C76.4 472.8 82.9 467.6 89.5 462.9C96.5 457.9 104.2 453.6 112.0 449.8C120.8 445.5 130.1 442.4 139.1 438.6C148.9 434.5 158.4 429.3 168.4 425.8C172.8 424.3 177.7 423.9 182.2 423.8C184.0 423.8 186.5 425.2 187.4 425.5C187.2 426.5 187.3 429.9 186.0 431.4C183.2 434.7 179.2 437.9 175.2 440.1C168.1 444.0 160.3 447.0 152.6 449.8C143.8 453.0 134.7 455.6 125.6 458.0C115.1 460.8 104.5 462.7 94.0 465.3C84.9 467.5 76.0 470.5 66.9 472.6C57.9 474.7 44.2 477.0 39.7 477.9"/>
<path class="e" d="M39.7 477.9L39.7 483.2L82.0 483.2"/>
<path class="e" d="M82.0 483.2C84.8 481.2 93.1 475.3 98.5 471.1C104.6 466.4 110.2 460.9 116.5 456.6C123.7 451.7 131.4 447.4 139.1 443.5C147.9 439.0 156.9 434.8 166.2 431.4C171.2 429.5 176.8 428.0 182.0 427.5C183.7 427.3 186.1 429.1 186.9 429.4C186.3 430.5 185.3 434.7 183.3 436.2C178.4 439.9 172.1 442.4 166.2 444.9C158.8 448.1 151.3 450.8 143.6 453.2C131.7 456.8 119.6 459.7 107.5 462.9C97.0 465.7 86.5 468.5 75.9 471.1C68.4 473.0 60.9 474.6 53.4 476.5C49.1 477.5 42.8 479.3 40.7 479.9C41.0 478.6 40.7 474.4 42.1 472.6C44.3 469.8 48.2 467.9 51.6 466.0C58.6 462.0 65.7 457.9 73.2 455.1C82.3 451.8 92.0 449.9 101.4 447.6C112.4 444.9 123.6 443.0 134.6 440.1C145.2 437.3 155.6 433.3 166.2 430.4C172.1 428.8 181.2 427.1 184.2 426.5C183.7 427.9 183.2 432.9 181.1 434.7C175.7 439.4 168.5 443.1 161.7 445.9C151.5 450.0 140.7 452.7 130.1 455.6C118.1 458.9 106.0 461.3 94.0 464.3C83.4 467.0 72.9 469.8 62.4 472.6C56.4 474.2 47.3 476.6 44.3 477.4C44.9 476.2 45.9 471.8 47.9 470.1C52.0 466.9 57.4 464.9 62.4 462.9C71.2 459.3 80.3 455.8 89.5 453.2C99.8 450.2 110.6 448.5 121.0 445.9C130.1 443.7 143.6 439.8 148.1 438.6"/>
<path class="p" d="M121.0 450.8C122.2 448.2 125.3 440.3 127.8 435.3C129.8 431.4 133.5 425.9 134.6 424.1C134.5 424.4 134.2 425.3 134.0 425.9C133.8 426.8 133.5 427.7 133.2 428.6C132.9 429.7 132.5 430.8 132.2 431.8C131.7 433.0 131.3 434.1 130.8 435.3C130.3 436.5 129.8 437.8 129.2 439.0C128.6 440.3 127.9 441.5 127.3 442.7C126.5 444.2 125.6 445.6 124.8 447.0C123.9 448.7 123.0 450.3 122.1 452.0C121.1 453.7 120.1 455.5 119.2 457.3C118.2 459.1 117.2 460.9 116.2 462.6C115.2 464.3 114.2 465.9 113.2 467.5C112.3 468.9 111.4 470.3 110.5 471.6C109.9 472.4 109.3 473.3 108.6 474.0C108.3 474.4 107.7 474.8 107.5 475.0C107.6 474.7 108.0 473.7 108.2 473.1C108.6 472.2 108.9 471.3 109.3 470.4C109.8 469.3 110.2 468.2 110.8 467.2C111.3 466.0 111.9 464.9 112.6 463.8C113.3 462.6 114.0 461.4 114.7 460.3C115.5 459.0 116.4 457.9 117.3 456.7C118.3 455.3 119.5 454.0 120.5 452.6C121.8 450.7 123.1 448.7 124.1 446.6C125.6 443.6 126.8 440.4 128.1 437.3C129.4 434.1 130.7 431.0 132.1 427.9C133.3 425.1 134.7 422.3 136.0 419.6C137.2 417.3 138.4 414.9 139.6 412.7C140.4 411.3 141.3 410.0 142.2 408.7C142.6 408.1 143.4 407.4 143.6 407.1C143.5 407.7 143.0 409.4 142.7 410.5C142.3 412.2 141.8 413.8 141.4 415.4C140.8 417.4 140.2 419.3 139.6 421.2C138.9 423.2 138.1 425.3 137.3 427.3C136.4 429.4 135.6 431.5 134.6 433.6C133.6 435.8 132.6 437.9 131.4 440.0C130.2 442.4 128.7 444.6 127.4 447.0C125.9 449.5 124.3 452.1 122.9 454.7C121.2 457.6 119.5 460.5 117.9 463.5C116.2 466.4 114.7 469.4 112.9 472.3C111.3 475.0 109.7 477.6 108.0 480.2C106.5 482.4 105.0 484.6 103.5 486.7C102.5 488.0 101.4 489.3 100.3 490.4C99.8 491.0 98.8 491.7 98.5 492.0C98.7 491.4 99.2 489.6 99.6 488.4C100.1 486.7 100.6 485.0 101.2 483.3C101.8 481.3 102.5 479.3 103.3 477.4C104.1 475.3 105.0 473.3 106.0 471.3C107.0 469.2 108.0 467.1 109.2 465.1C110.4 463.0 111.6 460.9 112.9 458.8C114.5 456.5 116.2 454.3 117.7 451.9C119.6 449.0 121.4 446.1 123.1 443.1C125.2 439.2 127.0 435.3 129.0 431.4C130.9 427.5 132.8 423.5 134.8 419.7C136.7 416.2 138.7 412.8 140.7 409.4C142.4 406.6 144.2 403.8 146.1 401.2C147.2 399.5 148.5 398.0 149.8 396.5C150.5 395.8 151.6 394.9 152.0 394.6C151.7 395.4 151.1 397.9 150.7 399.6C150.1 401.9 149.5 404.3 148.8 406.6C148.0 409.3 147.2 412.1 146.3 414.8C145.3 417.6 144.2 420.4 143.1 423.1C141.9 426.0 140.6 428.9 139.3 431.7C137.9 434.6 136.5 437.5 134.8 440.3C133.1 443.3 131.1 446.3 129.1 449.2C127.1 452.4 124.8 455.5 122.8 458.7C120.4 462.5 118.1 466.4 115.8 470.2C113.5 474.0 111.3 477.9 108.8 481.7C106.6 485.1 104.3 488.4 101.9 491.7C99.9 494.4 97.8 497.1 95.5 499.7C94.2 501.3 92.6 502.8 91.1 504.2C90.3 504.9 89.0 505.7 88.6 506.0C88.8 505.2 89.5 502.5 90.0 500.8C90.7 498.3 91.3 495.9 92.1 493.4C93.0 490.6 93.9 487.8 94.9 485.0C96.0 482.1 97.2 479.2 98.5 476.4C99.8 473.5 101.2 470.6 102.7 467.8C104.3 464.8 105.9 461.9 107.7 459.1C109.7 456.1 111.9 453.1 114.1 450.2C116.4 447.0 118.9 443.9 121.1 440.6C123.8 436.8 126.3 432.7 128.9 428.8C131.5 424.8 134.0 420.8 136.7 417.0C139.2 413.5 141.8 410.1 144.5 406.8C146.8 404.0 149.1 401.3 151.6 398.8C153.2 397.2 154.9 395.8 156.6 394.4C157.5 393.7 158.9 392.9 159.4 392.5C159.1 393.5 158.4 396.3 157.8 398.2C157.1 400.8 156.3 403.5 155.5 406.1C154.5 409.2 153.5 412.2 152.3 415.2C151.1 418.3 149.8 421.3 148.4 424.3C146.9 427.4 145.3 430.5 143.6 433.5C141.9 436.6 140.1 439.8 138.1 442.7C135.9 445.9 133.4 449.0 131.0 452.0C128.4 455.2 125.6 458.3 123.1 461.5C120.1 465.4 117.3 469.4 114.4 473.3C111.5 477.2 108.7 481.2 105.7 485.0C102.9 488.5 100.0 491.9 97.0 495.1C94.5 497.8 91.9 500.4 89.1 502.9C87.4 504.4 85.5 505.8 83.6 507.1C82.6 507.8 81.0 508.6 80.4 508.9C80.7 508.0 81.6 505.2 82.2 503.3C83.1 500.7 83.9 498.0 84.8 495.4C85.9 492.3 87.1 489.3 88.4 486.3C89.7 483.2 91.2 480.2 92.8 477.2C94.4 474.0 96.2 471.0 98.0 468.0C100.0 464.8 102.0 461.7 104.2 458.8C106.7 455.5 109.5 452.5 112.1 449.3C115.0 446.0 118.1 442.7 120.9 439.3C124.3 435.2 127.4 430.9 130.6 426.8C133.8 422.6 136.9 418.3 140.3 414.2C143.4 410.5 146.6 407.0 150.0 403.5C152.8 400.6 155.7 397.8 158.8 395.2C160.7 393.6 162.8 392.1 165.0 390.7C166.1 389.9 167.9 389.1 168.5 388.8C168.2 389.8 167.2 392.8 166.5 394.8C165.6 397.6 164.7 400.4 163.6 403.2C162.4 406.5 161.1 409.7 159.7 412.9C158.2 416.2 156.6 419.4 154.8 422.6C153.0 425.9 151.1 429.2 149.0 432.4C146.9 435.7 144.7 439.1 142.2 442.2C139.5 445.6 136.4 448.9 133.4 452.1C130.3 455.5 126.8 458.7 123.7 462.2C120.0 466.2 116.6 470.5 113.0 474.7C109.4 478.8 106.0 483.1 102.3 487.1C98.9 490.8 95.3 494.4 91.6 497.8C88.5 500.7 85.2 503.5 81.8 506.1C79.7 507.8 77.4 509.2 75.0 510.6C73.8 511.4 71.8 512.2 71.1 512.5C71.5 511.5 72.5 508.5 73.2 506.5C74.2 503.7 75.2 500.9 76.3 498.1C77.7 494.9 79.0 491.7 80.5 488.5C82.1 485.2 83.9 482.0 85.7 478.8C87.7 475.5 89.8 472.2 92.0 469.0C94.3 465.7 96.6 462.4 99.2 459.3C102.2 455.9 105.4 452.7 108.6 449.6C111.9 446.4 115.6 443.6 119.0 440.4C122.9 436.8 126.6 432.9 130.5 429.2C134.3 425.4 138.0 421.5 141.9 417.9C145.6 414.5 149.4 411.3 153.3 408.2C156.7 405.6 160.2 403.1 163.8 400.8C166.1 399.3 168.6 398.0 171.0 396.7C172.4 396.0 174.5 395.3 175.2 395.0C174.8 395.9 173.7 398.6 172.9 400.4C171.7 402.9 170.6 405.5 169.3 408.0C167.9 410.9 166.3 413.9 164.6 416.7C162.8 419.7 160.9 422.6 158.8 425.4C156.6 428.5 154.2 431.4 151.7 434.2C149.1 437.3 146.4 440.3 143.5 443.1C140.2 446.2 136.5 449.1 133.0 452.0C129.1 455.2 125.0 458.1 121.2 461.3C116.8 465.1 112.6 469.0 108.3 472.9C104.0 476.8 99.9 480.8 95.4 484.5C91.3 487.9 86.9 491.2 82.5 494.4C78.7 497.1 74.8 499.6 70.8 502.0C68.1 503.6 65.4 504.9 62.6 506.2C61.1 506.9 58.7 507.7 57.9 508.0C58.3 507.1 59.6 504.3 60.5 502.4C61.7 499.8 63.0 497.2 64.3 494.6C66.0 491.6 67.6 488.6 69.5 485.7C71.5 482.6 73.7 479.6 76.0 476.7C78.4 473.6 81.0 470.6 83.7 467.7C86.6 464.6 89.5 461.4 92.8 458.6C96.4 455.5 100.4 452.5 104.4 449.7C108.6 446.8 113.1 444.3 117.3 441.4C122.1 438.2 126.8 434.7 131.5 431.3C136.3 427.9 140.9 424.3 145.7 421.1C150.4 418.1 155.1 415.2 159.9 412.4C164.2 410.0 168.5 407.8 172.9 405.7C175.8 404.3 178.8 403.1 181.9 402.0C183.6 401.4 186.2 400.7 187.1 400.5C186.6 401.3 185.1 403.7 184.1 405.3C182.7 407.6 181.3 410.0 179.8 412.2C177.9 414.8 176.0 417.5 173.9 420.0C171.6 422.8 169.1 425.4 166.6 427.9C163.8 430.7 160.8 433.3 157.8 435.9C154.5 438.6 151.1 441.4 147.6 443.8C143.3 446.7 138.9 449.3 134.4 451.9C129.6 454.7 124.6 457.3 119.8 460.2C114.3 463.5 109.1 467.0 103.7 470.5C98.3 473.9 93.1 477.5 87.6 480.7C82.4 483.9 77.0 486.8 71.5 489.6C66.7 492.0 61.9 494.3 56.9 496.4C53.6 497.8 50.1 499.0 46.7 500.1C44.8 500.7 41.8 501.4 40.8 501.7C41.3 500.9 42.7 498.4 43.7 496.7C45.2 494.4 46.6 492.1 48.1 489.8C50.0 487.1 51.9 484.4 54.0 481.9C56.3 479.1 58.7 476.4 61.3 473.9C64.1 471.1 67.0 468.4 70.1 465.8C73.4 463.0 76.7 460.2 80.3 457.8C84.5 455.0 88.9 452.4 93.5 450.2C98.2 447.9 103.2 446.3 108.1 444.3C113.5 442.0 118.8 439.6 124.2 437.2C129.5 434.9 134.8 432.4 140.3 430.2C145.6 428.0 150.9 426.0 156.4 424.1C161.2 422.5 166.1 420.9 171.0 419.5C174.4 418.5 177.8 417.7 181.2 416.9C183.2 416.5 186.1 416.0 187.1 415.8C186.6 416.4 185.2 418.1 184.2 419.2C182.7 420.8 181.3 422.4 179.8 424.0C177.9 425.8 176.0 427.7 174.0 429.4C171.7 431.4 169.3 433.2 166.8 434.9C163.9 436.8 161.0 438.7 158.1 440.4C154.7 442.4 151.4 444.3 147.9 445.9C143.7 448.0 139.2 449.8 134.9 451.7C130.0 453.8 125.2 455.7 120.4 457.9C115.0 460.4 109.7 463.2 104.4 465.8C99.1 468.4 93.9 471.1 88.5 473.6C83.2 476.0 77.9 478.2 72.5 480.3C67.7 482.2 62.9 483.9 58.0 485.5C54.7 486.6 51.3 487.5 47.9 488.3C46.0 488.8 43.0 489.3 42.1 489.6C42.6 488.9 44.0 487.0 45.0 485.8C46.4 484.0 47.8 482.2 49.3 480.5C51.2 478.4 53.1 476.4 55.1 474.5C57.4 472.3 59.9 470.3 62.4 468.4C65.2 466.2 68.1 464.2 71.1 462.2C74.4 460.1 77.7 457.9 81.2 456.1C85.4 453.9 89.8 452.0 94.3 450.4C99.0 448.6 104.0 447.5 108.8 446.0C114.1 444.3 119.4 442.5 124.7 440.8C130.0 439.1 135.3 437.2 140.7 435.6C146.0 434.0 151.3 432.5 156.6 431.2C161.4 429.9 166.3 428.8 171.1 427.7C174.5 427.0 177.9 426.4 181.3 425.8C183.2 425.5 186.1 425.2 187.1 425.0C186.6 425.5 185.2 426.7 184.2 427.5C182.8 428.7 181.4 429.9 179.9 431.0C178.1 432.4 176.2 433.8 174.2 435.0C171.9 436.5 169.5 437.8 167.1 439.1C164.3 440.5 161.4 441.9 158.5 443.1C155.2 444.6 151.9 446.0 148.5 447.2C144.3 448.7 140.0 450.0 135.7 451.4C130.9 453.0 126.1 454.5 121.4 456.1C116.1 458.0 110.9 460.1 105.7 462.0C100.5 464.0 95.3 466.1 90.0 467.9C84.8 469.7 79.6 471.4 74.3 472.9C69.6 474.3 64.8 475.6 60.0 476.8C56.7 477.6 53.4 478.3 50.0 478.9C48.2 479.3 45.3 479.7 44.3 479.9C44.8 479.4 46.1 477.9 47.0 477.0C48.4 475.7 49.7 474.3 51.1 473.1C52.9 471.5 54.6 469.9 56.5 468.5C58.7 466.9 61.0 465.4 63.3 464.0C65.9 462.3 68.7 460.8 71.4 459.4C74.5 457.7 77.7 456.1 80.9 454.8C84.9 453.1 89.0 451.6 93.1 450.3C97.5 448.8 102.1 447.7 106.6 446.3C111.6 444.7 116.5 443.0 121.5 441.4C126.5 439.7 131.4 438.0 136.4 436.5C141.3 435.0 146.3 433.6 151.3 432.3C155.8 431.1 160.3 430.0 164.8 429.0C168.0 428.3 171.1 427.8 174.3 427.3C176.1 426.9 178.8 426.6 179.7 426.5C179.2 426.9 177.9 428.1 176.9 428.9C175.6 430.0 174.2 431.1 172.8 432.2C171.0 433.5 169.1 434.8 167.2 435.9C165.0 437.3 162.6 438.6 160.3 439.7C157.5 441.1 154.7 442.4 151.9 443.6C148.7 444.9 145.5 446.3 142.2 447.4C138.1 448.8 133.9 450.0 129.7 451.0C125.1 452.2 120.4 452.9 115.8 454.0C110.7 455.1 105.6 456.3 100.5 457.5C95.4 458.6 90.4 459.9 85.3 461.0C80.2 462.1 75.1 463.0 70.0 464.0C65.4 464.8 60.7 465.6 56.1 466.3C52.9 466.8 49.6 467.2 46.4 467.6C44.5 467.8 41.7 468.0 40.8 468.1C41.2 467.8 42.2 467.0 43.0 466.4C44.0 465.6 45.1 464.8 46.2 464.1C47.6 463.1 49.0 462.2 50.5 461.4C52.2 460.4 54.0 459.5 55.8 458.6C58.0 457.7 60.1 456.7 62.3 455.9C64.8 454.9 67.2 453.9 69.8 453.1C73.0 452.2 76.2 451.3 79.4 450.6C83.0 449.9 86.6 449.5 90.2 449.0C94.1 448.3 98.0 447.6 102.0 447.0C105.9 446.3 109.8 445.6 113.8 445.0C117.7 444.4 121.7 443.9 125.6 443.4C129.2 442.9 132.7 442.5 136.3 442.1C138.8 441.8 141.3 441.6 143.8 441.4C145.3 441.2 147.4 441.1 148.1 441.1"/>
<path class="ax" d="M30.8 377.5V523.5H211.8"/>
<path class="tk" d="M30.8 523.5v2.2M53.36 523.5v1.3M75.92 523.5v2.2M98.49 523.5v1.3M121.05 523.5v2.2M143.61 523.5v1.3M166.18 523.5v2.2M188.74 523.5v1.3M211.3 523.5v2.2M30.8 523.5h-2.4M30.8 511.38h-1.3M30.8 499.25h-2.4M30.8 487.12h-1.3M30.8 475h-2.4M30.8 462.88h-1.3M30.8 450.75h-2.4M30.8 438.62h-1.3M30.8 426.5h-2.4M30.8 414.38h-1.3M30.8 402.25h-2.4M30.8 390.12h-1.3M30.8 378h-2.4"/>
<text class="tl" x="30.8" y="532.8" text-anchor="middle">-2</text>
<text class="tl" x="75.92" y="532.8" text-anchor="middle">-1</text>
<text class="tl" x="121.05" y="532.8" text-anchor="middle">0</text>
<text class="tl" x="166.18" y="532.8" text-anchor="middle">1</text>
<text class="tl" x="211.3" y="532.8" text-anchor="middle">2</text>
<text class="tl" x="26.5" y="525.7" text-anchor="end">-1.5</text>
<text class="tl" x="26.5" y="501.45" text-anchor="end">-1.0</text>
<text class="tl" x="26.5" y="477.2" text-anchor="end">-0.5</text>
<text class="tl" x="26.5" y="452.95" text-anchor="end">0.0</text>
<text class="tl" x="26.5" y="428.7" text-anchor="end">0.5</text>
<text class="tl" x="26.5" y="404.45" text-anchor="end">1.0</text>
<text class="tl" x="26.5" y="380.2" text-anchor="end">1.5</text>
<text class="at" x="121.05" y="545.1" text-anchor="middle">Displacement Ductility Demand</text>
<text class="at" transform="translate(8.2 444.5) rotate(-90)" text-anchor="middle">Normalized Inelastic Restoring Force</text>
<text class="ti" x="121.5" y="378.9" text-anchor="middle">S15</text>
<rect class="lg" x="35.7" y="379.9" width="55.4" height="18.9"/>
<path class="e le" d="M36.4 384.9h17.4"/>
<path class="p le" d="M36.4 394.1h17.4"/>
<text class="lt" x="56" y="387.4">Experiment</text>
<text class="lt" x="56" y="396.6">Prediction</text>
</g>
<g>
<path class="e" d="M365.7 450.6C366.3 446.6 367.7 434.7 369.1 426.8C370.0 421.5 371.4 415.1 372.4 411.0C372.6 410.5 372.7 412.3 372.7 413.0C372.8 414.4 372.8 415.9 372.8 417.3C372.7 419.2 372.7 423.1 372.6 422.9C372.4 422.7 372.3 416.1 372.1 416.1C371.9 416.2 371.8 421.0 371.6 423.4C371.4 425.2 371.1 426.9 370.8 428.6C370.4 431.2 370.1 433.8 369.6 436.4C369.1 439.2 368.6 442.1 367.9 444.9C367.3 447.6 366.5 450.2 365.9 452.9C365.1 456.5 364.4 460.2 363.8 463.9C363.1 467.6 362.6 471.2 362.0 474.8C361.6 477.0 361.2 479.1 360.7 481.2C360.4 482.5 360.1 483.7 359.8 485.0C359.6 485.9 359.4 487.4 359.2 487.6C359.0 487.7 358.7 486.3 358.7 485.7C358.5 484.4 358.5 483.0 358.5 481.6C358.6 479.9 358.7 476.3 358.9 476.5C359.1 476.7 359.5 482.8 359.7 482.8C360.0 482.7 360.1 478.2 360.5 476.0C360.8 474.3 361.3 472.7 361.7 471.1C362.3 468.7 362.8 466.3 363.5 463.9C364.3 461.2 365.2 458.5 366.1 455.9C367.1 452.9 368.5 450.0 369.3 446.9C370.7 441.0 371.5 435.0 372.5 429.0C373.5 423.1 374.2 417.2 375.2 411.3C375.8 407.9 376.5 404.5 377.2 401.0C377.6 399.0 378.1 396.9 378.5 394.8C378.8 393.4 379.2 390.9 379.5 390.7C379.7 390.5 379.9 392.7 380.0 393.7C380.2 395.9 380.2 398.1 380.1 400.3C380.1 403.1 380.0 408.9 379.8 408.7C379.5 408.3 379.1 398.3 378.8 398.5C378.4 398.6 378.2 405.8 377.7 409.5C377.4 412.1 376.7 414.7 376.1 417.4C375.3 421.3 374.6 425.2 373.6 429.1C372.6 433.4 371.5 437.8 370.1 442.0C368.9 446.0 367.1 449.7 365.9 453.7C364.3 458.5 362.8 463.5 361.5 468.4C360.2 473.2 359.1 478.1 357.8 482.9C357.0 485.8 356.1 488.6 355.2 491.4C354.6 493.1 353.9 494.8 353.3 496.5C352.9 497.6 352.4 499.7 352.0 499.9C351.7 500.0 351.3 498.3 351.2 497.4C351.0 495.7 350.9 493.8 351.0 492.0C351.1 489.7 351.3 484.9 351.6 485.1C351.9 485.4 352.5 493.6 352.9 493.5C353.4 493.4 353.6 487.4 354.2 484.4C354.7 482.2 355.6 480.1 356.3 477.9C357.3 474.7 358.3 471.5 359.5 468.3C360.9 464.7 362.4 461.2 364.0 457.7C365.7 453.9 368.1 450.4 369.5 446.6C371.8 440.3 373.4 433.7 375.1 427.2C376.8 420.9 378.1 414.4 379.8 408.1C380.8 404.4 382.0 400.7 383.2 397.0C384.0 394.7 384.8 392.5 385.6 390.3C386.1 388.8 386.8 386.0 387.3 385.8C387.6 385.6 388.0 387.9 388.1 389.0C388.3 391.4 388.4 393.8 388.3 396.2C388.2 399.2 388.0 405.5 387.7 405.2C387.3 404.9 386.7 394.1 386.1 394.2C385.6 394.4 385.3 402.2 384.5 406.1C383.9 409.0 382.8 411.8 382.0 414.7C380.7 418.9 379.5 423.1 378.0 427.3C376.3 432.0 374.6 436.8 372.5 441.3C370.4 445.6 367.7 449.6 365.6 453.9C363.1 459.1 360.9 464.5 358.7 469.9C356.6 475.1 355.0 480.4 352.9 485.6C351.6 488.7 350.2 491.7 348.7 494.8C347.8 496.6 346.7 498.5 345.7 500.3C345.1 501.5 344.3 503.8 343.7 504.0C343.3 504.1 342.8 502.3 342.6 501.3C342.3 499.4 342.3 497.4 342.3 495.5C342.4 493.0 342.6 488.4 343.1 488.0C343.5 487.6 344.5 493.6 345.0 493.1C345.8 492.2 346.0 486.7 346.9 483.6C347.6 481.3 348.8 479.0 349.8 476.8C351.3 473.7 352.7 470.5 354.4 467.5C356.4 464.1 358.6 460.8 360.8 457.6C363.3 454.1 366.5 451.0 368.7 447.4C371.8 442.3 374.3 436.8 376.7 431.3C379.2 425.6 381.2 419.7 383.5 413.9C385.0 409.9 386.7 406.0 388.3 402.0C389.4 399.4 390.6 396.7 391.7 394.0C392.5 392.2 393.4 389.2 394.1 388.7C394.5 388.4 395.1 390.7 395.2 391.8C395.6 394.0 395.6 396.3 395.5 398.6C395.4 401.5 395.3 406.4 394.7 407.3C394.3 407.8 393.0 402.0 392.6 402.7C391.6 404.1 391.4 410.1 390.4 413.6C389.5 416.3 388.2 418.8 387.0 421.4C385.3 424.9 383.6 428.5 381.6 431.8C379.4 435.6 376.9 439.2 374.2 442.7C371.3 446.4 367.9 449.6 365.0 453.2C361.8 457.4 358.5 461.6 355.7 466.1C352.8 470.8 350.5 475.8 347.9 480.7C346.0 484.2 344.1 487.6 342.2 491.0C340.9 493.4 339.6 495.8 338.3 498.2C337.4 499.8 336.4 502.5 335.5 503.0C335.0 503.3 334.4 501.3 334.2 500.4C333.9 498.5 333.8 496.5 333.9 494.6C334.0 492.2 334.0 489.1 334.9 487.3C335.1 486.7 336.9 487.9 337.2 487.3C338.5 484.9 338.6 481.2 339.7 478.3C340.7 476.0 342.2 474.0 343.6 472.0C345.5 469.3 347.4 466.6 349.6 464.2C352.2 461.5 355.2 459.1 358.1 456.7C361.5 453.8 365.3 451.3 368.4 448.2C372.2 444.5 375.9 440.5 379.0 436.1C382.4 431.2 385.0 425.7 387.9 420.4C390.1 416.2 392.2 411.9 394.2 407.6C395.8 404.4 397.2 401.2 398.7 398.0C399.8 395.9 400.9 392.4 401.9 391.6C402.3 391.2 403.0 393.5 403.1 394.5C403.5 396.7 403.6 398.9 403.5 401.0C403.3 403.8 403.4 407.0 402.5 409.3C402.2 410.0 400.3 409.4 400.0 410.2C398.6 413.1 398.5 417.0 397.2 420.2C396.1 422.8 394.5 425.1 392.9 427.3C390.8 430.3 388.7 433.2 386.2 435.8C383.4 438.8 380.1 441.4 376.9 443.9C373.1 446.9 369.1 449.5 365.4 452.5C361.4 455.6 357.2 458.6 353.7 462.2C350.0 466.1 347.0 470.8 343.8 475.2C341.3 478.7 339.1 482.4 336.8 486.1C335.1 488.8 333.5 491.6 331.8 494.4C330.7 496.2 329.4 499.2 328.3 499.9C327.8 500.2 327.2 498.3 327.0 497.4C326.7 495.7 326.6 493.8 326.7 492.0C326.8 489.7 327.0 487.3 327.7 485.1C328.2 483.4 329.7 482.0 330.4 480.3C331.6 477.7 332.1 474.7 333.5 472.2C334.7 470.1 336.5 468.3 338.2 466.6C340.5 464.4 343.0 462.3 345.6 460.6C348.9 458.6 352.5 457.2 356.0 455.5C360.2 453.4 364.6 451.4 368.7 449.0C373.1 446.4 377.9 443.9 381.6 440.3C385.9 436.2 389.2 431.1 392.5 426.1C395.4 421.7 397.8 416.9 400.3 412.2C402.3 408.6 404.0 404.8 405.8 401.1C407.1 398.6 408.4 394.7 409.7 393.6C410.1 393.2 410.8 395.4 410.9 396.4C411.3 398.5 411.3 400.6 411.3 402.7C411.1 405.4 411.0 408.1 410.3 410.7C409.7 412.9 408.2 414.8 407.4 416.9C406.1 420.0 405.5 423.4 403.9 426.3C402.6 428.7 400.7 430.9 398.8 432.9C396.3 435.3 393.6 437.7 390.6 439.6C387.0 441.8 383.0 443.3 379.2 445.1C374.6 447.3 369.9 449.6 365.2 451.8C360.5 454.0 355.3 455.5 351.0 458.4C346.5 461.4 342.7 465.6 339.0 469.6C335.8 473.0 333.1 476.9 330.4 480.7C328.3 483.6 326.4 486.7 324.3 489.7C322.9 491.8 321.4 494.9 320.1 495.8C319.6 496.1 319.0 494.4 318.8 493.5C318.5 492.0 318.4 490.2 318.5 488.6C318.6 486.5 318.7 484.2 319.4 482.2C320.1 480.4 321.7 478.8 322.6 477.0C324.0 474.4 324.7 471.4 326.3 469.0C327.8 466.9 329.8 465.0 332.0 463.5C334.7 461.5 337.7 459.9 340.8 458.6C344.8 456.9 349.1 455.8 353.2 454.4C358.3 452.7 363.5 451.2 368.4 449.1C373.7 446.8 379.2 444.6 383.9 441.2C388.8 437.7 392.9 433.0 396.9 428.4C400.4 424.4 403.3 419.9 406.3 415.4C408.6 411.9 410.6 408.2 412.9 404.6C414.3 402.2 416.0 398.6 417.5 397.5C418.0 397.1 418.6 399.2 418.7 400.1C419.1 402.0 419.1 404.0 419.1 406.0C418.9 408.5 418.8 411.1 418.1 413.4C417.4 415.6 415.8 417.5 414.8 419.7C413.3 422.8 412.6 426.3 410.8 429.2C409.2 431.6 407.0 433.9 404.7 435.7C401.8 438.0 398.5 439.8 395.2 441.4C390.9 443.3 386.4 444.7 381.9 446.2C376.5 448.1 371.0 449.9 365.6 451.8C360.0 453.9 354.1 455.3 349.0 458.1C343.9 460.8 339.3 464.5 335.0 468.2C331.3 471.3 328.1 474.9 324.9 478.4C322.4 481.2 320.3 484.3 317.9 487.1C316.2 489.0 314.4 491.8 312.9 492.7C312.4 493.0 311.8 491.4 311.6 490.6C311.3 489.1 311.2 487.5 311.3 486.0C311.4 484.0 311.5 481.9 312.3 480.1C313.0 478.2 314.7 476.6 315.8 474.8C317.3 472.2 318.2 469.1 320.1 466.7C321.8 464.5 324.2 462.6 326.6 461.2C329.7 459.4 333.3 458.2 336.8 457.1C341.5 455.7 346.3 454.7 351.1 453.5C356.9 452.0 362.9 450.9 368.6 449.1C374.7 447.1 380.9 445.0 386.5 442.0C391.9 439.0 396.9 434.9 401.5 430.8C405.5 427.4 408.9 423.5 412.3 419.5C415.1 416.4 417.3 412.8 419.9 409.5C421.6 407.4 423.6 404.3 425.3 403.3C425.8 403.0 426.3 404.8 426.5 405.6C426.9 407.3 426.9 409.1 426.8 410.8C426.7 413.1 426.7 415.4 425.9 417.5C425.1 419.6 423.3 421.4 422.1 423.5C420.5 426.5 419.6 430.0 417.5 432.7C415.7 435.2 413.2 437.4 410.6 439.0C407.2 441.0 403.3 442.2 399.6 443.4C394.6 445.1 389.4 446.2 384.3 447.5C378.0 449.0 371.7 450.2 365.5 451.9C359.0 453.6 352.4 455.0 346.3 457.6C340.6 459.9 335.3 463.1 330.1 466.5C326.0 469.1 322.3 472.3 318.6 475.5C315.7 478.0 313.2 481.0 310.4 483.6C308.6 485.4 306.5 487.8 304.7 488.6C304.2 488.9 303.6 487.4 303.4 486.7C303.1 485.4 303.0 483.9 303.1 482.5C303.2 480.7 303.3 478.8 304.1 477.2C305.0 475.3 306.8 473.9 308.0 472.1C309.8 469.6 310.9 466.4 312.9 464.2C315.0 462.0 317.6 460.1 320.4 458.9C324.0 457.3 328.1 456.6 332.1 455.7C337.5 454.5 342.9 453.6 348.4 452.6C355.0 451.4 361.8 450.7 368.4 449.1C375.3 447.4 382.3 445.4 388.8 442.6C394.8 440.1 400.6 436.6 406.0 433.0C410.4 430.1 414.5 426.6 418.4 423.0C421.5 420.2 424.0 416.7 427.0 413.8C429.0 411.8 431.2 409.1 433.1 408.2C433.7 408.0 434.2 409.6 434.4 410.3C434.7 411.8 434.8 413.5 434.7 415.0C434.6 417.0 434.5 419.2 433.8 420.9C432.8 423.1 430.8 424.7 429.6 426.7C427.7 429.6 426.6 433.1 424.4 435.7C422.2 438.1 419.4 440.3 416.5 441.7C412.6 443.5 408.2 444.2 404.0 445.1C398.3 446.5 392.5 447.5 386.7 448.5C379.6 449.7 372.4 450.5 365.3 451.9C358.0 453.4 350.7 454.9 343.6 457.2C337.3 459.3 331.2 462.1 325.3 465.1C320.7 467.5 316.4 470.3 312.2 473.3C308.9 475.6 306.1 478.5 303.0 481.0C300.9 482.6 298.5 484.8 296.5 485.5C295.9 485.7 295.4 484.4 295.2 483.8C294.9 482.6 294.8 481.2 294.9 479.9C295.0 478.3 295.1 476.5 295.8 475.0C296.9 473.2 298.9 471.8 300.2 470.1C302.2 467.5 303.5 464.4 305.7 462.3C308.1 460.1 311.0 458.1 314.1 457.0C318.2 455.6 322.8 455.2 327.2 454.5C333.3 453.5 339.5 452.8 345.6 451.9C353.1 450.9 360.7 450.5 368.1 449.0C375.8 447.5 383.6 445.6 391.1 443.0C397.7 440.6 404.2 437.6 410.4 434.2C415.3 431.6 419.9 428.5 424.3 425.1C427.8 422.5 430.7 419.1 434.0 416.2C436.2 414.4 438.8 411.9 440.9 411.1C441.5 410.9 442.0 412.4 442.1 413.1C442.5 414.5 442.5 416.0 442.5 417.4C442.3 419.3 442.3 421.4 441.5 423.0C440.5 425.1 438.3 426.6 436.9 428.6C434.9 431.5 433.6 435.0 431.2 437.4C428.7 439.9 425.6 442.1 422.4 443.3C418.1 445.0 413.2 445.4 408.6 446.2C402.2 447.3 395.8 448.2 389.3 449.1C381.5 450.1 373.5 450.6 365.7 451.9C357.6 453.2 349.5 454.6 341.6 456.8C334.7 458.6 327.9 461.1 321.3 463.8C316.3 465.9 311.4 468.4 306.7 471.1C303.1 473.2 300.0 476.0 296.5 478.3C294.2 479.8 290.0 483.5 289.3 482.4C288.3 480.8 289.8 474.0 291.5 470.4C293.6 466.0 296.5 461.0 300.5 458.5C306.2 455.0 313.8 453.5 320.8 452.6C337.8 450.4 363.8 449.8 372.4 449.3"/>
<path class="p" d="M365.7 450.6C366.3 447.0 367.9 436.0 369.3 428.8C370.3 423.9 372.3 416.7 372.9 414.3C372.9 414.5 372.8 415.3 372.8 415.8C372.7 416.8 372.6 417.9 372.5 419.0C372.4 421.2 372.3 423.5 372.0 425.7C371.8 427.3 371.5 428.9 371.2 430.5C370.8 432.8 370.4 435.2 369.9 437.5C369.4 440.2 368.8 442.8 368.2 445.4C367.5 448.0 366.6 450.5 366.0 453.1C365.1 457.0 364.5 460.9 363.8 464.9C363.1 468.8 362.6 472.7 361.9 476.6C361.5 478.8 361.0 481.1 360.6 483.3C360.3 484.7 359.9 486.1 359.6 487.5C359.4 488.4 359.1 489.7 359.0 490.2C359.0 489.9 359.1 489.1 359.1 488.6C359.3 487.4 359.4 486.2 359.5 485.1C359.8 482.6 359.9 480.2 360.3 477.8C360.6 476.0 361.1 474.3 361.6 472.6C362.2 470.0 362.8 467.4 363.5 464.8C364.4 462.0 365.3 459.1 366.3 456.3C367.3 453.2 368.8 450.3 369.6 447.1C371.1 441.6 372.0 436.0 373.0 430.4C374.1 424.9 374.9 419.3 375.9 413.9C376.5 410.6 377.2 407.5 378.0 404.3C378.4 402.3 378.9 400.4 379.4 398.4C379.8 397.1 380.3 395.2 380.4 394.6C380.4 394.9 380.3 396.1 380.2 396.8C380.0 398.5 379.9 400.2 379.7 401.9C379.3 405.3 379.1 408.7 378.6 412.1C378.2 414.6 377.5 417.1 377.0 419.5C376.1 423.2 375.4 426.8 374.4 430.5C373.3 434.5 372.1 438.6 370.8 442.6C369.5 446.4 367.6 450.1 366.3 454.0C364.6 459.3 363.2 464.8 361.8 470.3C360.4 475.6 359.4 481.0 358.0 486.3C357.2 489.4 356.2 492.5 355.3 495.6C354.7 497.5 354.0 499.4 353.3 501.3C352.9 502.6 352.2 504.4 352.0 505.1C352.0 504.6 352.2 503.4 352.3 502.5C352.5 500.8 352.7 499.1 353.0 497.4C353.4 494.0 353.7 490.7 354.4 487.4C354.9 485.0 355.8 482.6 356.5 480.3C357.6 476.8 358.6 473.2 359.9 469.8C361.3 465.9 362.9 462.1 364.6 458.3C366.4 454.5 368.8 451.0 370.4 447.1C372.7 441.6 374.5 435.8 376.3 430.1C378.1 424.5 379.5 418.7 381.2 413.1C382.3 409.7 383.6 406.3 384.8 403.0C385.6 400.9 386.5 398.8 387.3 396.7C387.9 395.3 388.8 393.3 389.1 392.6C389.0 393.0 388.8 394.4 388.7 395.3C388.4 397.1 388.2 398.9 387.9 400.8C387.3 404.3 387.0 407.9 386.2 411.4C385.5 414.0 384.4 416.5 383.5 419.0C382.2 422.7 380.9 426.5 379.4 430.1C377.6 434.3 375.8 438.4 373.6 442.4C371.5 446.4 368.6 450.1 366.6 454.1C363.8 459.7 361.6 465.5 359.3 471.3C357.1 477.0 355.4 482.8 353.3 488.5C351.9 491.9 350.4 495.3 348.9 498.7C347.9 500.8 346.9 502.9 345.8 505.0C345.1 506.4 344.0 508.5 343.7 509.2C343.7 508.2 343.9 505.2 344.1 503.2C344.4 500.6 344.6 497.9 345.1 495.2C345.6 491.8 346.1 488.3 347.1 484.9C347.8 482.4 349.1 480.0 350.2 477.6C351.7 474.3 353.2 471.0 355.0 467.9C357.1 464.5 359.4 461.2 361.8 458.0C364.4 454.5 367.6 451.4 370.1 447.9C373.2 443.5 376.1 438.9 378.6 434.2C381.3 429.1 383.3 423.7 385.7 418.5C387.4 414.6 389.1 410.8 390.8 407.0C392.0 404.3 393.2 401.6 394.4 399.0C395.2 397.2 396.5 394.5 396.9 393.6C396.9 394.5 396.7 397.5 396.4 399.4C396.1 402.0 395.8 404.6 395.3 407.2C394.7 410.6 394.1 414.0 393.0 417.2C392.1 419.7 390.7 422.0 389.4 424.3C387.7 427.5 385.9 430.8 383.9 433.7C381.5 437.1 378.8 440.3 376.0 443.4C373.0 446.9 369.3 449.8 366.5 453.4C362.9 457.8 359.6 462.6 356.7 467.4C353.6 472.6 351.2 478.2 348.5 483.6C346.5 487.6 344.5 491.5 342.6 495.4C341.2 498.2 339.8 500.9 338.4 503.7C337.5 505.5 336.0 508.3 335.5 509.2C335.6 507.7 335.8 503.3 336.0 500.4C336.4 496.9 336.6 493.5 337.3 490.2C337.9 486.8 338.6 483.4 339.9 480.2C340.8 477.7 342.4 475.5 343.8 473.2C345.8 470.4 347.7 467.5 350.1 464.9C352.7 462.1 355.8 459.6 358.8 457.1C362.2 454.2 366.0 451.6 369.4 448.6C373.2 445.2 377.2 441.9 380.3 438.0C383.8 433.6 386.6 428.5 389.5 423.6C391.8 419.6 393.9 415.4 396.0 411.3C397.6 408.2 399.1 405.0 400.7 401.9C401.7 399.8 403.4 396.6 403.9 395.6C403.8 396.9 403.6 401.1 403.3 403.9C403.0 407.1 402.6 410.3 401.9 413.4C401.2 416.6 400.4 419.8 399.1 422.8C398.0 425.1 396.3 427.3 394.7 429.4C392.6 432.1 390.3 434.8 387.8 437.1C384.8 439.8 381.5 442.1 378.2 444.5C374.3 447.3 370.2 449.7 366.4 452.6C362.2 455.8 357.9 459.0 354.4 462.8C350.5 467.0 347.5 472.0 344.3 476.8C341.7 480.7 339.4 484.8 337.0 488.8C335.2 491.8 333.6 494.9 331.9 497.9C330.7 500.0 328.9 503.0 328.3 504.1C328.4 502.3 328.6 497.0 329.0 493.4C329.3 489.7 329.6 485.8 330.5 482.2C331.2 479.1 332.2 476.0 333.6 473.3C334.8 471.1 336.6 469.0 338.5 467.2C340.8 464.9 343.3 462.6 346.0 460.9C349.3 458.8 353.1 457.5 356.6 455.7C360.9 453.6 365.3 451.5 369.6 449.2C374.1 446.7 379.0 444.7 382.8 441.4C387.1 437.8 390.6 432.9 394.0 428.3C397.0 424.2 399.4 419.7 402.0 415.2C404.0 411.8 405.7 408.1 407.6 404.6C408.9 402.2 410.9 398.7 411.5 397.5C411.4 399.2 411.2 404.5 410.8 408.0C410.4 411.8 410.1 415.6 409.2 419.2C408.4 422.3 407.3 425.3 405.7 428.0C404.3 430.3 402.4 432.3 400.4 434.1C397.8 436.4 395.1 438.6 392.1 440.4C388.4 442.4 384.3 443.8 380.4 445.5C375.7 447.6 370.9 449.7 366.2 451.9C361.3 454.3 355.9 456.1 351.6 459.3C347.0 462.7 343.1 467.3 339.4 471.7C336.1 475.6 333.4 479.9 330.6 484.1C328.4 487.4 326.5 490.9 324.4 494.2C323.0 496.5 320.8 499.8 320.1 501.0C320.2 499.3 320.5 494.1 320.9 490.8C321.3 487.1 321.7 483.4 322.6 479.9C323.5 476.8 324.7 473.7 326.4 470.9C327.8 468.6 329.9 466.5 332.1 464.7C334.8 462.6 337.9 460.8 341.0 459.4C345.0 457.5 349.3 456.3 353.5 454.8C358.6 452.9 363.8 451.2 368.8 449.1C374.2 446.9 379.8 444.9 384.5 441.7C389.4 438.4 393.6 434.0 397.7 429.6C401.1 425.9 404.1 421.6 407.1 417.4C409.5 414.1 411.5 410.5 413.7 407.1C415.2 404.9 417.6 401.6 418.4 400.4C418.3 402.1 418.0 407.2 417.6 410.6C417.1 414.2 416.7 418.0 415.6 421.4C414.7 424.6 413.4 427.8 411.6 430.5C410.0 432.9 407.8 435.0 405.4 436.7C402.5 438.9 399.1 440.6 395.7 442.0C391.4 443.9 386.7 445.1 382.2 446.6C376.7 448.4 371.1 450.0 365.6 452.0C359.9 454.1 353.9 456.0 348.7 459.0C343.5 462.1 338.9 466.2 334.4 470.4C330.7 473.8 327.5 477.9 324.2 481.8C321.7 484.9 319.5 488.4 317.0 491.6C315.4 493.7 312.8 496.8 312.0 497.9C312.1 496.2 312.4 491.3 312.9 488.1C313.4 484.6 313.9 481.0 315.0 477.7C316.0 474.5 317.4 471.3 319.3 468.6C321.0 466.1 323.4 463.9 325.9 462.3C329.1 460.3 332.7 459.0 336.3 457.8C341.0 456.2 346.0 455.1 350.8 453.8C356.7 452.2 362.8 451.0 368.6 449.1C374.8 447.2 381.1 445.4 386.8 442.5C392.2 439.7 397.3 435.9 402.1 432.1C406.0 428.9 409.6 425.2 413.0 421.5C415.8 418.6 418.1 415.2 420.7 412.1C422.5 410.1 425.3 407.2 426.2 406.2C426.0 407.8 425.7 412.4 425.2 415.4C424.6 418.7 424.1 422.1 423.0 425.2C421.9 428.2 420.4 431.3 418.4 433.8C416.5 436.2 414.0 438.3 411.3 439.7C407.9 441.6 404.1 442.8 400.3 443.9C395.2 445.4 390.0 446.4 384.9 447.7C378.6 449.2 372.1 450.3 365.9 452.1C359.4 454.0 352.7 455.8 346.6 458.7C340.8 461.4 335.5 465.2 330.3 469.0C326.2 472.1 322.4 475.8 318.7 479.5C315.7 482.4 313.3 485.8 310.5 488.9C308.6 490.9 305.7 493.7 304.7 494.7C304.9 493.1 305.2 488.5 305.7 485.4C306.3 482.1 306.9 478.7 308.1 475.5C309.3 472.3 310.8 468.9 313.0 466.3C315.0 463.8 317.6 461.5 320.5 460.0C324.1 458.2 328.3 457.4 332.2 456.4C337.7 455.0 343.2 454.0 348.7 452.9C355.4 451.5 362.2 450.7 368.8 449.1C375.8 447.4 382.8 445.6 389.4 443.0C395.4 440.5 401.2 437.2 406.7 433.8C411.1 431.0 415.2 427.7 419.2 424.3C422.3 421.6 424.9 418.3 427.9 415.4C429.8 413.6 433.0 411.0 434.0 410.1C433.8 411.6 433.5 415.8 432.9 418.6C432.3 421.7 431.7 424.9 430.5 427.7C429.2 430.8 427.5 433.8 425.3 436.2C423.1 438.6 420.3 440.6 417.4 441.9C413.5 443.7 409.1 444.4 405.0 445.3C399.2 446.6 393.4 447.5 387.6 448.5C380.6 449.8 373.4 450.5 366.4 452.1C359.0 453.9 351.6 455.8 344.7 458.5C338.3 461.1 332.2 464.5 326.4 468.1C321.8 471.0 317.4 474.4 313.3 478.0C310.0 480.8 307.2 484.2 304.1 487.2C302.0 489.2 298.7 491.8 297.6 492.7C297.8 491.2 298.2 486.7 298.7 483.7C299.4 480.5 300.0 477.1 301.3 474.1C302.7 470.8 304.4 467.3 306.8 464.7C309.0 462.1 312.0 459.7 315.1 458.4C319.1 456.6 323.7 456.2 328.1 455.3C334.2 454.1 340.2 453.2 346.3 452.2C353.8 451.0 361.3 450.5 368.7 448.9C376.4 447.3 384.1 445.3 391.4 442.6C398.1 440.1 404.5 436.9 410.6 433.4C415.5 430.7 420.1 427.4 424.4 423.9C427.9 421.1 430.7 417.5 434.1 414.5C436.2 412.6 439.7 410.0 440.9 409.2C440.7 410.6 440.3 415.1 439.7 418.0C439.0 421.2 438.3 424.5 436.9 427.5C435.5 430.8 433.6 434.2 431.2 436.8C428.8 439.3 425.6 441.6 422.4 443.0C418.1 444.7 413.2 445.1 408.6 446.0C402.2 447.1 395.8 448.1 389.3 449.0C381.5 450.2 373.5 450.7 365.7 452.4C357.5 454.2 349.4 456.4 341.6 459.4C334.6 462.0 327.8 465.6 321.3 469.4C316.1 472.4 311.3 476.0 306.7 479.8C303.0 482.8 300.0 486.7 296.5 490.0C294.2 492.1 290.5 494.8 289.3 495.8C289.7 492.7 289.7 482.9 291.5 477.0C293.4 471.1 296.0 464.2 300.5 460.5C305.7 456.3 313.7 454.3 320.8 453.2C337.7 450.6 363.8 449.9 372.4 449.3"/>
<path class="ax" d="M275.8 377.5V523.2H456.1"/>
<path class="tk" d="M275.8 523.2v2.2M287.04 523.2v1.3M298.28 523.2v2.2M309.51 523.2v1.3M320.75 523.2v2.2M331.99 523.2v1.3M343.23 523.2v2.2M354.46 523.2v1.3M365.7 523.2v2.2M376.94 523.2v1.3M388.18 523.2v2.2M399.41 523.2v1.3M410.65 523.2v2.2M421.89 523.2v1.3M433.12 523.2v2.2M444.36 523.2v1.3M455.6 523.2v2.2M275.8 516.6h-2.4M275.8 500.1h-1.3M275.8 483.6h-2.4M275.8 467.1h-1.3M275.8 450.6h-2.4M275.8 434.1h-1.3M275.8 417.6h-2.4M275.8 401.1h-1.3M275.8 384.6h-2.4"/>
<text class="tl" x="275.8" y="532.5" text-anchor="middle">-4</text>
<text class="tl" x="298.28" y="532.5" text-anchor="middle">-3</text>
<text class="tl" x="320.75" y="532.5" text-anchor="middle">-2</text>
<text class="tl" x="343.23" y="532.5" text-anchor="middle">-1</text>
<text class="tl" x="365.7" y="532.5" text-anchor="middle">0</text>
<text class="tl" x="388.18" y="532.5" text-anchor="middle">1</text>
<text class="tl" x="410.65" y="532.5" text-anchor="middle">2</text>
<text class="tl" x="433.12" y="532.5" text-anchor="middle">3</text>
<text class="tl" x="455.6" y="532.5" text-anchor="middle">4</text>
<text class="tl" x="271.5" y="518.8" text-anchor="end">-1.0</text>
<text class="tl" x="271.5" y="485.8" text-anchor="end">-0.5</text>
<text class="tl" x="271.5" y="452.8" text-anchor="end">0.0</text>
<text class="tl" x="271.5" y="419.8" text-anchor="end">0.5</text>
<text class="tl" x="271.5" y="386.8" text-anchor="end">1.0</text>
<text class="at" x="365.7" y="544.8" text-anchor="middle">Displacement Ductility Demand</text>
<text class="at" transform="translate(253.2 444) rotate(-90)" text-anchor="middle">Normalized Inelastic Restoring Force</text>
<text class="ti" x="366" y="378.9" text-anchor="middle">S16</text>
<rect class="lg" x="280.8" y="379.7" width="55.4" height="19"/>
<path class="e le" d="M281.5 384.7h17.4"/>
<path class="p le" d="M281.5 393.9h17.4"/>
<text class="lt" x="301.1" y="387.2">Experiment</text>
<text class="lt" x="301.1" y="396.4">Prediction</text>
</g>
<text class="fs" x="240.4" y="189.2">FS</text>
</svg>
</body>
</html>
